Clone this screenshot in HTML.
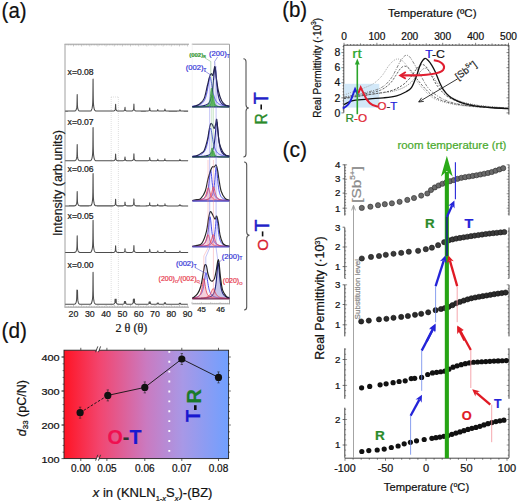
<!DOCTYPE html>
<html><head><meta charset="utf-8"><style>
html,body{margin:0;padding:0;background:#fff;}
body{width:520px;height:504px;overflow:hidden;}
svg{display:block;font-family:"Liberation Sans", sans-serif;}
</style></head><body>
<svg width="520" height="504" viewBox="0 0 520 504">
<rect width="520" height="504" fill="#fff"/>
<text x="1.6" y="17.5" font-size="22.4" fill="#111" text-anchor="start" font-weight="normal" font-style="normal" textLength="25" lengthAdjust="spacingAndGlyphs" stroke="#111" stroke-width="0.22">(a)</text>
<line x1="65" y1="44.2" x2="65" y2="307.4" stroke="#a0a0a0" stroke-width="1"/>
<line x1="64.5" y1="44.2" x2="189" y2="44.2" stroke="#a0a0a0" stroke-width="1"/>
<line x1="64.5" y1="307.2" x2="189" y2="307.2" stroke="#a0a0a0" stroke-width="1"/>
<line x1="66.98" y1="44.2" x2="66.98" y2="45.5" stroke="#a0a0a0" stroke-width="0.6"/>
<line x1="66.98" y1="307.2" x2="66.98" y2="305.9" stroke="#a0a0a0" stroke-width="0.6"/>
<line x1="68.61" y1="44.2" x2="68.61" y2="45.5" stroke="#a0a0a0" stroke-width="0.6"/>
<line x1="68.61" y1="307.2" x2="68.61" y2="305.9" stroke="#a0a0a0" stroke-width="0.6"/>
<line x1="70.24" y1="44.2" x2="70.24" y2="45.5" stroke="#a0a0a0" stroke-width="0.6"/>
<line x1="70.24" y1="307.2" x2="70.24" y2="305.9" stroke="#a0a0a0" stroke-width="0.6"/>
<line x1="71.87" y1="44.2" x2="71.87" y2="45.5" stroke="#a0a0a0" stroke-width="0.6"/>
<line x1="71.87" y1="307.2" x2="71.87" y2="305.9" stroke="#a0a0a0" stroke-width="0.6"/>
<line x1="73.5" y1="44.2" x2="73.5" y2="46.4" stroke="#a0a0a0" stroke-width="0.6"/>
<line x1="73.5" y1="307.2" x2="73.5" y2="305" stroke="#a0a0a0" stroke-width="0.6"/>
<line x1="75.13" y1="44.2" x2="75.13" y2="45.5" stroke="#a0a0a0" stroke-width="0.6"/>
<line x1="75.13" y1="307.2" x2="75.13" y2="305.9" stroke="#a0a0a0" stroke-width="0.6"/>
<line x1="76.76" y1="44.2" x2="76.76" y2="45.5" stroke="#a0a0a0" stroke-width="0.6"/>
<line x1="76.76" y1="307.2" x2="76.76" y2="305.9" stroke="#a0a0a0" stroke-width="0.6"/>
<line x1="78.39" y1="44.2" x2="78.39" y2="45.5" stroke="#a0a0a0" stroke-width="0.6"/>
<line x1="78.39" y1="307.2" x2="78.39" y2="305.9" stroke="#a0a0a0" stroke-width="0.6"/>
<line x1="80.02" y1="44.2" x2="80.02" y2="45.5" stroke="#a0a0a0" stroke-width="0.6"/>
<line x1="80.02" y1="307.2" x2="80.02" y2="305.9" stroke="#a0a0a0" stroke-width="0.6"/>
<line x1="81.65" y1="44.2" x2="81.65" y2="46.4" stroke="#a0a0a0" stroke-width="0.6"/>
<line x1="81.65" y1="307.2" x2="81.65" y2="305" stroke="#a0a0a0" stroke-width="0.6"/>
<line x1="83.28" y1="44.2" x2="83.28" y2="45.5" stroke="#a0a0a0" stroke-width="0.6"/>
<line x1="83.28" y1="307.2" x2="83.28" y2="305.9" stroke="#a0a0a0" stroke-width="0.6"/>
<line x1="84.91" y1="44.2" x2="84.91" y2="45.5" stroke="#a0a0a0" stroke-width="0.6"/>
<line x1="84.91" y1="307.2" x2="84.91" y2="305.9" stroke="#a0a0a0" stroke-width="0.6"/>
<line x1="86.54" y1="44.2" x2="86.54" y2="45.5" stroke="#a0a0a0" stroke-width="0.6"/>
<line x1="86.54" y1="307.2" x2="86.54" y2="305.9" stroke="#a0a0a0" stroke-width="0.6"/>
<line x1="88.17" y1="44.2" x2="88.17" y2="45.5" stroke="#a0a0a0" stroke-width="0.6"/>
<line x1="88.17" y1="307.2" x2="88.17" y2="305.9" stroke="#a0a0a0" stroke-width="0.6"/>
<line x1="89.8" y1="44.2" x2="89.8" y2="46.4" stroke="#a0a0a0" stroke-width="0.6"/>
<line x1="89.8" y1="307.2" x2="89.8" y2="305" stroke="#a0a0a0" stroke-width="0.6"/>
<line x1="91.43" y1="44.2" x2="91.43" y2="45.5" stroke="#a0a0a0" stroke-width="0.6"/>
<line x1="91.43" y1="307.2" x2="91.43" y2="305.9" stroke="#a0a0a0" stroke-width="0.6"/>
<line x1="93.06" y1="44.2" x2="93.06" y2="45.5" stroke="#a0a0a0" stroke-width="0.6"/>
<line x1="93.06" y1="307.2" x2="93.06" y2="305.9" stroke="#a0a0a0" stroke-width="0.6"/>
<line x1="94.69" y1="44.2" x2="94.69" y2="45.5" stroke="#a0a0a0" stroke-width="0.6"/>
<line x1="94.69" y1="307.2" x2="94.69" y2="305.9" stroke="#a0a0a0" stroke-width="0.6"/>
<line x1="96.32" y1="44.2" x2="96.32" y2="45.5" stroke="#a0a0a0" stroke-width="0.6"/>
<line x1="96.32" y1="307.2" x2="96.32" y2="305.9" stroke="#a0a0a0" stroke-width="0.6"/>
<line x1="97.95" y1="44.2" x2="97.95" y2="46.4" stroke="#a0a0a0" stroke-width="0.6"/>
<line x1="97.95" y1="307.2" x2="97.95" y2="305" stroke="#a0a0a0" stroke-width="0.6"/>
<line x1="99.58" y1="44.2" x2="99.58" y2="45.5" stroke="#a0a0a0" stroke-width="0.6"/>
<line x1="99.58" y1="307.2" x2="99.58" y2="305.9" stroke="#a0a0a0" stroke-width="0.6"/>
<line x1="101.21" y1="44.2" x2="101.21" y2="45.5" stroke="#a0a0a0" stroke-width="0.6"/>
<line x1="101.21" y1="307.2" x2="101.21" y2="305.9" stroke="#a0a0a0" stroke-width="0.6"/>
<line x1="102.84" y1="44.2" x2="102.84" y2="45.5" stroke="#a0a0a0" stroke-width="0.6"/>
<line x1="102.84" y1="307.2" x2="102.84" y2="305.9" stroke="#a0a0a0" stroke-width="0.6"/>
<line x1="104.47" y1="44.2" x2="104.47" y2="45.5" stroke="#a0a0a0" stroke-width="0.6"/>
<line x1="104.47" y1="307.2" x2="104.47" y2="305.9" stroke="#a0a0a0" stroke-width="0.6"/>
<line x1="106.1" y1="44.2" x2="106.1" y2="46.4" stroke="#a0a0a0" stroke-width="0.6"/>
<line x1="106.1" y1="307.2" x2="106.1" y2="305" stroke="#a0a0a0" stroke-width="0.6"/>
<line x1="107.73" y1="44.2" x2="107.73" y2="45.5" stroke="#a0a0a0" stroke-width="0.6"/>
<line x1="107.73" y1="307.2" x2="107.73" y2="305.9" stroke="#a0a0a0" stroke-width="0.6"/>
<line x1="109.36" y1="44.2" x2="109.36" y2="45.5" stroke="#a0a0a0" stroke-width="0.6"/>
<line x1="109.36" y1="307.2" x2="109.36" y2="305.9" stroke="#a0a0a0" stroke-width="0.6"/>
<line x1="110.99" y1="44.2" x2="110.99" y2="45.5" stroke="#a0a0a0" stroke-width="0.6"/>
<line x1="110.99" y1="307.2" x2="110.99" y2="305.9" stroke="#a0a0a0" stroke-width="0.6"/>
<line x1="112.62" y1="44.2" x2="112.62" y2="45.5" stroke="#a0a0a0" stroke-width="0.6"/>
<line x1="112.62" y1="307.2" x2="112.62" y2="305.9" stroke="#a0a0a0" stroke-width="0.6"/>
<line x1="114.25" y1="44.2" x2="114.25" y2="46.4" stroke="#a0a0a0" stroke-width="0.6"/>
<line x1="114.25" y1="307.2" x2="114.25" y2="305" stroke="#a0a0a0" stroke-width="0.6"/>
<line x1="115.88" y1="44.2" x2="115.88" y2="45.5" stroke="#a0a0a0" stroke-width="0.6"/>
<line x1="115.88" y1="307.2" x2="115.88" y2="305.9" stroke="#a0a0a0" stroke-width="0.6"/>
<line x1="117.51" y1="44.2" x2="117.51" y2="45.5" stroke="#a0a0a0" stroke-width="0.6"/>
<line x1="117.51" y1="307.2" x2="117.51" y2="305.9" stroke="#a0a0a0" stroke-width="0.6"/>
<line x1="119.14" y1="44.2" x2="119.14" y2="45.5" stroke="#a0a0a0" stroke-width="0.6"/>
<line x1="119.14" y1="307.2" x2="119.14" y2="305.9" stroke="#a0a0a0" stroke-width="0.6"/>
<line x1="120.77" y1="44.2" x2="120.77" y2="45.5" stroke="#a0a0a0" stroke-width="0.6"/>
<line x1="120.77" y1="307.2" x2="120.77" y2="305.9" stroke="#a0a0a0" stroke-width="0.6"/>
<line x1="122.4" y1="44.2" x2="122.4" y2="46.4" stroke="#a0a0a0" stroke-width="0.6"/>
<line x1="122.4" y1="307.2" x2="122.4" y2="305" stroke="#a0a0a0" stroke-width="0.6"/>
<line x1="124.03" y1="44.2" x2="124.03" y2="45.5" stroke="#a0a0a0" stroke-width="0.6"/>
<line x1="124.03" y1="307.2" x2="124.03" y2="305.9" stroke="#a0a0a0" stroke-width="0.6"/>
<line x1="125.66" y1="44.2" x2="125.66" y2="45.5" stroke="#a0a0a0" stroke-width="0.6"/>
<line x1="125.66" y1="307.2" x2="125.66" y2="305.9" stroke="#a0a0a0" stroke-width="0.6"/>
<line x1="127.29" y1="44.2" x2="127.29" y2="45.5" stroke="#a0a0a0" stroke-width="0.6"/>
<line x1="127.29" y1="307.2" x2="127.29" y2="305.9" stroke="#a0a0a0" stroke-width="0.6"/>
<line x1="128.92" y1="44.2" x2="128.92" y2="45.5" stroke="#a0a0a0" stroke-width="0.6"/>
<line x1="128.92" y1="307.2" x2="128.92" y2="305.9" stroke="#a0a0a0" stroke-width="0.6"/>
<line x1="130.55" y1="44.2" x2="130.55" y2="46.4" stroke="#a0a0a0" stroke-width="0.6"/>
<line x1="130.55" y1="307.2" x2="130.55" y2="305" stroke="#a0a0a0" stroke-width="0.6"/>
<line x1="132.18" y1="44.2" x2="132.18" y2="45.5" stroke="#a0a0a0" stroke-width="0.6"/>
<line x1="132.18" y1="307.2" x2="132.18" y2="305.9" stroke="#a0a0a0" stroke-width="0.6"/>
<line x1="133.81" y1="44.2" x2="133.81" y2="45.5" stroke="#a0a0a0" stroke-width="0.6"/>
<line x1="133.81" y1="307.2" x2="133.81" y2="305.9" stroke="#a0a0a0" stroke-width="0.6"/>
<line x1="135.44" y1="44.2" x2="135.44" y2="45.5" stroke="#a0a0a0" stroke-width="0.6"/>
<line x1="135.44" y1="307.2" x2="135.44" y2="305.9" stroke="#a0a0a0" stroke-width="0.6"/>
<line x1="137.07" y1="44.2" x2="137.07" y2="45.5" stroke="#a0a0a0" stroke-width="0.6"/>
<line x1="137.07" y1="307.2" x2="137.07" y2="305.9" stroke="#a0a0a0" stroke-width="0.6"/>
<line x1="138.7" y1="44.2" x2="138.7" y2="46.4" stroke="#a0a0a0" stroke-width="0.6"/>
<line x1="138.7" y1="307.2" x2="138.7" y2="305" stroke="#a0a0a0" stroke-width="0.6"/>
<line x1="140.33" y1="44.2" x2="140.33" y2="45.5" stroke="#a0a0a0" stroke-width="0.6"/>
<line x1="140.33" y1="307.2" x2="140.33" y2="305.9" stroke="#a0a0a0" stroke-width="0.6"/>
<line x1="141.96" y1="44.2" x2="141.96" y2="45.5" stroke="#a0a0a0" stroke-width="0.6"/>
<line x1="141.96" y1="307.2" x2="141.96" y2="305.9" stroke="#a0a0a0" stroke-width="0.6"/>
<line x1="143.59" y1="44.2" x2="143.59" y2="45.5" stroke="#a0a0a0" stroke-width="0.6"/>
<line x1="143.59" y1="307.2" x2="143.59" y2="305.9" stroke="#a0a0a0" stroke-width="0.6"/>
<line x1="145.22" y1="44.2" x2="145.22" y2="45.5" stroke="#a0a0a0" stroke-width="0.6"/>
<line x1="145.22" y1="307.2" x2="145.22" y2="305.9" stroke="#a0a0a0" stroke-width="0.6"/>
<line x1="146.85" y1="44.2" x2="146.85" y2="46.4" stroke="#a0a0a0" stroke-width="0.6"/>
<line x1="146.85" y1="307.2" x2="146.85" y2="305" stroke="#a0a0a0" stroke-width="0.6"/>
<line x1="148.48" y1="44.2" x2="148.48" y2="45.5" stroke="#a0a0a0" stroke-width="0.6"/>
<line x1="148.48" y1="307.2" x2="148.48" y2="305.9" stroke="#a0a0a0" stroke-width="0.6"/>
<line x1="150.11" y1="44.2" x2="150.11" y2="45.5" stroke="#a0a0a0" stroke-width="0.6"/>
<line x1="150.11" y1="307.2" x2="150.11" y2="305.9" stroke="#a0a0a0" stroke-width="0.6"/>
<line x1="151.74" y1="44.2" x2="151.74" y2="45.5" stroke="#a0a0a0" stroke-width="0.6"/>
<line x1="151.74" y1="307.2" x2="151.74" y2="305.9" stroke="#a0a0a0" stroke-width="0.6"/>
<line x1="153.37" y1="44.2" x2="153.37" y2="45.5" stroke="#a0a0a0" stroke-width="0.6"/>
<line x1="153.37" y1="307.2" x2="153.37" y2="305.9" stroke="#a0a0a0" stroke-width="0.6"/>
<line x1="155" y1="44.2" x2="155" y2="46.4" stroke="#a0a0a0" stroke-width="0.6"/>
<line x1="155" y1="307.2" x2="155" y2="305" stroke="#a0a0a0" stroke-width="0.6"/>
<line x1="156.63" y1="44.2" x2="156.63" y2="45.5" stroke="#a0a0a0" stroke-width="0.6"/>
<line x1="156.63" y1="307.2" x2="156.63" y2="305.9" stroke="#a0a0a0" stroke-width="0.6"/>
<line x1="158.26" y1="44.2" x2="158.26" y2="45.5" stroke="#a0a0a0" stroke-width="0.6"/>
<line x1="158.26" y1="307.2" x2="158.26" y2="305.9" stroke="#a0a0a0" stroke-width="0.6"/>
<line x1="159.89" y1="44.2" x2="159.89" y2="45.5" stroke="#a0a0a0" stroke-width="0.6"/>
<line x1="159.89" y1="307.2" x2="159.89" y2="305.9" stroke="#a0a0a0" stroke-width="0.6"/>
<line x1="161.52" y1="44.2" x2="161.52" y2="45.5" stroke="#a0a0a0" stroke-width="0.6"/>
<line x1="161.52" y1="307.2" x2="161.52" y2="305.9" stroke="#a0a0a0" stroke-width="0.6"/>
<line x1="163.15" y1="44.2" x2="163.15" y2="46.4" stroke="#a0a0a0" stroke-width="0.6"/>
<line x1="163.15" y1="307.2" x2="163.15" y2="305" stroke="#a0a0a0" stroke-width="0.6"/>
<line x1="164.78" y1="44.2" x2="164.78" y2="45.5" stroke="#a0a0a0" stroke-width="0.6"/>
<line x1="164.78" y1="307.2" x2="164.78" y2="305.9" stroke="#a0a0a0" stroke-width="0.6"/>
<line x1="166.41" y1="44.2" x2="166.41" y2="45.5" stroke="#a0a0a0" stroke-width="0.6"/>
<line x1="166.41" y1="307.2" x2="166.41" y2="305.9" stroke="#a0a0a0" stroke-width="0.6"/>
<line x1="168.04" y1="44.2" x2="168.04" y2="45.5" stroke="#a0a0a0" stroke-width="0.6"/>
<line x1="168.04" y1="307.2" x2="168.04" y2="305.9" stroke="#a0a0a0" stroke-width="0.6"/>
<line x1="169.67" y1="44.2" x2="169.67" y2="45.5" stroke="#a0a0a0" stroke-width="0.6"/>
<line x1="169.67" y1="307.2" x2="169.67" y2="305.9" stroke="#a0a0a0" stroke-width="0.6"/>
<line x1="171.3" y1="44.2" x2="171.3" y2="46.4" stroke="#a0a0a0" stroke-width="0.6"/>
<line x1="171.3" y1="307.2" x2="171.3" y2="305" stroke="#a0a0a0" stroke-width="0.6"/>
<line x1="172.93" y1="44.2" x2="172.93" y2="45.5" stroke="#a0a0a0" stroke-width="0.6"/>
<line x1="172.93" y1="307.2" x2="172.93" y2="305.9" stroke="#a0a0a0" stroke-width="0.6"/>
<line x1="174.56" y1="44.2" x2="174.56" y2="45.5" stroke="#a0a0a0" stroke-width="0.6"/>
<line x1="174.56" y1="307.2" x2="174.56" y2="305.9" stroke="#a0a0a0" stroke-width="0.6"/>
<line x1="176.19" y1="44.2" x2="176.19" y2="45.5" stroke="#a0a0a0" stroke-width="0.6"/>
<line x1="176.19" y1="307.2" x2="176.19" y2="305.9" stroke="#a0a0a0" stroke-width="0.6"/>
<line x1="177.82" y1="44.2" x2="177.82" y2="45.5" stroke="#a0a0a0" stroke-width="0.6"/>
<line x1="177.82" y1="307.2" x2="177.82" y2="305.9" stroke="#a0a0a0" stroke-width="0.6"/>
<line x1="179.45" y1="44.2" x2="179.45" y2="46.4" stroke="#a0a0a0" stroke-width="0.6"/>
<line x1="179.45" y1="307.2" x2="179.45" y2="305" stroke="#a0a0a0" stroke-width="0.6"/>
<line x1="181.08" y1="44.2" x2="181.08" y2="45.5" stroke="#a0a0a0" stroke-width="0.6"/>
<line x1="181.08" y1="307.2" x2="181.08" y2="305.9" stroke="#a0a0a0" stroke-width="0.6"/>
<line x1="182.71" y1="44.2" x2="182.71" y2="45.5" stroke="#a0a0a0" stroke-width="0.6"/>
<line x1="182.71" y1="307.2" x2="182.71" y2="305.9" stroke="#a0a0a0" stroke-width="0.6"/>
<line x1="184.34" y1="44.2" x2="184.34" y2="45.5" stroke="#a0a0a0" stroke-width="0.6"/>
<line x1="184.34" y1="307.2" x2="184.34" y2="305.9" stroke="#a0a0a0" stroke-width="0.6"/>
<line x1="185.97" y1="44.2" x2="185.97" y2="45.5" stroke="#a0a0a0" stroke-width="0.6"/>
<line x1="185.97" y1="307.2" x2="185.97" y2="305.9" stroke="#a0a0a0" stroke-width="0.6"/>
<line x1="187.6" y1="44.2" x2="187.6" y2="46.4" stroke="#a0a0a0" stroke-width="0.6"/>
<line x1="187.6" y1="307.2" x2="187.6" y2="305" stroke="#a0a0a0" stroke-width="0.6"/>
<line x1="191.8" y1="44.2" x2="229.5" y2="44.2" stroke="#a0a0a0" stroke-width="1"/>
<line x1="229.5" y1="44.2" x2="229.5" y2="304.3" stroke="#a0a0a0" stroke-width="1"/>
<line x1="191.8" y1="303.8" x2="229.5" y2="303.8" stroke="#a0a0a0" stroke-width="1"/>
<line x1="192.2" y1="44.2" x2="192.2" y2="303.8" stroke="#ececec" stroke-width="0.6"/>
<line x1="192" y1="303.8" x2="192" y2="302" stroke="#a0a0a0" stroke-width="0.5"/>
<line x1="193.87" y1="303.8" x2="193.87" y2="302.8" stroke="#a0a0a0" stroke-width="0.5"/>
<line x1="195.74" y1="303.8" x2="195.74" y2="302.8" stroke="#a0a0a0" stroke-width="0.5"/>
<line x1="197.61" y1="303.8" x2="197.61" y2="302.8" stroke="#a0a0a0" stroke-width="0.5"/>
<line x1="199.48" y1="303.8" x2="199.48" y2="302.8" stroke="#a0a0a0" stroke-width="0.5"/>
<line x1="201.35" y1="303.8" x2="201.35" y2="302" stroke="#a0a0a0" stroke-width="0.5"/>
<line x1="203.22" y1="303.8" x2="203.22" y2="302.8" stroke="#a0a0a0" stroke-width="0.5"/>
<line x1="205.09" y1="303.8" x2="205.09" y2="302.8" stroke="#a0a0a0" stroke-width="0.5"/>
<line x1="206.96" y1="303.8" x2="206.96" y2="302.8" stroke="#a0a0a0" stroke-width="0.5"/>
<line x1="208.83" y1="303.8" x2="208.83" y2="302.8" stroke="#a0a0a0" stroke-width="0.5"/>
<line x1="210.7" y1="303.8" x2="210.7" y2="302" stroke="#a0a0a0" stroke-width="0.5"/>
<line x1="212.57" y1="303.8" x2="212.57" y2="302.8" stroke="#a0a0a0" stroke-width="0.5"/>
<line x1="214.44" y1="303.8" x2="214.44" y2="302.8" stroke="#a0a0a0" stroke-width="0.5"/>
<line x1="216.31" y1="303.8" x2="216.31" y2="302.8" stroke="#a0a0a0" stroke-width="0.5"/>
<line x1="218.18" y1="303.8" x2="218.18" y2="302.8" stroke="#a0a0a0" stroke-width="0.5"/>
<line x1="220.05" y1="303.8" x2="220.05" y2="302" stroke="#a0a0a0" stroke-width="0.5"/>
<line x1="221.92" y1="303.8" x2="221.92" y2="302.8" stroke="#a0a0a0" stroke-width="0.5"/>
<line x1="223.79" y1="303.8" x2="223.79" y2="302.8" stroke="#a0a0a0" stroke-width="0.5"/>
<line x1="225.66" y1="303.8" x2="225.66" y2="302.8" stroke="#a0a0a0" stroke-width="0.5"/>
<line x1="227.53" y1="303.8" x2="227.53" y2="302.8" stroke="#a0a0a0" stroke-width="0.5"/>
<line x1="111.2" y1="97" x2="111.2" y2="307" stroke="#bdbdbd" stroke-width="0.6" stroke-dasharray="0.8,1.2"/>
<line x1="118.4" y1="97" x2="118.4" y2="307" stroke="#bdbdbd" stroke-width="0.6" stroke-dasharray="0.8,1.2"/>
<line x1="111.2" y1="97" x2="118.4" y2="97" stroke="#bdbdbd" stroke-width="0.6" stroke-dasharray="0.8,1.2"/>
<polyline points="65.19,111.1 66,111.1 66.82,111.1 67.63,111.1 68.45,111.09 69.26,111.09 70.08,111.09 70.89,111.09 71.71,111.09 72.52,111.08 73.34,111.08 74.15,111.06 74.97,110.98 75.78,110.4 75.83,110.33 75.88,110.26 75.93,110.17 75.98,110.09 76.03,110 76.08,109.9 76.12,109.8 76.17,109.69 76.22,109.58 76.27,109.45 76.32,109.33 76.37,109.19 76.42,109.05 76.47,108.89 76.52,108.73 76.56,108.55 76.61,108.35 76.66,108.12 76.71,107.85 76.76,107.53 76.81,107.14 76.86,106.63 76.91,105.94 76.96,104.98 77,103.6 77.05,101.59 77.1,98.86 77.15,95.91 77.2,94.5 77.25,95.91 77.3,98.86 77.35,101.59 77.4,103.6 77.44,104.98 77.49,105.94 77.54,106.63 77.59,107.14 77.64,107.53 77.69,107.85 77.74,108.12 77.79,108.35 77.84,108.55 77.88,108.73 77.93,108.89 77.98,109.05 78.03,109.19 78.08,109.33 78.13,109.45 78.18,109.57 78.23,109.69 78.28,109.8 78.32,109.9 78.37,110 78.42,110.09 78.47,110.17 78.52,110.25 78.57,110.33 78.62,110.4 78.67,110.46 78.72,110.52 78.76,110.58 78.81,110.63 78.86,110.68 79.68,111.02 80.49,111.07 81.31,111.08 82.12,111.08 82.94,111.08 83.75,111.09 84.57,111.09 85.38,111.09 86.2,111.08 87.01,111.08 87.83,111.08 88.64,111.07 89.46,111.05 90.27,111.01 91.09,110.69 91.9,108.88 91.95,108.69 92,108.48 92.05,108.27 92.1,108.04 92.15,107.8 92.2,107.54 92.25,107.27 92.29,106.99 92.34,106.68 92.39,106.35 92.44,105.98 92.49,105.57 92.54,105.1 92.59,104.55 92.64,103.88 92.69,103.04 92.73,101.95 92.78,100.45 92.83,98.33 92.88,95.26 92.93,90.85 92.98,85.14 93.03,79.9 93.08,78.94 93.13,83.17 93.17,89.06 93.22,93.96 93.27,97.43 93.32,99.83 93.37,101.5 93.42,102.71 93.47,103.63 93.52,104.34 93.57,104.93 93.61,105.42 93.66,105.85 93.71,106.23 93.76,106.57 93.81,106.89 93.86,107.18 93.91,107.46 93.96,107.72 94.01,107.96 94.05,108.19 94.1,108.41 94.15,108.62 94.2,108.82 94.25,109.01 94.3,109.18 94.35,109.35 94.4,109.5 94.45,109.64 94.49,109.78 94.54,109.9 94.59,110.01 94.64,110.12 94.69,110.22 95.51,110.95 96.32,111.04 97.14,111.06 97.95,111.07 98.77,111.08 99.58,111.08 100.4,111.09 101.21,111.09 102.03,111.09 102.84,111.09 103.66,111.09 104.47,111.09 105.29,111.09 106.1,111.09 106.92,111.09 107.73,111.09 108.55,111.09 109.36,111.09 110.18,111.09 110.99,111.09 111.81,111.09 112.62,111.08 113.44,111.04 114.25,110.77 114.3,110.74 114.35,110.71 114.4,110.67 114.45,110.63 114.49,110.59 114.54,110.55 114.59,110.51 114.64,110.46 114.69,110.41 114.74,110.35 114.79,110.3 114.84,110.24 114.89,110.17 114.93,110.1 114.98,110.03 115.03,109.94 115.08,109.84 115.13,109.73 115.18,109.59 115.23,109.41 115.28,109.18 115.33,108.87 115.37,108.43 115.42,107.78 115.47,106.86 115.52,105.67 115.57,104.57 115.62,104.37 115.67,105.25 115.72,106.49 115.77,107.51 115.81,108.24 115.86,108.74 115.91,109.09 115.96,109.34 116.01,109.53 116.06,109.68 116.11,109.81 116.16,109.91 116.21,110 116.25,110.08 116.3,110.15 116.35,110.22 116.4,110.28 116.45,110.34 116.5,110.39 116.55,110.44 116.6,110.49 116.65,110.54 116.7,110.58 116.74,110.62 116.79,110.66 116.84,110.7 116.89,110.73 116.94,110.76 116.99,110.79 117.04,110.82 117.09,110.85 117.14,110.87 117.18,110.89 117.23,110.91 118.05,111.06 118.86,111.08 119.68,111.09 120.49,111.09 121.31,111.09 122.12,111.09 122.94,111.06 123.75,110.88 123.8,110.86 123.85,110.84 123.9,110.81 123.95,110.79 124,110.77 124.05,110.74 124.1,110.71 124.14,110.68 124.19,110.65 124.24,110.62 124.29,110.58 124.34,110.54 124.39,110.5 124.44,110.45 124.49,110.39 124.54,110.33 124.58,110.25 124.63,110.15 124.68,110.03 124.73,109.85 124.78,109.6 124.83,109.24 124.88,108.73 124.93,108.06 124.98,107.45 125.02,107.34 125.07,107.83 125.12,108.52 125.17,109.09 125.22,109.5 125.27,109.78 125.32,109.97 125.37,110.12 125.42,110.22 125.46,110.31 125.51,110.37 125.56,110.43 125.61,110.48 125.66,110.53 125.71,110.57 125.76,110.6 125.81,110.64 125.86,110.67 125.9,110.7 125.95,110.73 126,110.76 126.05,110.78 126.1,110.81 126.15,110.83 126.2,110.85 126.25,110.87 126.3,110.89 126.34,110.91 126.39,110.93 126.44,110.94 126.49,110.96 126.54,110.97 126.59,110.98 126.64,110.99 127.45,111.08 128.27,111.09 129.08,111.09 129.9,111.09 130.71,111.08 131.53,111.06 132.34,110.88 132.39,110.86 132.44,110.83 132.49,110.8 132.54,110.77 132.59,110.74 132.64,110.71 132.69,110.67 132.73,110.63 132.78,110.59 132.83,110.55 132.88,110.5 132.93,110.46 132.98,110.4 133.03,110.35 133.08,110.29 133.13,110.23 133.17,110.17 133.22,110.1 133.27,110.02 133.32,109.94 133.37,109.84 133.42,109.73 133.47,109.6 133.52,109.43 133.57,109.21 133.61,108.92 133.66,108.52 133.71,107.94 133.76,107.09 133.81,105.94 133.86,104.69 133.91,104.1 133.96,104.69 134.01,105.94 134.05,107.09 134.1,107.94 134.15,108.52 134.2,108.92 134.25,109.21 134.3,109.43 134.35,109.6 134.4,109.73 134.45,109.84 134.49,109.94 134.54,110.02 134.59,110.1 134.64,110.17 134.69,110.23 134.74,110.29 134.79,110.35 134.84,110.41 134.89,110.46 134.93,110.5 134.98,110.55 135.03,110.59 135.08,110.63 135.13,110.67 135.18,110.71 135.23,110.74 135.28,110.77 135.33,110.8 135.37,110.83 135.42,110.86 135.47,110.88 135.52,110.9 135.57,110.92 136.39,111.07 137.2,111.09 138.02,111.09 138.83,111.09 139.65,111.09 140.46,111.1 141.28,111.1 142.09,111.1 142.91,111.1 143.72,111.1 144.54,111.1 145.35,111.1 146.17,111.09 146.98,111.09 147.8,111.05 148.61,110.85 148.66,110.83 148.71,110.81 148.76,110.79 148.81,110.77 148.85,110.74 148.9,110.71 148.95,110.68 149,110.65 149.05,110.62 149.1,110.58 149.15,110.54 149.2,110.49 149.25,110.43 149.3,110.36 149.34,110.27 149.39,110.15 149.44,109.99 149.49,109.75 149.54,109.41 149.59,108.93 149.64,108.35 149.69,107.93 149.74,108.03 149.78,108.54 149.83,109.11 149.88,109.54 149.93,109.84 149.98,110.05 150.03,110.2 150.08,110.31 150.13,110.39 150.18,110.45 150.22,110.51 150.27,110.55 150.32,110.59 150.37,110.63 150.42,110.66 150.47,110.69 150.52,110.72 150.57,110.75 150.62,110.77 150.66,110.8 150.71,110.82 150.76,110.84 150.81,110.86 150.86,110.88 150.91,110.9 150.96,110.91 151.01,110.93 151.06,110.95 151.1,110.96 151.15,110.97 151.2,110.98 151.25,111 151.3,111.01 151.35,111.01 152.16,111.08 152.98,111.09 153.79,111.09 154.61,111.09 155.42,111.09 156.24,111.04 156.29,111.04 156.34,111.03 156.39,111.03 156.43,111.02 156.48,111.01 156.53,111 156.58,110.99 156.63,110.99 156.68,110.98 156.73,110.97 156.78,110.95 156.83,110.94 156.87,110.93 156.92,110.92 156.97,110.9 157.02,110.89 157.07,110.87 157.12,110.86 157.17,110.84 157.22,110.82 157.27,110.79 157.31,110.77 157.36,110.73 157.41,110.68 157.46,110.63 157.51,110.54 157.56,110.43 157.61,110.25 157.66,110.01 157.71,109.72 157.75,109.51 157.8,109.56 157.85,109.82 157.9,110.1 157.95,110.32 158,110.47 158.05,110.57 158.1,110.65 158.15,110.7 158.19,110.74 158.24,110.78 158.29,110.8 158.34,110.83 158.39,110.85 158.44,110.86 158.49,110.88 158.54,110.9 158.59,110.91 158.63,110.92 158.68,110.94 158.73,110.95 158.78,110.96 158.83,110.97 158.88,110.98 158.93,110.99 158.98,111 159.03,111.01 159.08,111.01 159.12,111.02 159.17,111.03 159.22,111.03 159.27,111.04 159.32,111.05 159.37,111.05 159.42,111.06 160.23,111.09 161.05,111.09 161.86,111.09 162.68,111.08 163.49,111.02 163.54,111.01 163.59,111 163.64,110.99 163.69,110.98 163.74,110.97 163.79,110.96 163.83,110.95 163.88,110.94 163.93,110.92 163.98,110.91 164.03,110.9 164.08,110.88 164.13,110.86 164.18,110.85 164.23,110.83 164.27,110.81 164.32,110.78 164.37,110.76 164.42,110.73 164.47,110.7 164.52,110.65 164.57,110.6 164.62,110.54 164.67,110.44 164.71,110.31 164.76,110.12 164.81,109.85 164.86,109.5 164.91,109.18 164.96,109.12 165.01,109.38 165.06,109.74 165.11,110.04 165.15,110.26 165.2,110.41 165.25,110.51 165.3,110.58 165.35,110.64 165.4,110.68 165.45,110.72 165.5,110.75 165.55,110.78 165.6,110.8 165.64,110.82 165.69,110.84 165.74,110.86 165.79,110.87 165.84,110.89 165.89,110.91 165.94,110.92 165.99,110.93 166.04,110.95 166.08,110.96 166.13,110.97 166.18,110.98 166.23,110.99 166.28,111 166.33,111.01 166.38,111.02 166.43,111.03 166.48,111.03 166.52,111.04 166.57,111.04 167.39,111.09 168.2,111.1 169.02,111.1 169.83,111.1 170.65,111.1 171.46,111.1 172.28,111.1 173.09,111.1 173.91,111.1 174.72,111.1 175.54,111.1 176.35,111.1 177.17,111.1 177.98,111.08 178.8,111 178.85,110.99 178.9,110.98 178.94,110.97 178.99,110.96 179.04,110.95 179.09,110.94 179.14,110.93 179.19,110.92 179.24,110.9 179.29,110.89 179.34,110.87 179.38,110.85 179.43,110.83 179.48,110.81 179.53,110.78 179.58,110.74 179.63,110.69 179.68,110.61 179.73,110.51 179.78,110.36 179.82,110.15 179.87,109.9 179.92,109.71 179.97,109.76 180.02,109.98 180.07,110.23 180.12,110.42 180.17,110.55 180.22,110.64 180.27,110.71 180.31,110.75 180.36,110.79 180.41,110.82 180.46,110.84 180.51,110.86 180.56,110.88 180.61,110.89 180.66,110.91 180.71,110.92 180.75,110.93 180.8,110.95 180.85,110.96 180.9,110.97 180.95,110.98 181,110.99 181.05,111 181.1,111 181.15,111.01 181.19,111.02 181.24,111.03 181.29,111.03 181.34,111.04 181.39,111.04 181.44,111.05 181.49,111.05 181.54,111.06 181.59,111.06 182.4,111.09 183.22,111.1 184.03,111.1 184.85,111.1 185.66,111.1 186.48,111.1 187.29,111.1 188.11,111.1" stroke="#4d4d4d" stroke-width="1.05" fill="none" stroke-linejoin="round"/>
<text x="67.6" y="74.7" font-size="8.2" fill="#1a1a1a" text-anchor="start" font-weight="normal" font-style="normal" textLength="26" lengthAdjust="spacingAndGlyphs" stroke="#1a1a1a" stroke-width="0.22">x=0.08</text>
<polyline points="65.19,160.8 66,160.8 66.82,160.8 67.63,160.8 68.45,160.79 69.26,160.79 70.08,160.79 70.89,160.79 71.71,160.79 72.52,160.78 73.34,160.78 74.15,160.76 74.97,160.68 75.78,160.11 75.83,160.04 75.88,159.97 75.93,159.89 75.98,159.81 76.03,159.72 76.08,159.62 76.12,159.52 76.17,159.42 76.22,159.3 76.27,159.18 76.32,159.06 76.37,158.93 76.42,158.78 76.47,158.63 76.52,158.47 76.56,158.29 76.61,158.1 76.66,157.87 76.71,157.61 76.76,157.3 76.81,156.91 76.86,156.41 76.91,155.73 76.96,154.79 77,153.43 77.05,151.46 77.1,148.78 77.15,145.89 77.2,144.5 77.25,145.89 77.3,148.78 77.35,151.46 77.4,153.43 77.44,154.79 77.49,155.73 77.54,156.41 77.59,156.91 77.64,157.3 77.69,157.61 77.74,157.87 77.79,158.1 77.84,158.29 77.88,158.47 77.93,158.63 77.98,158.78 78.03,158.93 78.08,159.06 78.13,159.18 78.18,159.3 78.23,159.41 78.28,159.52 78.32,159.62 78.37,159.72 78.42,159.81 78.47,159.89 78.52,159.97 78.57,160.04 78.62,160.11 78.67,160.18 78.72,160.23 78.76,160.29 78.81,160.34 78.86,160.38 79.68,160.72 80.49,160.77 81.31,160.78 82.12,160.78 82.94,160.78 83.75,160.79 84.57,160.79 85.38,160.78 86.2,160.78 87.01,160.78 87.83,160.77 88.64,160.77 89.46,160.75 90.27,160.7 91.09,160.37 91.9,158.5 91.95,158.3 92,158.09 92.05,157.86 92.1,157.63 92.15,157.38 92.2,157.11 92.25,156.83 92.29,156.54 92.34,156.22 92.39,155.87 92.44,155.49 92.49,155.07 92.54,154.58 92.59,154.01 92.64,153.32 92.69,152.45 92.73,151.31 92.78,149.76 92.83,147.56 92.88,144.38 92.93,139.81 92.98,133.88 93.03,128.45 93.08,127.45 93.13,131.84 93.17,137.94 93.22,143.02 93.27,146.63 93.32,149.11 93.37,150.85 93.42,152.1 93.47,153.05 93.52,153.79 93.57,154.4 93.61,154.91 93.66,155.35 93.71,155.75 93.76,156.1 93.81,156.43 93.86,156.74 93.91,157.02 93.96,157.29 94.01,157.55 94.05,157.79 94.1,158.01 94.15,158.23 94.2,158.44 94.25,158.63 94.3,158.81 94.35,158.98 94.4,159.14 94.45,159.29 94.49,159.43 94.54,159.56 94.59,159.67 94.64,159.78 94.69,159.88 95.51,160.64 96.32,160.74 97.14,160.76 97.95,160.77 98.77,160.78 99.58,160.78 100.4,160.79 101.21,160.79 102.03,160.79 102.84,160.79 103.66,160.79 104.47,160.79 105.29,160.79 106.1,160.79 106.92,160.79 107.73,160.79 108.55,160.79 109.36,160.79 110.18,160.79 110.99,160.79 111.81,160.79 112.62,160.78 113.44,160.74 114.25,160.47 114.3,160.44 114.35,160.41 114.4,160.37 114.45,160.33 114.49,160.29 114.54,160.25 114.59,160.21 114.64,160.16 114.69,160.11 114.74,160.05 114.79,160 114.84,159.94 114.89,159.87 114.93,159.8 114.98,159.73 115.03,159.64 115.08,159.54 115.13,159.43 115.18,159.29 115.23,159.11 115.28,158.88 115.33,158.57 115.37,158.13 115.42,157.48 115.47,156.56 115.52,155.37 115.57,154.27 115.62,154.07 115.67,154.95 115.72,156.19 115.77,157.21 115.81,157.94 115.86,158.44 115.91,158.79 115.96,159.04 116.01,159.23 116.06,159.38 116.11,159.51 116.16,159.61 116.21,159.7 116.25,159.78 116.3,159.85 116.35,159.92 116.4,159.98 116.45,160.04 116.5,160.09 116.55,160.14 116.6,160.19 116.65,160.24 116.7,160.28 116.74,160.32 116.79,160.36 116.84,160.4 116.89,160.43 116.94,160.46 116.99,160.49 117.04,160.52 117.09,160.55 117.14,160.57 117.18,160.59 117.23,160.61 118.05,160.76 118.86,160.78 119.68,160.79 120.49,160.79 121.31,160.79 122.12,160.79 122.94,160.76 123.75,160.58 123.8,160.56 123.85,160.54 123.9,160.51 123.95,160.49 124,160.47 124.05,160.44 124.1,160.41 124.14,160.38 124.19,160.35 124.24,160.32 124.29,160.28 124.34,160.24 124.39,160.2 124.44,160.15 124.49,160.09 124.54,160.03 124.58,159.95 124.63,159.85 124.68,159.73 124.73,159.55 124.78,159.3 124.83,158.94 124.88,158.43 124.93,157.76 124.98,157.15 125.02,157.04 125.07,157.53 125.12,158.22 125.17,158.79 125.22,159.2 125.27,159.48 125.32,159.67 125.37,159.82 125.42,159.92 125.46,160.01 125.51,160.07 125.56,160.13 125.61,160.18 125.66,160.23 125.71,160.27 125.76,160.3 125.81,160.34 125.86,160.37 125.9,160.4 125.95,160.43 126,160.46 126.05,160.48 126.1,160.51 126.15,160.53 126.2,160.55 126.25,160.57 126.3,160.59 126.34,160.61 126.39,160.63 126.44,160.64 126.49,160.66 126.54,160.67 126.59,160.68 126.64,160.69 127.45,160.78 128.27,160.79 129.08,160.79 129.9,160.79 130.71,160.78 131.53,160.76 132.34,160.58 132.39,160.56 132.44,160.53 132.49,160.5 132.54,160.47 132.59,160.44 132.64,160.41 132.69,160.37 132.73,160.33 132.78,160.29 132.83,160.25 132.88,160.2 132.93,160.16 132.98,160.1 133.03,160.05 133.08,159.99 133.13,159.93 133.17,159.87 133.22,159.8 133.27,159.72 133.32,159.64 133.37,159.54 133.42,159.43 133.47,159.3 133.52,159.13 133.57,158.91 133.61,158.62 133.66,158.22 133.71,157.64 133.76,156.79 133.81,155.64 133.86,154.39 133.91,153.8 133.96,154.39 134.01,155.64 134.05,156.79 134.1,157.64 134.15,158.22 134.2,158.62 134.25,158.91 134.3,159.13 134.35,159.3 134.4,159.43 134.45,159.54 134.49,159.64 134.54,159.72 134.59,159.8 134.64,159.87 134.69,159.93 134.74,159.99 134.79,160.05 134.84,160.11 134.89,160.16 134.93,160.2 134.98,160.25 135.03,160.29 135.08,160.33 135.13,160.37 135.18,160.41 135.23,160.44 135.28,160.47 135.33,160.5 135.37,160.53 135.42,160.56 135.47,160.58 135.52,160.6 135.57,160.62 136.39,160.77 137.2,160.79 138.02,160.79 138.83,160.79 139.65,160.79 140.46,160.8 141.28,160.8 142.09,160.8 142.91,160.8 143.72,160.8 144.54,160.8 145.35,160.8 146.17,160.79 146.98,160.79 147.8,160.75 148.61,160.55 148.66,160.53 148.71,160.51 148.76,160.49 148.81,160.47 148.85,160.44 148.9,160.41 148.95,160.38 149,160.35 149.05,160.32 149.1,160.28 149.15,160.24 149.2,160.19 149.25,160.13 149.3,160.06 149.34,159.97 149.39,159.85 149.44,159.69 149.49,159.45 149.54,159.11 149.59,158.63 149.64,158.05 149.69,157.63 149.74,157.73 149.78,158.24 149.83,158.81 149.88,159.24 149.93,159.54 149.98,159.75 150.03,159.9 150.08,160.01 150.13,160.09 150.18,160.15 150.22,160.21 150.27,160.25 150.32,160.29 150.37,160.33 150.42,160.36 150.47,160.39 150.52,160.42 150.57,160.45 150.62,160.47 150.66,160.5 150.71,160.52 150.76,160.54 150.81,160.56 150.86,160.58 150.91,160.6 150.96,160.61 151.01,160.63 151.06,160.65 151.1,160.66 151.15,160.67 151.2,160.68 151.25,160.7 151.3,160.71 151.35,160.71 152.16,160.78 152.98,160.79 153.79,160.79 154.61,160.79 155.42,160.79 156.24,160.74 156.29,160.74 156.34,160.73 156.39,160.73 156.43,160.72 156.48,160.71 156.53,160.7 156.58,160.69 156.63,160.69 156.68,160.68 156.73,160.67 156.78,160.65 156.83,160.64 156.87,160.63 156.92,160.62 156.97,160.6 157.02,160.59 157.07,160.57 157.12,160.56 157.17,160.54 157.22,160.52 157.27,160.49 157.31,160.47 157.36,160.43 157.41,160.38 157.46,160.33 157.51,160.24 157.56,160.13 157.61,159.95 157.66,159.71 157.71,159.42 157.75,159.21 157.8,159.26 157.85,159.52 157.9,159.8 157.95,160.02 158,160.17 158.05,160.27 158.1,160.35 158.15,160.4 158.19,160.44 158.24,160.48 158.29,160.5 158.34,160.53 158.39,160.55 158.44,160.56 158.49,160.58 158.54,160.6 158.59,160.61 158.63,160.62 158.68,160.64 158.73,160.65 158.78,160.66 158.83,160.67 158.88,160.68 158.93,160.69 158.98,160.7 159.03,160.71 159.08,160.71 159.12,160.72 159.17,160.73 159.22,160.73 159.27,160.74 159.32,160.75 159.37,160.75 159.42,160.76 160.23,160.79 161.05,160.79 161.86,160.79 162.68,160.78 163.49,160.72 163.54,160.71 163.59,160.7 163.64,160.69 163.69,160.68 163.74,160.67 163.79,160.66 163.83,160.65 163.88,160.64 163.93,160.62 163.98,160.61 164.03,160.6 164.08,160.58 164.13,160.56 164.18,160.55 164.23,160.53 164.27,160.51 164.32,160.48 164.37,160.46 164.42,160.43 164.47,160.4 164.52,160.35 164.57,160.3 164.62,160.24 164.67,160.14 164.71,160.01 164.76,159.82 164.81,159.55 164.86,159.2 164.91,158.88 164.96,158.82 165.01,159.08 165.06,159.44 165.11,159.74 165.15,159.96 165.2,160.11 165.25,160.21 165.3,160.28 165.35,160.34 165.4,160.38 165.45,160.42 165.5,160.45 165.55,160.48 165.6,160.5 165.64,160.52 165.69,160.54 165.74,160.56 165.79,160.57 165.84,160.59 165.89,160.61 165.94,160.62 165.99,160.63 166.04,160.65 166.08,160.66 166.13,160.67 166.18,160.68 166.23,160.69 166.28,160.7 166.33,160.71 166.38,160.72 166.43,160.73 166.48,160.73 166.52,160.74 166.57,160.74 167.39,160.79 168.2,160.8 169.02,160.8 169.83,160.8 170.65,160.8 171.46,160.8 172.28,160.8 173.09,160.8 173.91,160.8 174.72,160.8 175.54,160.8 176.35,160.8 177.17,160.8 177.98,160.78 178.8,160.7 178.85,160.69 178.9,160.68 178.94,160.67 178.99,160.66 179.04,160.65 179.09,160.64 179.14,160.63 179.19,160.62 179.24,160.6 179.29,160.59 179.34,160.57 179.38,160.55 179.43,160.53 179.48,160.51 179.53,160.48 179.58,160.44 179.63,160.39 179.68,160.31 179.73,160.21 179.78,160.06 179.82,159.85 179.87,159.6 179.92,159.41 179.97,159.46 180.02,159.68 180.07,159.93 180.12,160.12 180.17,160.25 180.22,160.34 180.27,160.41 180.31,160.45 180.36,160.49 180.41,160.52 180.46,160.54 180.51,160.56 180.56,160.58 180.61,160.59 180.66,160.61 180.71,160.62 180.75,160.63 180.8,160.65 180.85,160.66 180.9,160.67 180.95,160.68 181,160.69 181.05,160.7 181.1,160.7 181.15,160.71 181.19,160.72 181.24,160.73 181.29,160.73 181.34,160.74 181.39,160.74 181.44,160.75 181.49,160.75 181.54,160.76 181.59,160.76 182.4,160.79 183.22,160.8 184.03,160.8 184.85,160.8 185.66,160.8 186.48,160.8 187.29,160.8 188.11,160.8" stroke="#4d4d4d" stroke-width="1.05" fill="none" stroke-linejoin="round"/>
<text x="67.6" y="125" font-size="8.2" fill="#1a1a1a" text-anchor="start" font-weight="normal" font-style="normal" textLength="26" lengthAdjust="spacingAndGlyphs" stroke="#1a1a1a" stroke-width="0.22">x=0.07</text>
<polyline points="65.19,205.9 66,205.9 66.82,205.9 67.63,205.9 68.45,205.9 69.26,205.89 70.08,205.89 70.89,205.89 71.71,205.89 72.52,205.89 73.34,205.88 74.15,205.87 74.97,205.8 75.78,205.3 75.83,205.24 75.88,205.17 75.93,205.1 75.98,205.03 76.03,204.95 76.08,204.87 76.12,204.78 76.17,204.68 76.22,204.59 76.27,204.48 76.32,204.37 76.37,204.26 76.42,204.13 76.47,204 76.52,203.86 76.56,203.7 76.61,203.53 76.66,203.33 76.71,203.1 76.76,202.83 76.81,202.49 76.86,202.05 76.91,201.46 76.96,200.63 77,199.44 77.05,197.71 77.1,195.35 77.15,192.82 77.2,191.6 77.25,192.82 77.3,195.35 77.35,197.71 77.4,199.44 77.44,200.63 77.49,201.46 77.54,202.05 77.59,202.49 77.64,202.83 77.69,203.1 77.74,203.33 77.79,203.53 77.84,203.7 77.88,203.86 77.93,204 77.98,204.13 78.03,204.26 78.08,204.37 78.13,204.48 78.18,204.59 78.23,204.68 78.28,204.78 78.32,204.87 78.37,204.95 78.42,205.03 78.47,205.1 78.52,205.17 78.57,205.24 78.62,205.3 78.67,205.35 78.72,205.4 78.76,205.45 78.81,205.5 78.86,205.54 79.68,205.83 80.49,205.87 81.31,205.88 82.12,205.88 82.94,205.89 83.75,205.89 84.57,205.89 85.38,205.89 86.2,205.88 87.01,205.88 87.83,205.88 88.64,205.87 89.46,205.85 90.27,205.81 91.09,205.48 91.9,203.67 91.95,203.47 92,203.27 92.05,203.05 92.1,202.82 92.15,202.58 92.2,202.32 92.25,202.05 92.29,201.76 92.34,201.45 92.39,201.12 92.44,200.75 92.49,200.34 92.54,199.86 92.59,199.31 92.64,198.64 92.69,197.8 92.73,196.69 92.78,195.18 92.83,193.05 92.88,189.97 92.93,185.53 92.98,179.78 93.03,174.51 93.08,173.54 93.13,177.8 93.17,183.72 93.22,188.65 93.27,192.15 93.32,194.56 93.37,196.24 93.42,197.46 93.47,198.38 93.52,199.1 93.57,199.69 93.61,200.19 93.66,200.62 93.71,201 93.76,201.34 93.81,201.66 93.86,201.96 93.91,202.23 93.96,202.5 94.01,202.74 94.05,202.98 94.1,203.2 94.15,203.41 94.2,203.61 94.25,203.79 94.3,203.97 94.35,204.13 94.4,204.29 94.45,204.43 94.49,204.57 94.54,204.69 94.59,204.81 94.64,204.91 94.69,205.01 95.51,205.74 96.32,205.84 97.14,205.86 97.95,205.87 98.77,205.88 99.58,205.88 100.4,205.89 101.21,205.89 102.03,205.89 102.84,205.89 103.66,205.89 104.47,205.89 105.29,205.89 106.1,205.89 106.92,205.89 107.73,205.89 108.55,205.89 109.36,205.89 110.18,205.89 110.99,205.89 111.81,205.89 112.62,205.88 113.44,205.84 114.25,205.57 114.3,205.54 114.35,205.51 114.4,205.47 114.45,205.43 114.49,205.39 114.54,205.35 114.59,205.31 114.64,205.26 114.69,205.21 114.74,205.15 114.79,205.1 114.84,205.04 114.89,204.97 114.93,204.9 114.98,204.83 115.03,204.74 115.08,204.64 115.13,204.53 115.18,204.39 115.23,204.21 115.28,203.98 115.33,203.67 115.37,203.23 115.42,202.58 115.47,201.66 115.52,200.47 115.57,199.37 115.62,199.17 115.67,200.05 115.72,201.29 115.77,202.31 115.81,203.04 115.86,203.54 115.91,203.89 115.96,204.14 116.01,204.33 116.06,204.48 116.11,204.61 116.16,204.71 116.21,204.8 116.25,204.88 116.3,204.95 116.35,205.02 116.4,205.08 116.45,205.14 116.5,205.19 116.55,205.24 116.6,205.29 116.65,205.34 116.7,205.38 116.74,205.42 116.79,205.46 116.84,205.5 116.89,205.53 116.94,205.56 116.99,205.59 117.04,205.62 117.09,205.65 117.14,205.67 117.18,205.69 117.23,205.71 118.05,205.86 118.86,205.88 119.68,205.89 120.49,205.89 121.31,205.89 122.12,205.89 122.94,205.86 123.75,205.68 123.8,205.66 123.85,205.64 123.9,205.61 123.95,205.59 124,205.57 124.05,205.54 124.1,205.51 124.14,205.48 124.19,205.45 124.24,205.42 124.29,205.38 124.34,205.34 124.39,205.3 124.44,205.25 124.49,205.19 124.54,205.13 124.58,205.05 124.63,204.95 124.68,204.83 124.73,204.65 124.78,204.4 124.83,204.04 124.88,203.53 124.93,202.86 124.98,202.25 125.02,202.14 125.07,202.63 125.12,203.32 125.17,203.89 125.22,204.3 125.27,204.58 125.32,204.77 125.37,204.92 125.42,205.02 125.46,205.11 125.51,205.17 125.56,205.23 125.61,205.28 125.66,205.33 125.71,205.37 125.76,205.4 125.81,205.44 125.86,205.47 125.9,205.5 125.95,205.53 126,205.56 126.05,205.58 126.1,205.61 126.15,205.63 126.2,205.65 126.25,205.67 126.3,205.69 126.34,205.71 126.39,205.73 126.44,205.74 126.49,205.76 126.54,205.77 126.59,205.78 126.64,205.79 127.45,205.88 128.27,205.89 129.08,205.89 129.9,205.89 130.71,205.88 131.53,205.86 132.34,205.68 132.39,205.66 132.44,205.63 132.49,205.6 132.54,205.57 132.59,205.54 132.64,205.51 132.69,205.47 132.73,205.43 132.78,205.39 132.83,205.35 132.88,205.3 132.93,205.26 132.98,205.2 133.03,205.15 133.08,205.09 133.13,205.03 133.17,204.97 133.22,204.9 133.27,204.82 133.32,204.74 133.37,204.64 133.42,204.53 133.47,204.4 133.52,204.23 133.57,204.01 133.61,203.72 133.66,203.32 133.71,202.74 133.76,201.89 133.81,200.74 133.86,199.49 133.91,198.9 133.96,199.49 134.01,200.74 134.05,201.89 134.1,202.74 134.15,203.32 134.2,203.72 134.25,204.01 134.3,204.23 134.35,204.4 134.4,204.53 134.45,204.64 134.49,204.74 134.54,204.82 134.59,204.9 134.64,204.97 134.69,205.03 134.74,205.09 134.79,205.15 134.84,205.21 134.89,205.26 134.93,205.3 134.98,205.35 135.03,205.39 135.08,205.43 135.13,205.47 135.18,205.51 135.23,205.54 135.28,205.57 135.33,205.6 135.37,205.63 135.42,205.66 135.47,205.68 135.52,205.7 135.57,205.72 136.39,205.87 137.2,205.89 138.02,205.89 138.83,205.89 139.65,205.89 140.46,205.9 141.28,205.9 142.09,205.9 142.91,205.9 143.72,205.9 144.54,205.9 145.35,205.9 146.17,205.89 146.98,205.89 147.8,205.85 148.61,205.65 148.66,205.63 148.71,205.61 148.76,205.59 148.81,205.57 148.85,205.54 148.9,205.51 148.95,205.48 149,205.45 149.05,205.42 149.1,205.38 149.15,205.34 149.2,205.29 149.25,205.23 149.3,205.16 149.34,205.07 149.39,204.95 149.44,204.79 149.49,204.55 149.54,204.21 149.59,203.73 149.64,203.15 149.69,202.73 149.74,202.83 149.78,203.34 149.83,203.91 149.88,204.34 149.93,204.64 149.98,204.85 150.03,205 150.08,205.11 150.13,205.19 150.18,205.25 150.22,205.31 150.27,205.35 150.32,205.39 150.37,205.43 150.42,205.46 150.47,205.49 150.52,205.52 150.57,205.55 150.62,205.57 150.66,205.6 150.71,205.62 150.76,205.64 150.81,205.66 150.86,205.68 150.91,205.7 150.96,205.71 151.01,205.73 151.06,205.75 151.1,205.76 151.15,205.77 151.2,205.78 151.25,205.8 151.3,205.81 151.35,205.81 152.16,205.88 152.98,205.89 153.79,205.89 154.61,205.89 155.42,205.89 156.24,205.84 156.29,205.84 156.34,205.83 156.39,205.83 156.43,205.82 156.48,205.81 156.53,205.8 156.58,205.79 156.63,205.79 156.68,205.78 156.73,205.77 156.78,205.75 156.83,205.74 156.87,205.73 156.92,205.72 156.97,205.7 157.02,205.69 157.07,205.67 157.12,205.66 157.17,205.64 157.22,205.62 157.27,205.59 157.31,205.57 157.36,205.53 157.41,205.48 157.46,205.43 157.51,205.34 157.56,205.23 157.61,205.05 157.66,204.81 157.71,204.52 157.75,204.31 157.8,204.36 157.85,204.62 157.9,204.9 157.95,205.12 158,205.27 158.05,205.37 158.1,205.45 158.15,205.5 158.19,205.54 158.24,205.58 158.29,205.6 158.34,205.63 158.39,205.65 158.44,205.66 158.49,205.68 158.54,205.7 158.59,205.71 158.63,205.72 158.68,205.74 158.73,205.75 158.78,205.76 158.83,205.77 158.88,205.78 158.93,205.79 158.98,205.8 159.03,205.81 159.08,205.81 159.12,205.82 159.17,205.83 159.22,205.83 159.27,205.84 159.32,205.85 159.37,205.85 159.42,205.86 160.23,205.89 161.05,205.89 161.86,205.89 162.68,205.88 163.49,205.82 163.54,205.81 163.59,205.8 163.64,205.79 163.69,205.78 163.74,205.77 163.79,205.76 163.83,205.75 163.88,205.74 163.93,205.72 163.98,205.71 164.03,205.7 164.08,205.68 164.13,205.66 164.18,205.65 164.23,205.63 164.27,205.61 164.32,205.58 164.37,205.56 164.42,205.53 164.47,205.5 164.52,205.45 164.57,205.4 164.62,205.34 164.67,205.24 164.71,205.11 164.76,204.92 164.81,204.65 164.86,204.3 164.91,203.98 164.96,203.92 165.01,204.18 165.06,204.54 165.11,204.84 165.15,205.06 165.2,205.21 165.25,205.31 165.3,205.38 165.35,205.44 165.4,205.48 165.45,205.52 165.5,205.55 165.55,205.58 165.6,205.6 165.64,205.62 165.69,205.64 165.74,205.66 165.79,205.67 165.84,205.69 165.89,205.71 165.94,205.72 165.99,205.73 166.04,205.75 166.08,205.76 166.13,205.77 166.18,205.78 166.23,205.79 166.28,205.8 166.33,205.81 166.38,205.82 166.43,205.83 166.48,205.83 166.52,205.84 166.57,205.84 167.39,205.89 168.2,205.9 169.02,205.9 169.83,205.9 170.65,205.9 171.46,205.9 172.28,205.9 173.09,205.9 173.91,205.9 174.72,205.9 175.54,205.9 176.35,205.9 177.17,205.9 177.98,205.88 178.8,205.8 178.85,205.79 178.9,205.78 178.94,205.77 178.99,205.76 179.04,205.75 179.09,205.74 179.14,205.73 179.19,205.72 179.24,205.7 179.29,205.69 179.34,205.67 179.38,205.65 179.43,205.63 179.48,205.61 179.53,205.58 179.58,205.54 179.63,205.49 179.68,205.41 179.73,205.31 179.78,205.16 179.82,204.95 179.87,204.7 179.92,204.51 179.97,204.56 180.02,204.78 180.07,205.03 180.12,205.22 180.17,205.35 180.22,205.44 180.27,205.51 180.31,205.55 180.36,205.59 180.41,205.62 180.46,205.64 180.51,205.66 180.56,205.68 180.61,205.69 180.66,205.71 180.71,205.72 180.75,205.73 180.8,205.75 180.85,205.76 180.9,205.77 180.95,205.78 181,205.79 181.05,205.8 181.1,205.8 181.15,205.81 181.19,205.82 181.24,205.83 181.29,205.83 181.34,205.84 181.39,205.84 181.44,205.85 181.49,205.85 181.54,205.86 181.59,205.86 182.4,205.89 183.22,205.9 184.03,205.9 184.85,205.9 185.66,205.9 186.48,205.9 187.29,205.9 188.11,205.9" stroke="#4d4d4d" stroke-width="1.05" fill="none" stroke-linejoin="round"/>
<text x="67.6" y="171.8" font-size="8.2" fill="#1a1a1a" text-anchor="start" font-weight="normal" font-style="normal" textLength="26" lengthAdjust="spacingAndGlyphs" stroke="#1a1a1a" stroke-width="0.22">x=0.06</text>
<polyline points="65.19,252.5 66,252.5 66.82,252.5 67.63,252.5 68.45,252.49 69.26,252.49 70.08,252.49 70.89,252.49 71.71,252.49 72.52,252.48 73.34,252.48 74.15,252.46 74.97,252.38 75.78,251.8 75.83,251.73 75.88,251.65 75.93,251.57 75.98,251.48 76.03,251.39 76.08,251.29 76.12,251.19 76.17,251.08 76.22,250.97 76.27,250.84 76.32,250.72 76.37,250.58 76.42,250.44 76.47,250.28 76.52,250.11 76.56,249.93 76.61,249.73 76.66,249.5 76.71,249.23 76.76,248.91 76.81,248.52 76.86,248 76.91,247.31 76.96,246.35 77,244.95 77.05,242.94 77.1,240.18 77.15,237.22 77.2,235.8 77.25,237.22 77.3,240.18 77.35,242.94 77.4,244.95 77.44,246.35 77.49,247.31 77.54,248 77.59,248.51 77.64,248.91 77.69,249.23 77.74,249.5 77.79,249.73 77.84,249.93 77.88,250.11 77.93,250.28 77.98,250.44 78.03,250.58 78.08,250.72 78.13,250.84 78.18,250.97 78.23,251.08 78.28,251.19 78.32,251.29 78.37,251.39 78.42,251.48 78.47,251.57 78.52,251.65 78.57,251.73 78.62,251.8 78.67,251.86 78.72,251.92 78.76,251.98 78.81,252.03 78.86,252.07 79.68,252.42 80.49,252.47 81.31,252.48 82.12,252.48 82.94,252.48 83.75,252.49 84.57,252.49 85.38,252.49 86.2,252.48 87.01,252.48 87.83,252.48 88.64,252.47 89.46,252.45 90.27,252.41 91.09,252.09 91.9,250.28 91.95,250.09 92,249.88 92.05,249.67 92.1,249.44 92.15,249.2 92.2,248.94 92.25,248.67 92.29,248.39 92.34,248.08 92.39,247.75 92.44,247.38 92.49,246.97 92.54,246.5 92.59,245.95 92.64,245.28 92.69,244.44 92.73,243.35 92.78,241.85 92.83,239.73 92.88,236.66 92.93,232.25 92.98,226.54 93.03,221.3 93.08,220.34 93.13,224.57 93.17,230.46 93.22,235.36 93.27,238.83 93.32,241.23 93.37,242.9 93.42,244.11 93.47,245.03 93.52,245.74 93.57,246.33 93.61,246.82 93.66,247.25 93.71,247.63 93.76,247.97 93.81,248.29 93.86,248.58 93.91,248.86 93.96,249.12 94.01,249.36 94.05,249.59 94.1,249.81 94.15,250.02 94.2,250.22 94.25,250.41 94.3,250.58 94.35,250.75 94.4,250.9 94.45,251.04 94.49,251.18 94.54,251.3 94.59,251.41 94.64,251.52 94.69,251.62 95.51,252.35 96.32,252.44 97.14,252.46 97.95,252.47 98.77,252.48 99.58,252.48 100.4,252.49 101.21,252.49 102.03,252.49 102.84,252.49 103.66,252.49 104.47,252.49 105.29,252.49 106.1,252.49 106.92,252.49 107.73,252.49 108.55,252.49 109.36,252.49 110.18,252.49 110.99,252.49 111.81,252.49 112.62,252.48 113.44,252.44 114.25,252.17 114.3,252.14 114.35,252.11 114.4,252.07 114.45,252.03 114.49,251.99 114.54,251.95 114.59,251.91 114.64,251.86 114.69,251.81 114.74,251.75 114.79,251.7 114.84,251.64 114.89,251.57 114.93,251.5 114.98,251.43 115.03,251.34 115.08,251.24 115.13,251.13 115.18,250.99 115.23,250.81 115.28,250.58 115.33,250.27 115.37,249.83 115.42,249.18 115.47,248.26 115.52,247.07 115.57,245.97 115.62,245.77 115.67,246.65 115.72,247.89 115.77,248.91 115.81,249.64 115.86,250.14 115.91,250.49 115.96,250.74 116.01,250.93 116.06,251.08 116.11,251.21 116.16,251.31 116.21,251.4 116.25,251.48 116.3,251.55 116.35,251.62 116.4,251.68 116.45,251.74 116.5,251.79 116.55,251.84 116.6,251.89 116.65,251.94 116.7,251.98 116.74,252.02 116.79,252.06 116.84,252.1 116.89,252.13 116.94,252.16 116.99,252.19 117.04,252.22 117.09,252.25 117.14,252.27 117.18,252.29 117.23,252.31 118.05,252.46 118.86,252.48 119.68,252.49 120.49,252.49 121.31,252.49 122.12,252.49 122.94,252.46 123.75,252.28 123.8,252.26 123.85,252.24 123.9,252.21 123.95,252.19 124,252.17 124.05,252.14 124.1,252.11 124.14,252.08 124.19,252.05 124.24,252.02 124.29,251.98 124.34,251.94 124.39,251.9 124.44,251.85 124.49,251.79 124.54,251.73 124.58,251.65 124.63,251.55 124.68,251.43 124.73,251.25 124.78,251 124.83,250.64 124.88,250.13 124.93,249.46 124.98,248.85 125.02,248.74 125.07,249.23 125.12,249.92 125.17,250.49 125.22,250.9 125.27,251.18 125.32,251.37 125.37,251.52 125.42,251.62 125.46,251.71 125.51,251.77 125.56,251.83 125.61,251.88 125.66,251.93 125.71,251.97 125.76,252 125.81,252.04 125.86,252.07 125.9,252.1 125.95,252.13 126,252.16 126.05,252.18 126.1,252.21 126.15,252.23 126.2,252.25 126.25,252.27 126.3,252.29 126.34,252.31 126.39,252.33 126.44,252.34 126.49,252.36 126.54,252.37 126.59,252.38 126.64,252.39 127.45,252.48 128.27,252.49 129.08,252.49 129.9,252.49 130.71,252.48 131.53,252.46 132.34,252.28 132.39,252.26 132.44,252.23 132.49,252.2 132.54,252.17 132.59,252.14 132.64,252.11 132.69,252.07 132.73,252.03 132.78,251.99 132.83,251.95 132.88,251.9 132.93,251.86 132.98,251.8 133.03,251.75 133.08,251.69 133.13,251.63 133.17,251.57 133.22,251.5 133.27,251.42 133.32,251.34 133.37,251.24 133.42,251.13 133.47,251 133.52,250.83 133.57,250.61 133.61,250.32 133.66,249.92 133.71,249.34 133.76,248.49 133.81,247.34 133.86,246.09 133.91,245.5 133.96,246.09 134.01,247.34 134.05,248.49 134.1,249.34 134.15,249.92 134.2,250.32 134.25,250.61 134.3,250.83 134.35,251 134.4,251.13 134.45,251.24 134.49,251.34 134.54,251.42 134.59,251.5 134.64,251.57 134.69,251.63 134.74,251.69 134.79,251.75 134.84,251.81 134.89,251.86 134.93,251.9 134.98,251.95 135.03,251.99 135.08,252.03 135.13,252.07 135.18,252.11 135.23,252.14 135.28,252.17 135.33,252.2 135.37,252.23 135.42,252.26 135.47,252.28 135.52,252.3 135.57,252.32 136.39,252.47 137.2,252.49 138.02,252.49 138.83,252.49 139.65,252.49 140.46,252.5 141.28,252.5 142.09,252.5 142.91,252.5 143.72,252.5 144.54,252.5 145.35,252.5 146.17,252.49 146.98,252.49 147.8,252.45 148.61,252.25 148.66,252.23 148.71,252.21 148.76,252.19 148.81,252.17 148.85,252.14 148.9,252.11 148.95,252.08 149,252.05 149.05,252.02 149.1,251.98 149.15,251.94 149.2,251.89 149.25,251.83 149.3,251.76 149.34,251.67 149.39,251.55 149.44,251.39 149.49,251.15 149.54,250.81 149.59,250.33 149.64,249.75 149.69,249.33 149.74,249.43 149.78,249.94 149.83,250.51 149.88,250.94 149.93,251.24 149.98,251.45 150.03,251.6 150.08,251.71 150.13,251.79 150.18,251.85 150.22,251.91 150.27,251.95 150.32,251.99 150.37,252.03 150.42,252.06 150.47,252.09 150.52,252.12 150.57,252.15 150.62,252.17 150.66,252.2 150.71,252.22 150.76,252.24 150.81,252.26 150.86,252.28 150.91,252.3 150.96,252.31 151.01,252.33 151.06,252.35 151.1,252.36 151.15,252.37 151.2,252.38 151.25,252.4 151.3,252.41 151.35,252.41 152.16,252.48 152.98,252.49 153.79,252.49 154.61,252.49 155.42,252.49 156.24,252.44 156.29,252.44 156.34,252.43 156.39,252.43 156.43,252.42 156.48,252.41 156.53,252.4 156.58,252.39 156.63,252.39 156.68,252.38 156.73,252.37 156.78,252.35 156.83,252.34 156.87,252.33 156.92,252.32 156.97,252.3 157.02,252.29 157.07,252.27 157.12,252.26 157.17,252.24 157.22,252.22 157.27,252.19 157.31,252.17 157.36,252.13 157.41,252.08 157.46,252.03 157.51,251.94 157.56,251.83 157.61,251.65 157.66,251.41 157.71,251.12 157.75,250.91 157.8,250.96 157.85,251.22 157.9,251.5 157.95,251.72 158,251.87 158.05,251.97 158.1,252.05 158.15,252.1 158.19,252.14 158.24,252.18 158.29,252.2 158.34,252.23 158.39,252.25 158.44,252.26 158.49,252.28 158.54,252.3 158.59,252.31 158.63,252.32 158.68,252.34 158.73,252.35 158.78,252.36 158.83,252.37 158.88,252.38 158.93,252.39 158.98,252.4 159.03,252.41 159.08,252.41 159.12,252.42 159.17,252.43 159.22,252.43 159.27,252.44 159.32,252.45 159.37,252.45 159.42,252.46 160.23,252.49 161.05,252.49 161.86,252.49 162.68,252.48 163.49,252.42 163.54,252.41 163.59,252.4 163.64,252.39 163.69,252.38 163.74,252.37 163.79,252.36 163.83,252.35 163.88,252.34 163.93,252.32 163.98,252.31 164.03,252.3 164.08,252.28 164.13,252.26 164.18,252.25 164.23,252.23 164.27,252.21 164.32,252.18 164.37,252.16 164.42,252.13 164.47,252.1 164.52,252.05 164.57,252 164.62,251.94 164.67,251.84 164.71,251.71 164.76,251.52 164.81,251.25 164.86,250.9 164.91,250.58 164.96,250.52 165.01,250.78 165.06,251.14 165.11,251.44 165.15,251.66 165.2,251.81 165.25,251.91 165.3,251.98 165.35,252.04 165.4,252.08 165.45,252.12 165.5,252.15 165.55,252.18 165.6,252.2 165.64,252.22 165.69,252.24 165.74,252.26 165.79,252.27 165.84,252.29 165.89,252.31 165.94,252.32 165.99,252.33 166.04,252.35 166.08,252.36 166.13,252.37 166.18,252.38 166.23,252.39 166.28,252.4 166.33,252.41 166.38,252.42 166.43,252.43 166.48,252.43 166.52,252.44 166.57,252.44 167.39,252.49 168.2,252.5 169.02,252.5 169.83,252.5 170.65,252.5 171.46,252.5 172.28,252.5 173.09,252.5 173.91,252.5 174.72,252.5 175.54,252.5 176.35,252.5 177.17,252.5 177.98,252.48 178.8,252.4 178.85,252.39 178.9,252.38 178.94,252.37 178.99,252.36 179.04,252.35 179.09,252.34 179.14,252.33 179.19,252.32 179.24,252.3 179.29,252.29 179.34,252.27 179.38,252.25 179.43,252.23 179.48,252.21 179.53,252.18 179.58,252.14 179.63,252.09 179.68,252.01 179.73,251.91 179.78,251.76 179.82,251.55 179.87,251.3 179.92,251.11 179.97,251.16 180.02,251.38 180.07,251.63 180.12,251.82 180.17,251.95 180.22,252.04 180.27,252.11 180.31,252.15 180.36,252.19 180.41,252.22 180.46,252.24 180.51,252.26 180.56,252.28 180.61,252.29 180.66,252.31 180.71,252.32 180.75,252.33 180.8,252.35 180.85,252.36 180.9,252.37 180.95,252.38 181,252.39 181.05,252.4 181.1,252.4 181.15,252.41 181.19,252.42 181.24,252.43 181.29,252.43 181.34,252.44 181.39,252.44 181.44,252.45 181.49,252.45 181.54,252.46 181.59,252.46 182.4,252.49 183.22,252.5 184.03,252.5 184.85,252.5 185.66,252.5 186.48,252.5 187.29,252.5 188.11,252.5" stroke="#4d4d4d" stroke-width="1.05" fill="none" stroke-linejoin="round"/>
<text x="67.6" y="218.6" font-size="8.2" fill="#1a1a1a" text-anchor="start" font-weight="normal" font-style="normal" textLength="26" lengthAdjust="spacingAndGlyphs" stroke="#1a1a1a" stroke-width="0.22">x=0.05</text>
<polyline points="65.19,304.3 66,304.3 66.82,304.29 67.63,304.29 68.45,304.29 69.26,304.29 70.08,304.29 70.89,304.29 71.71,304.28 72.52,304.28 73.34,304.27 74.15,304.24 74.97,304.08 75.78,303.15 75.83,303.04 75.88,302.93 75.93,302.81 75.98,302.68 76.03,302.54 76.08,302.4 76.12,302.24 76.17,302.07 76.22,301.89 76.27,301.7 76.32,301.49 76.37,301.25 76.42,300.99 76.47,300.69 76.52,300.33 76.56,299.89 76.61,299.33 76.66,298.59 76.71,297.56 76.76,296.11 76.81,294.1 76.86,291.7 76.91,289.92 76.96,290.13 77,291.96 77.05,293.95 77.1,295.37 77.15,296.19 77.2,296.52 77.25,296.42 77.3,295.87 77.35,294.77 77.4,293.08 77.44,291.21 77.49,290.39 77.54,291.55 77.59,293.78 77.64,295.85 77.69,297.39 77.74,298.48 77.79,299.27 77.84,299.85 77.88,300.31 77.93,300.68 77.98,300.99 78.03,301.25 78.08,301.49 78.13,301.7 78.18,301.9 78.23,302.08 78.28,302.24 78.32,302.4 78.37,302.55 78.42,302.68 78.47,302.81 78.52,302.93 78.57,303.05 78.62,303.15 78.67,303.25 78.72,303.34 78.76,303.43 78.81,303.51 78.86,303.58 78.91,303.65 78.96,303.71 79.01,303.77 79.06,303.82 79.11,303.87 79.16,303.91 79.97,304.22 80.79,304.26 81.6,304.27 82.42,304.28 83.23,304.28 84.05,304.28 84.86,304.28 85.68,304.28 86.49,304.28 87.31,304.28 88.12,304.27 88.94,304.26 89.75,304.24 90.57,304.16 91.38,303.51 92.2,300.77 92.25,300.5 92.29,300.21 92.34,299.91 92.39,299.57 92.44,299.21 92.49,298.8 92.54,298.34 92.59,297.79 92.64,297.13 92.69,296.29 92.73,295.2 92.78,293.71 92.83,291.61 92.88,288.56 92.93,284.18 92.98,278.5 93.03,273.29 93.08,272.33 93.13,276.54 93.17,282.39 93.22,287.26 93.27,290.72 93.32,293.1 93.37,294.76 93.42,295.96 93.47,296.87 93.52,297.58 93.57,298.17 93.61,298.66 93.66,299.08 93.71,299.46 93.76,299.8 93.81,300.11 93.86,300.4 93.91,300.68 93.96,300.94 94.01,301.18 94.05,301.41 94.1,301.63 94.15,301.84 94.2,302.03 94.25,302.22 94.3,302.39 94.35,302.56 94.4,302.71 94.45,302.85 94.49,302.98 94.54,303.11 94.59,303.22 94.64,303.33 94.69,303.42 95.51,304.15 96.32,304.24 97.14,304.26 97.95,304.27 98.77,304.28 99.58,304.28 100.4,304.29 101.21,304.29 102.03,304.29 102.84,304.29 103.66,304.29 104.47,304.29 105.29,304.29 106.1,304.29 106.92,304.29 107.73,304.29 108.55,304.29 109.36,304.29 110.18,304.29 110.99,304.29 111.81,304.28 112.62,304.27 113.44,304.16 114.25,303.7 114.3,303.65 114.35,303.59 114.4,303.54 114.45,303.48 114.49,303.41 114.54,303.33 114.59,303.25 114.64,303.15 114.69,303.03 114.74,302.89 114.79,302.71 114.84,302.46 114.89,302.13 114.93,301.65 114.98,300.98 115.03,300.11 115.08,299.31 115.13,299.14 115.18,299.72 115.23,300.55 115.28,301.23 115.33,301.69 115.37,302 115.42,302.19 115.47,302.32 115.52,302.39 115.57,302.43 115.62,302.43 115.67,302.41 115.72,302.35 115.77,302.24 115.81,302.07 115.86,301.81 115.91,301.4 115.96,300.8 116.01,300 116.06,299.27 116.11,299.16 116.16,299.81 116.21,300.71 116.25,301.45 116.3,301.99 116.35,302.36 116.4,302.63 116.45,302.83 116.5,302.99 116.55,303.11 116.6,303.22 116.65,303.31 116.7,303.38 116.74,303.45 116.79,303.52 116.84,303.58 116.89,303.63 116.94,303.68 116.99,303.73 117.04,303.77 117.09,303.81 117.14,303.85 117.18,303.89 117.23,303.92 117.28,303.95 117.33,303.98 117.38,304.01 117.43,304.03 117.48,304.06 117.53,304.08 117.58,304.1 117.62,304.12 117.67,304.13 117.72,304.15 118.54,304.27 119.35,304.28 120.17,304.28 120.98,304.29 121.8,304.28 122.61,304.25 123.43,304.06 123.48,304.04 123.52,304.02 123.57,304 123.62,303.98 123.67,303.95 123.72,303.92 123.77,303.89 123.82,303.86 123.87,303.82 123.92,303.78 123.96,303.74 124.01,303.69 124.06,303.63 124.11,303.56 124.16,303.48 124.21,303.37 124.26,303.22 124.31,303.01 124.36,302.71 124.4,302.29 124.45,301.79 124.5,301.42 124.55,301.48 124.6,301.89 124.65,302.34 124.7,302.68 124.75,302.91 124.8,303.05 124.85,303.15 124.89,303.21 124.94,303.24 124.99,303.25 125.04,303.25 125.09,303.23 125.14,303.19 125.19,303.12 125.24,303.01 125.29,302.84 125.33,302.58 125.38,302.2 125.43,301.74 125.48,301.41 125.53,301.51 125.58,301.96 125.63,302.44 125.68,302.82 125.73,303.08 125.77,303.27 125.82,303.41 125.87,303.51 125.92,303.59 125.97,303.65 126.02,303.71 126.07,303.76 126.12,303.8 126.17,303.84 126.21,303.87 126.26,303.9 126.31,303.93 126.36,303.96 126.41,303.98 126.46,304.01 126.51,304.03 126.56,304.05 126.61,304.07 126.65,304.09 126.7,304.11 126.75,304.12 126.8,304.14 126.85,304.15 126.9,304.16 126.95,304.18 127,304.19 127.05,304.2 127.09,304.21 127.14,304.21 127.96,304.28 128.77,304.28 129.59,304.28 130.4,304.28 131.22,304.25 132.03,304.05 132.08,304.03 132.13,304 132.18,303.97 132.23,303.94 132.28,303.91 132.33,303.87 132.38,303.84 132.42,303.8 132.47,303.75 132.52,303.71 132.57,303.66 132.62,303.61 132.67,303.55 132.72,303.49 132.77,303.43 132.82,303.36 132.86,303.28 132.91,303.19 132.96,303.08 133.01,302.95 133.06,302.79 133.11,302.59 133.16,302.31 133.21,301.92 133.26,301.37 133.3,300.6 133.35,299.68 133.4,299.01 133.45,299.12 133.5,299.87 133.55,300.7 133.6,301.32 133.65,301.74 133.7,302.01 133.74,302.18 133.79,302.29 133.84,302.35 133.89,302.38 133.94,302.37 133.99,302.34 134.04,302.26 134.09,302.13 134.14,301.93 134.18,301.62 134.23,301.14 134.28,300.44 134.33,299.59 134.38,298.99 134.43,299.17 134.48,299.99 134.53,300.88 134.58,301.58 134.63,302.07 134.67,302.41 134.72,302.66 134.77,302.85 134.82,303 134.87,303.12 134.92,303.22 134.97,303.31 135.02,303.38 135.07,303.45 135.11,303.52 135.16,303.57 135.21,303.63 135.26,303.68 135.31,303.73 135.36,303.77 135.41,303.81 135.46,303.85 135.51,303.89 135.55,303.92 135.6,303.95 135.65,303.98 135.7,304.01 135.75,304.04 135.8,304.06 135.85,304.08 135.9,304.1 135.95,304.12 135.99,304.14 136.04,304.15 136.86,304.27 137.67,304.28 138.49,304.29 139.3,304.29 140.12,304.29 140.93,304.29 141.75,304.29 142.56,304.29 143.38,304.29 144.19,304.29 145.01,304.29 145.82,304.29 146.64,304.29 147.45,304.25 148.27,304.05 148.32,304.03 148.37,304.01 148.41,303.98 148.46,303.96 148.51,303.93 148.56,303.9 148.61,303.87 148.66,303.83 148.71,303.79 148.76,303.74 148.81,303.68 148.85,303.61 148.9,303.52 148.95,303.39 149,303.21 149.05,302.96 149.1,302.61 149.15,302.19 149.2,301.88 149.25,301.93 149.3,302.28 149.34,302.65 149.39,302.94 149.44,303.13 149.49,303.25 149.54,303.33 149.59,303.38 149.64,303.41 149.69,303.42 149.74,303.42 149.78,303.4 149.83,303.37 149.88,303.31 149.93,303.22 149.98,303.07 150.03,302.85 150.08,302.53 150.13,302.15 150.18,301.87 150.22,301.95 150.27,302.33 150.32,302.74 150.37,303.05 150.42,303.28 150.47,303.44 150.52,303.55 150.57,303.64 150.62,303.7 150.66,303.76 150.71,303.8 150.76,303.84 150.81,303.88 150.86,303.91 150.91,303.94 150.96,303.97 151.01,303.99 151.06,304.01 151.1,304.04 151.15,304.06 151.2,304.08 151.25,304.09 151.3,304.11 151.35,304.13 151.4,304.14 151.45,304.15 151.5,304.17 151.54,304.18 151.59,304.19 151.64,304.2 151.69,304.21 151.74,304.22 151.79,304.22 151.84,304.23 152.65,304.28 153.47,304.29 154.28,304.29 155.1,304.28 155.91,304.24 155.96,304.23 156.01,304.23 156.06,304.22 156.11,304.21 156.16,304.21 156.21,304.2 156.26,304.19 156.3,304.18 156.35,304.17 156.4,304.16 156.45,304.15 156.5,304.14 156.55,304.12 156.6,304.11 156.65,304.09 156.7,304.08 156.74,304.06 156.79,304.04 156.84,304.01 156.89,303.98 156.94,303.94 156.99,303.89 157.04,303.82 157.09,303.72 157.14,303.57 157.18,303.38 157.23,303.18 157.28,303.07 157.33,303.16 157.38,303.35 157.43,303.53 157.48,303.65 157.53,303.74 157.58,303.79 157.62,303.82 157.67,303.84 157.72,303.86 157.77,303.86 157.82,303.86 157.87,303.84 157.92,303.82 157.97,303.79 158.02,303.74 158.06,303.65 158.11,303.53 158.16,303.35 158.21,303.16 158.26,303.07 158.31,303.18 158.36,303.38 158.41,303.57 158.46,303.72 158.5,303.82 158.55,303.89 158.6,303.94 158.65,303.98 158.7,304.01 158.75,304.04 158.8,304.06 158.85,304.08 158.9,304.09 158.94,304.11 158.99,304.12 159.04,304.14 159.09,304.15 159.14,304.16 159.19,304.17 159.24,304.18 159.29,304.19 159.34,304.2 159.38,304.21 159.43,304.21 159.48,304.22 159.53,304.23 159.58,304.23 159.63,304.24 159.68,304.24 159.73,304.25 159.78,304.25 159.82,304.26 159.87,304.26 159.92,304.26 160.74,304.29 161.55,304.29 162.37,304.28 163.18,304.21 163.23,304.2 163.28,304.19 163.33,304.18 163.38,304.17 163.43,304.16 163.48,304.15 163.52,304.14 163.57,304.13 163.62,304.11 163.67,304.1 163.72,304.08 163.77,304.06 163.82,304.04 163.87,304.02 163.92,304 163.97,303.97 164.01,303.94 164.06,303.9 164.11,303.85 164.16,303.79 164.21,303.7 164.26,303.57 164.31,303.4 164.36,303.16 164.41,302.9 164.45,302.77 164.5,302.88 164.55,303.12 164.6,303.34 164.65,303.49 164.7,303.6 164.75,303.66 164.8,303.71 164.85,303.73 164.89,303.75 164.94,303.75 164.99,303.75 165.04,303.73 165.09,303.71 165.14,303.66 165.19,303.6 165.24,303.49 165.29,303.34 165.33,303.12 165.38,302.88 165.43,302.77 165.48,302.9 165.53,303.16 165.58,303.4 165.63,303.57 165.68,303.7 165.73,303.79 165.77,303.85 165.82,303.9 165.87,303.94 165.92,303.97 165.97,304 166.02,304.02 166.07,304.04 166.12,304.06 166.17,304.08 166.21,304.1 166.26,304.11 166.31,304.13 166.36,304.14 166.41,304.15 166.46,304.16 166.51,304.17 166.56,304.18 166.61,304.19 166.65,304.2 166.7,304.21 166.75,304.22 166.8,304.23 166.85,304.23 166.9,304.24 166.95,304.24 167,304.25 167.05,304.25 167.09,304.26 167.91,304.29 168.72,304.29 169.54,304.3 170.35,304.3 171.17,304.3 171.98,304.3 172.8,304.3 173.61,304.3 174.43,304.3 175.24,304.3 176.06,304.3 176.87,304.29 177.69,304.28 178.5,304.19 178.55,304.18 178.6,304.17 178.65,304.16 178.7,304.15 178.75,304.14 178.8,304.13 178.85,304.11 178.9,304.1 178.94,304.08 178.99,304.06 179.04,304.03 179.09,304 179.14,303.96 179.19,303.9 179.24,303.82 179.29,303.71 179.34,303.56 179.38,303.38 179.43,303.24 179.48,303.26 179.53,303.41 179.58,303.58 179.63,303.7 179.68,303.79 179.73,303.84 179.78,303.88 179.82,303.9 179.87,303.91 179.92,303.92 179.97,303.91 180.02,303.91 180.07,303.89 180.12,303.87 180.17,303.83 180.22,303.76 180.27,303.67 180.31,303.53 180.36,303.36 180.41,303.24 180.46,303.27 180.51,303.44 180.56,303.62 180.61,303.76 180.66,303.85 180.71,303.92 180.75,303.97 180.8,304.01 180.85,304.04 180.9,304.06 180.95,304.08 181,304.1 181.05,304.12 181.1,304.13 181.15,304.14 181.19,304.15 181.24,304.17 181.29,304.18 181.34,304.18 181.39,304.19 181.44,304.2 181.49,304.21 181.54,304.22 181.59,304.22 181.63,304.23 181.68,304.24 181.73,304.24 181.78,304.25 181.83,304.25 181.88,304.26 181.93,304.26 181.98,304.26 182.03,304.27 182.07,304.27 182.89,304.29 183.7,304.3 184.52,304.3 185.33,304.3 186.15,304.3 186.96,304.3 187.78,304.3" stroke="#4d4d4d" stroke-width="1.05" fill="none" stroke-linejoin="round"/>
<text x="67.6" y="267.8" font-size="8.2" fill="#1a1a1a" text-anchor="start" font-weight="normal" font-style="normal" textLength="26" lengthAdjust="spacingAndGlyphs" stroke="#1a1a1a" stroke-width="0.22">x=0.00</text>
<text x="73.5" y="317" font-size="8.8" fill="#222" text-anchor="middle" font-weight="normal" font-style="normal" stroke="#222" stroke-width="0.22">20</text>
<text x="89.8" y="317" font-size="8.8" fill="#222" text-anchor="middle" font-weight="normal" font-style="normal" stroke="#222" stroke-width="0.22">30</text>
<text x="106.1" y="317" font-size="8.8" fill="#222" text-anchor="middle" font-weight="normal" font-style="normal" stroke="#222" stroke-width="0.22">40</text>
<text x="122.4" y="317" font-size="8.8" fill="#222" text-anchor="middle" font-weight="normal" font-style="normal" stroke="#222" stroke-width="0.22">50</text>
<text x="138.7" y="317" font-size="8.8" fill="#222" text-anchor="middle" font-weight="normal" font-style="normal" stroke="#222" stroke-width="0.22">60</text>
<text x="155" y="317" font-size="8.8" fill="#222" text-anchor="middle" font-weight="normal" font-style="normal" stroke="#222" stroke-width="0.22">70</text>
<text x="171.3" y="317" font-size="8.8" fill="#222" text-anchor="middle" font-weight="normal" font-style="normal" stroke="#222" stroke-width="0.22">80</text>
<text x="187.6" y="317" font-size="8.8" fill="#222" text-anchor="middle" font-weight="normal" font-style="normal" stroke="#222" stroke-width="0.22">90</text>
<text x="131.4" y="332.4" font-size="12" fill="#1a1a1a" text-anchor="middle" font-family="Liberation Serif, serif" textLength="32" lengthAdjust="spacingAndGlyphs" stroke="#1a1a1a" stroke-width="0.22">2 θ (θ)</text>
<text transform="translate(62.3,183.1) rotate(-90)" font-size="12.5" fill="#1a1a1a" text-anchor="middle" textLength="106" lengthAdjust="spacingAndGlyphs" stroke="#1a1a1a" stroke-width="0.22">Intensity (arb.units)</text>
<text x="201.6" y="312.3" font-size="7.8" fill="#222" text-anchor="middle" font-weight="normal" font-style="normal" stroke="#222" stroke-width="0.22">45</text>
<text x="220.6" y="312.3" font-size="7.8" fill="#222" text-anchor="middle" font-weight="normal" font-style="normal" stroke="#222" stroke-width="0.22">46</text>
<polygon points="192.4,106.15 192.7,106.12 193,106.09 193.3,106.06 193.6,106.03 193.9,105.99 194.2,105.96 194.5,105.92 194.8,105.88 195.1,105.83 195.4,105.78 195.7,105.74 196,105.68 196.3,105.63 196.6,105.57 196.9,105.51 197.2,105.44 197.5,105.37 197.8,105.29 198.1,105.21 198.4,105.12 198.7,105.02 199,104.92 199.3,104.81 199.6,104.7 199.9,104.57 200.2,104.43 200.5,104.28 200.8,104.12 201.1,103.94 201.4,103.75 201.7,103.53 202,103.3 202.3,103.05 202.6,102.77 202.9,102.46 203.2,102.11 203.5,101.73 203.8,101.31 204.1,100.84 204.4,100.31 204.7,99.72 205,99.06 205.3,98.32 205.6,97.48 205.9,96.54 206.2,95.48 206.5,94.29 206.8,92.97 207.1,91.49 207.4,89.87 207.7,88.11 208,86.23 208.3,84.29 208.6,82.36 208.9,80.56 209.2,78.99 209.5,77.81 209.8,77.13 210.1,77.03 210.4,77.52 210.7,78.55 211,80 211.3,81.74 211.6,83.64 211.9,85.59 212.2,87.49 212.5,89.3 212.8,90.97 213.1,92.49 213.4,93.87 213.7,95.1 214,96.2 214.3,97.18 214.6,98.05 214.9,98.82 215.2,99.51 215.5,100.12 215.8,100.67 216.1,101.16 216.4,101.6 216.7,101.99 217,102.34 217.3,102.67 217.6,102.96 217.9,103.22 218.2,103.46 218.5,103.68 218.8,103.88 219.1,104.06 219.4,104.23 219.7,104.38 220,104.52 220.3,104.65 220.6,104.78 220.9,104.89 221.2,104.99 221.5,105.09 221.8,105.18 222.1,105.26 222.4,105.34 222.7,105.41 223,105.48 223.3,105.55 223.6,105.61 223.9,105.66 224.2,105.72 224.5,105.77 224.8,105.82 225.1,105.86 225.4,105.9 225.7,105.94 226,105.98 226.3,106.02 226.6,106.05 226.9,106.08 227.2,106.11 227.5,106.14 227.8,106.17 228.1,106.2 228.4,106.22 228.7,106.25 229,106.27 229.3,106.29 229.3,107 192.4,107" fill="rgba(170,170,250,0.12)"/>
<polyline points="192.4,106.15 192.7,106.12 193,106.09 193.3,106.06 193.6,106.03 193.9,105.99 194.2,105.96 194.5,105.92 194.8,105.88 195.1,105.83 195.4,105.78 195.7,105.74 196,105.68 196.3,105.63 196.6,105.57 196.9,105.51 197.2,105.44 197.5,105.37 197.8,105.29 198.1,105.21 198.4,105.12 198.7,105.02 199,104.92 199.3,104.81 199.6,104.7 199.9,104.57 200.2,104.43 200.5,104.28 200.8,104.12 201.1,103.94 201.4,103.75 201.7,103.53 202,103.3 202.3,103.05 202.6,102.77 202.9,102.46 203.2,102.11 203.5,101.73 203.8,101.31 204.1,100.84 204.4,100.31 204.7,99.72 205,99.06 205.3,98.32 205.6,97.48 205.9,96.54 206.2,95.48 206.5,94.29 206.8,92.97 207.1,91.49 207.4,89.87 207.7,88.11 208,86.23 208.3,84.29 208.6,82.36 208.9,80.56 209.2,78.99 209.5,77.81 209.8,77.13 210.1,77.03 210.4,77.52 210.7,78.55 211,80 211.3,81.74 211.6,83.64 211.9,85.59 212.2,87.49 212.5,89.3 212.8,90.97 213.1,92.49 213.4,93.87 213.7,95.1 214,96.2 214.3,97.18 214.6,98.05 214.9,98.82 215.2,99.51 215.5,100.12 215.8,100.67 216.1,101.16 216.4,101.6 216.7,101.99 217,102.34 217.3,102.67 217.6,102.96 217.9,103.22 218.2,103.46 218.5,103.68 218.8,103.88 219.1,104.06 219.4,104.23 219.7,104.38 220,104.52 220.3,104.65 220.6,104.78 220.9,104.89 221.2,104.99 221.5,105.09 221.8,105.18 222.1,105.26 222.4,105.34 222.7,105.41 223,105.48 223.3,105.55 223.6,105.61 223.9,105.66 224.2,105.72 224.5,105.77 224.8,105.82 225.1,105.86 225.4,105.9 225.7,105.94 226,105.98 226.3,106.02 226.6,106.05 226.9,106.08 227.2,106.11 227.5,106.14 227.8,106.17 228.1,106.2 228.4,106.22 228.7,106.25 229,106.27 229.3,106.29" stroke="#3c3ce6" stroke-width="0.9" fill="none"/>
<polygon points="192.4,106.66 192.7,106.65 193,106.64 193.3,106.63 193.6,106.62 193.9,106.61 194.2,106.6 194.5,106.58 194.8,106.57 195.1,106.56 195.4,106.55 195.7,106.53 196,106.52 196.3,106.5 196.6,106.49 196.9,106.47 197.2,106.45 197.5,106.43 197.8,106.41 198.1,106.39 198.4,106.37 198.7,106.35 199,106.32 199.3,106.3 199.6,106.27 199.9,106.24 200.2,106.21 200.5,106.18 200.8,106.14 201.1,106.11 201.4,106.07 201.7,106.03 202,105.98 202.3,105.94 202.6,105.88 202.9,105.83 203.2,105.77 203.5,105.71 203.8,105.64 204.1,105.57 204.4,105.49 204.7,105.4 205,105.31 205.3,105.21 205.6,105.1 205.9,104.98 206.2,104.84 206.5,104.7 206.8,104.54 207.1,104.36 207.4,104.16 207.7,103.94 208,103.7 208.3,103.42 208.6,103.11 208.9,102.76 209.2,102.36 209.5,101.91 209.8,101.39 210.1,100.79 210.4,100.1 210.7,99.3 211,98.36 211.3,97.25 211.6,95.95 211.9,94.42 212.2,92.6 212.5,90.45 212.8,87.93 213.1,85 213.4,81.69 213.7,78.08 214,74.39 214.3,71 214.6,68.4 214.9,67.09 215.2,67.36 215.5,69.15 215.8,72.07 216.1,75.61 216.4,79.31 216.7,82.84 217,86.02 217.3,88.81 217.6,91.21 217.9,93.24 218.2,94.96 218.5,96.41 218.8,97.64 219.1,98.69 219.4,99.58 219.7,100.34 220,101 220.3,101.57 220.6,102.07 220.9,102.5 221.2,102.88 221.5,103.22 221.8,103.52 222.1,103.78 222.4,104.02 222.7,104.23 223,104.42 223.3,104.59 223.6,104.75 223.9,104.89 224.2,105.02 224.5,105.14 224.8,105.24 225.1,105.34 225.4,105.43 225.7,105.52 226,105.59 226.3,105.66 226.6,105.73 226.9,105.79 227.2,105.85 227.5,105.9 227.8,105.95 228.1,106 228.4,106.04 228.7,106.08 229,106.12 229.3,106.16 229.3,107 192.4,107" fill="rgba(110,110,230,0.14)"/>
<polyline points="192.4,106.66 192.7,106.65 193,106.64 193.3,106.63 193.6,106.62 193.9,106.61 194.2,106.6 194.5,106.58 194.8,106.57 195.1,106.56 195.4,106.55 195.7,106.53 196,106.52 196.3,106.5 196.6,106.49 196.9,106.47 197.2,106.45 197.5,106.43 197.8,106.41 198.1,106.39 198.4,106.37 198.7,106.35 199,106.32 199.3,106.3 199.6,106.27 199.9,106.24 200.2,106.21 200.5,106.18 200.8,106.14 201.1,106.11 201.4,106.07 201.7,106.03 202,105.98 202.3,105.94 202.6,105.88 202.9,105.83 203.2,105.77 203.5,105.71 203.8,105.64 204.1,105.57 204.4,105.49 204.7,105.4 205,105.31 205.3,105.21 205.6,105.1 205.9,104.98 206.2,104.84 206.5,104.7 206.8,104.54 207.1,104.36 207.4,104.16 207.7,103.94 208,103.7 208.3,103.42 208.6,103.11 208.9,102.76 209.2,102.36 209.5,101.91 209.8,101.39 210.1,100.79 210.4,100.1 210.7,99.3 211,98.36 211.3,97.25 211.6,95.95 211.9,94.42 212.2,92.6 212.5,90.45 212.8,87.93 213.1,85 213.4,81.69 213.7,78.08 214,74.39 214.3,71 214.6,68.4 214.9,67.09 215.2,67.36 215.5,69.15 215.8,72.07 216.1,75.61 216.4,79.31 216.7,82.84 217,86.02 217.3,88.81 217.6,91.21 217.9,93.24 218.2,94.96 218.5,96.41 218.8,97.64 219.1,98.69 219.4,99.58 219.7,100.34 220,101 220.3,101.57 220.6,102.07 220.9,102.5 221.2,102.88 221.5,103.22 221.8,103.52 222.1,103.78 222.4,104.02 222.7,104.23 223,104.42 223.3,104.59 223.6,104.75 223.9,104.89 224.2,105.02 224.5,105.14 224.8,105.24 225.1,105.34 225.4,105.43 225.7,105.52 226,105.59 226.3,105.66 226.6,105.73 226.9,105.79 227.2,105.85 227.5,105.9 227.8,105.95 228.1,106 228.4,106.04 228.7,106.08 229,106.12 229.3,106.16" stroke="#1c1c78" stroke-width="1.1" fill="none"/>
<polygon points="192.4,106.93 192.7,106.92 193,106.92 193.3,106.92 193.6,106.91 193.9,106.91 194.2,106.91 194.5,106.91 194.8,106.9 195.1,106.9 195.4,106.9 195.7,106.89 196,106.89 196.3,106.88 196.6,106.88 196.9,106.87 197.2,106.87 197.5,106.86 197.8,106.86 198.1,106.85 198.4,106.84 198.7,106.83 199,106.83 199.3,106.82 199.6,106.81 199.9,106.8 200.2,106.79 200.5,106.78 200.8,106.76 201.1,106.75 201.4,106.74 201.7,106.72 202,106.7 202.3,106.68 202.6,106.66 202.9,106.64 203.2,106.61 203.5,106.58 203.8,106.55 204.1,106.51 204.4,106.47 204.7,106.43 205,106.37 205.3,106.31 205.6,106.25 205.9,106.17 206.2,106.07 206.5,105.97 206.8,105.84 207.1,105.68 207.4,105.5 207.7,105.28 208,105 208.3,104.66 208.6,104.22 208.9,103.66 209.2,102.93 209.5,101.97 209.8,100.68 210.1,98.95 210.4,96.68 210.7,93.85 211,90.81 211.3,88.51 211.6,88.13 211.9,89.9 212.2,92.82 212.5,95.79 212.8,98.26 213.1,100.16 213.4,101.58 213.7,102.64 214,103.44 214.3,104.05 214.6,104.52 214.9,104.9 215.2,105.19 215.5,105.43 215.8,105.63 216.1,105.79 216.4,105.92 216.7,106.04 217,106.14 217.3,106.22 217.6,106.29 217.9,106.35 218.2,106.41 218.5,106.46 218.8,106.5 219.1,106.54 219.4,106.57 219.7,106.6 220,106.63 220.3,106.65 220.6,106.68 220.9,106.7 221.2,106.71 221.5,106.73 221.8,106.75 222.1,106.76 222.4,106.77 222.7,106.78 223,106.8 223.3,106.81 223.6,106.81 223.9,106.82 224.2,106.83 224.5,106.84 224.8,106.85 225.1,106.85 225.4,106.86 225.7,106.87 226,106.87 226.3,106.88 226.6,106.88 226.9,106.89 227.2,106.89 227.5,106.89 227.8,106.9 228.1,106.9 228.4,106.9 228.7,106.91 229,106.91 229.3,106.91 229.3,107 192.4,107" fill="rgba(60,170,60,0.65)"/>
<polyline points="192.4,106.93 192.7,106.92 193,106.92 193.3,106.92 193.6,106.91 193.9,106.91 194.2,106.91 194.5,106.91 194.8,106.9 195.1,106.9 195.4,106.9 195.7,106.89 196,106.89 196.3,106.88 196.6,106.88 196.9,106.87 197.2,106.87 197.5,106.86 197.8,106.86 198.1,106.85 198.4,106.84 198.7,106.83 199,106.83 199.3,106.82 199.6,106.81 199.9,106.8 200.2,106.79 200.5,106.78 200.8,106.76 201.1,106.75 201.4,106.74 201.7,106.72 202,106.7 202.3,106.68 202.6,106.66 202.9,106.64 203.2,106.61 203.5,106.58 203.8,106.55 204.1,106.51 204.4,106.47 204.7,106.43 205,106.37 205.3,106.31 205.6,106.25 205.9,106.17 206.2,106.07 206.5,105.97 206.8,105.84 207.1,105.68 207.4,105.5 207.7,105.28 208,105 208.3,104.66 208.6,104.22 208.9,103.66 209.2,102.93 209.5,101.97 209.8,100.68 210.1,98.95 210.4,96.68 210.7,93.85 211,90.81 211.3,88.51 211.6,88.13 211.9,89.9 212.2,92.82 212.5,95.79 212.8,98.26 213.1,100.16 213.4,101.58 213.7,102.64 214,103.44 214.3,104.05 214.6,104.52 214.9,104.9 215.2,105.19 215.5,105.43 215.8,105.63 216.1,105.79 216.4,105.92 216.7,106.04 217,106.14 217.3,106.22 217.6,106.29 217.9,106.35 218.2,106.41 218.5,106.46 218.8,106.5 219.1,106.54 219.4,106.57 219.7,106.6 220,106.63 220.3,106.65 220.6,106.68 220.9,106.7 221.2,106.71 221.5,106.73 221.8,106.75 222.1,106.76 222.4,106.77 222.7,106.78 223,106.8 223.3,106.81 223.6,106.81 223.9,106.82 224.2,106.83 224.5,106.84 224.8,106.85 225.1,106.85 225.4,106.86 225.7,106.87 226,106.87 226.3,106.88 226.6,106.88 226.9,106.89 227.2,106.89 227.5,106.89 227.8,106.9 228.1,106.9 228.4,106.9 228.7,106.91 229,106.91 229.3,106.91" stroke="#34a034" stroke-width="0.8" fill="none"/>
<polygon points="192.4,106.96 192.7,106.96 193,106.96 193.3,106.96 193.6,106.95 193.9,106.95 194.2,106.95 194.5,106.95 194.8,106.95 195.1,106.95 195.4,106.94 195.7,106.94 196,106.94 196.3,106.94 196.6,106.94 196.9,106.93 197.2,106.93 197.5,106.93 197.8,106.93 198.1,106.92 198.4,106.92 198.7,106.92 199,106.91 199.3,106.91 199.6,106.9 199.9,106.9 200.2,106.9 200.5,106.89 200.8,106.89 201.1,106.88 201.4,106.87 201.7,106.87 202,106.86 202.3,106.85 202.6,106.84 202.9,106.83 203.2,106.82 203.5,106.81 203.8,106.8 204.1,106.79 204.4,106.77 204.7,106.75 205,106.74 205.3,106.72 205.6,106.69 205.9,106.67 206.2,106.64 206.5,106.6 206.8,106.57 207.1,106.52 207.4,106.47 207.7,106.41 208,106.35 208.3,106.27 208.6,106.17 208.9,106.05 209.2,105.91 209.5,105.74 209.8,105.52 210.1,105.25 210.4,104.89 210.7,104.43 211,103.82 211.3,103.01 211.6,101.92 211.9,100.48 212.2,98.69 212.5,96.78 212.8,95.32 213.1,95.08 213.4,96.2 213.7,98.05 214,99.92 214.3,101.48 214.6,102.68 214.9,103.58 215.2,104.25 215.5,104.75 215.8,105.14 216.1,105.44 216.4,105.67 216.7,105.86 217,106.01 217.3,106.13 217.6,106.24 217.9,106.32 218.2,106.39 218.5,106.45 218.8,106.51 219.1,106.55 219.4,106.59 219.7,106.63 220,106.66 220.3,106.68 220.6,106.71 220.9,106.73 221.2,106.75 221.5,106.77 221.8,106.78 222.1,106.79 222.4,106.81 222.7,106.82 223,106.83 223.3,106.84 223.6,106.85 223.9,106.86 224.2,106.86 224.5,106.87 224.8,106.88 225.1,106.88 225.4,106.89 225.7,106.89 226,106.9 226.3,106.9 226.6,106.91 226.9,106.91 227.2,106.91 227.5,106.92 227.8,106.92 228.1,106.92 228.4,106.93 228.7,106.93 229,106.93 229.3,106.94 229.3,107 192.4,107" fill="rgba(60,170,60,0.55)"/>
<polyline points="192.4,106.96 192.7,106.96 193,106.96 193.3,106.96 193.6,106.95 193.9,106.95 194.2,106.95 194.5,106.95 194.8,106.95 195.1,106.95 195.4,106.94 195.7,106.94 196,106.94 196.3,106.94 196.6,106.94 196.9,106.93 197.2,106.93 197.5,106.93 197.8,106.93 198.1,106.92 198.4,106.92 198.7,106.92 199,106.91 199.3,106.91 199.6,106.9 199.9,106.9 200.2,106.9 200.5,106.89 200.8,106.89 201.1,106.88 201.4,106.87 201.7,106.87 202,106.86 202.3,106.85 202.6,106.84 202.9,106.83 203.2,106.82 203.5,106.81 203.8,106.8 204.1,106.79 204.4,106.77 204.7,106.75 205,106.74 205.3,106.72 205.6,106.69 205.9,106.67 206.2,106.64 206.5,106.6 206.8,106.57 207.1,106.52 207.4,106.47 207.7,106.41 208,106.35 208.3,106.27 208.6,106.17 208.9,106.05 209.2,105.91 209.5,105.74 209.8,105.52 210.1,105.25 210.4,104.89 210.7,104.43 211,103.82 211.3,103.01 211.6,101.92 211.9,100.48 212.2,98.69 212.5,96.78 212.8,95.32 213.1,95.08 213.4,96.2 213.7,98.05 214,99.92 214.3,101.48 214.6,102.68 214.9,103.58 215.2,104.25 215.5,104.75 215.8,105.14 216.1,105.44 216.4,105.67 216.7,105.86 217,106.01 217.3,106.13 217.6,106.24 217.9,106.32 218.2,106.39 218.5,106.45 218.8,106.51 219.1,106.55 219.4,106.59 219.7,106.63 220,106.66 220.3,106.68 220.6,106.71 220.9,106.73 221.2,106.75 221.5,106.77 221.8,106.78 222.1,106.79 222.4,106.81 222.7,106.82 223,106.83 223.3,106.84 223.6,106.85 223.9,106.86 224.2,106.86 224.5,106.87 224.8,106.88 225.1,106.88 225.4,106.89 225.7,106.89 226,106.9 226.3,106.9 226.6,106.91 226.9,106.91 227.2,106.91 227.5,106.92 227.8,106.92 228.1,106.92 228.4,106.93 228.7,106.93 229,106.93 229.3,106.94" stroke="#34a034" stroke-width="0.8" fill="none"/>
<path d="M192.5,106.6 C193.08,106.47 194.75,106.3 196,105.8 C197.25,105.3 198.63,104.83 200,103.6 C201.37,102.37 202.97,101.42 204.2,98.4 C205.43,95.38 206.5,89.1 207.4,85.5 C208.3,81.9 208.95,78.8 209.6,76.8 C210.25,74.8 210.75,73.77 211.3,73.5 C211.85,73.23 212.3,76.37 212.9,75.2 C213.5,74.03 214.35,66.23 214.9,66.5 C215.45,66.77 215.62,72.72 216.2,76.8 C216.78,80.88 217.5,87 218.4,91 C219.3,95 220.5,98.53 221.6,100.8 C222.7,103.07 223.72,103.67 225,104.6 C226.28,105.53 228.58,106.1 229.3,106.4" stroke="#24244a" stroke-width="1.15" fill="none"/>
<line x1="192.4" y1="107" x2="229.3" y2="107" stroke="#1c1c78" stroke-width="1.2"/>
<polygon points="192.4,156.27 192.7,156.24 193,156.22 193.3,156.19 193.6,156.16 193.9,156.13 194.2,156.1 194.5,156.07 194.8,156.03 195.1,155.99 195.4,155.96 195.7,155.91 196,155.87 196.3,155.82 196.6,155.77 196.9,155.72 197.2,155.66 197.5,155.6 197.8,155.54 198.1,155.47 198.4,155.4 198.7,155.32 199,155.24 199.3,155.15 199.6,155.05 199.9,154.94 200.2,154.83 200.5,154.71 200.8,154.57 201.1,154.43 201.4,154.27 201.7,154.1 202,153.91 202.3,153.71 202.6,153.48 202.9,153.23 203.2,152.95 203.5,152.65 203.8,152.31 204.1,151.93 204.4,151.51 204.7,151.04 205,150.51 205.3,149.91 205.6,149.25 205.9,148.49 206.2,147.64 206.5,146.67 206.8,145.59 207.1,144.36 207.4,142.99 207.7,141.47 208,139.79 208.3,137.98 208.6,136.07 208.9,134.12 209.2,132.24 209.5,130.55 209.8,129.19 210.1,128.31 210.4,128 210.7,128.31 211,129.19 211.3,130.55 211.6,132.24 211.9,134.12 212.2,136.07 212.5,137.98 212.8,139.79 213.1,141.47 213.4,142.99 213.7,144.36 214,145.59 214.3,146.67 214.6,147.64 214.9,148.49 215.2,149.25 215.5,149.91 215.8,150.51 216.1,151.04 216.4,151.51 216.7,151.93 217,152.31 217.3,152.65 217.6,152.95 217.9,153.23 218.2,153.48 218.5,153.71 218.8,153.91 219.1,154.1 219.4,154.27 219.7,154.43 220,154.57 220.3,154.71 220.6,154.83 220.9,154.94 221.2,155.05 221.5,155.15 221.8,155.24 222.1,155.32 222.4,155.4 222.7,155.47 223,155.54 223.3,155.6 223.6,155.66 223.9,155.72 224.2,155.77 224.5,155.82 224.8,155.87 225.1,155.91 225.4,155.96 225.7,155.99 226,156.03 226.3,156.07 226.6,156.1 226.9,156.13 227.2,156.16 227.5,156.19 227.8,156.22 228.1,156.24 228.4,156.27 228.7,156.29 229,156.31 229.3,156.33 229.3,157 192.4,157" fill="rgba(170,170,250,0.12)"/>
<polyline points="192.4,156.27 192.7,156.24 193,156.22 193.3,156.19 193.6,156.16 193.9,156.13 194.2,156.1 194.5,156.07 194.8,156.03 195.1,155.99 195.4,155.96 195.7,155.91 196,155.87 196.3,155.82 196.6,155.77 196.9,155.72 197.2,155.66 197.5,155.6 197.8,155.54 198.1,155.47 198.4,155.4 198.7,155.32 199,155.24 199.3,155.15 199.6,155.05 199.9,154.94 200.2,154.83 200.5,154.71 200.8,154.57 201.1,154.43 201.4,154.27 201.7,154.1 202,153.91 202.3,153.71 202.6,153.48 202.9,153.23 203.2,152.95 203.5,152.65 203.8,152.31 204.1,151.93 204.4,151.51 204.7,151.04 205,150.51 205.3,149.91 205.6,149.25 205.9,148.49 206.2,147.64 206.5,146.67 206.8,145.59 207.1,144.36 207.4,142.99 207.7,141.47 208,139.79 208.3,137.98 208.6,136.07 208.9,134.12 209.2,132.24 209.5,130.55 209.8,129.19 210.1,128.31 210.4,128 210.7,128.31 211,129.19 211.3,130.55 211.6,132.24 211.9,134.12 212.2,136.07 212.5,137.98 212.8,139.79 213.1,141.47 213.4,142.99 213.7,144.36 214,145.59 214.3,146.67 214.6,147.64 214.9,148.49 215.2,149.25 215.5,149.91 215.8,150.51 216.1,151.04 216.4,151.51 216.7,151.93 217,152.31 217.3,152.65 217.6,152.95 217.9,153.23 218.2,153.48 218.5,153.71 218.8,153.91 219.1,154.1 219.4,154.27 219.7,154.43 220,154.57 220.3,154.71 220.6,154.83 220.9,154.94 221.2,155.05 221.5,155.15 221.8,155.24 222.1,155.32 222.4,155.4 222.7,155.47 223,155.54 223.3,155.6 223.6,155.66 223.9,155.72 224.2,155.77 224.5,155.82 224.8,155.87 225.1,155.91 225.4,155.96 225.7,155.99 226,156.03 226.3,156.07 226.6,156.1 226.9,156.13 227.2,156.16 227.5,156.19 227.8,156.22 228.1,156.24 228.4,156.27 228.7,156.29 229,156.31 229.3,156.33" stroke="#3c3ce6" stroke-width="0.9" fill="none"/>
<polygon points="192.4,156.77 192.7,156.76 193,156.75 193.3,156.75 193.6,156.74 193.9,156.74 194.2,156.73 194.5,156.72 194.8,156.71 195.1,156.71 195.4,156.7 195.7,156.69 196,156.68 196.3,156.67 196.6,156.66 196.9,156.65 197.2,156.64 197.5,156.63 197.8,156.62 198.1,156.6 198.4,156.59 198.7,156.58 199,156.56 199.3,156.55 199.6,156.53 199.9,156.52 200.2,156.5 200.5,156.48 200.8,156.46 201.1,156.44 201.4,156.42 201.7,156.4 202,156.37 202.3,156.35 202.6,156.32 202.9,156.29 203.2,156.26 203.5,156.23 203.8,156.19 204.1,156.15 204.4,156.11 204.7,156.07 205,156.02 205.3,155.97 205.6,155.92 205.9,155.86 206.2,155.8 206.5,155.73 206.8,155.65 207.1,155.57 207.4,155.48 207.7,155.39 208,155.28 208.3,155.16 208.6,155.03 208.9,154.89 209.2,154.73 209.5,154.56 209.8,154.36 210.1,154.14 210.4,153.89 210.7,153.6 211,153.28 211.3,152.91 211.6,152.49 211.9,152 212.2,151.44 212.5,150.78 212.8,150 213.1,149.09 213.4,148 213.7,146.71 214,145.18 214.3,143.34 214.6,141.16 214.9,138.6 215.2,135.66 215.5,132.4 215.8,129 216.1,125.82 216.4,123.35 216.7,122.09 217,122.35 217.3,124.06 217.6,126.83 217.9,130.13 218.2,133.51 218.5,136.68 218.8,139.5 219.1,141.93 219.4,143.99 219.7,145.72 220,147.17 220.3,148.38 220.6,149.41 220.9,150.27 221.2,151.01 221.5,151.63 221.8,152.17 222.1,152.64 222.4,153.04 222.7,153.39 223,153.7 223.3,153.97 223.6,154.21 223.9,154.43 224.2,154.62 224.5,154.79 224.8,154.94 225.1,155.08 225.4,155.2 225.7,155.32 226,155.42 226.3,155.51 226.6,155.6 226.9,155.68 227.2,155.75 227.5,155.82 227.8,155.88 228.1,155.94 228.4,155.99 228.7,156.04 229,156.08 229.3,156.13 229.3,157 192.4,157" fill="rgba(110,110,230,0.14)"/>
<polyline points="192.4,156.77 192.7,156.76 193,156.75 193.3,156.75 193.6,156.74 193.9,156.74 194.2,156.73 194.5,156.72 194.8,156.71 195.1,156.71 195.4,156.7 195.7,156.69 196,156.68 196.3,156.67 196.6,156.66 196.9,156.65 197.2,156.64 197.5,156.63 197.8,156.62 198.1,156.6 198.4,156.59 198.7,156.58 199,156.56 199.3,156.55 199.6,156.53 199.9,156.52 200.2,156.5 200.5,156.48 200.8,156.46 201.1,156.44 201.4,156.42 201.7,156.4 202,156.37 202.3,156.35 202.6,156.32 202.9,156.29 203.2,156.26 203.5,156.23 203.8,156.19 204.1,156.15 204.4,156.11 204.7,156.07 205,156.02 205.3,155.97 205.6,155.92 205.9,155.86 206.2,155.8 206.5,155.73 206.8,155.65 207.1,155.57 207.4,155.48 207.7,155.39 208,155.28 208.3,155.16 208.6,155.03 208.9,154.89 209.2,154.73 209.5,154.56 209.8,154.36 210.1,154.14 210.4,153.89 210.7,153.6 211,153.28 211.3,152.91 211.6,152.49 211.9,152 212.2,151.44 212.5,150.78 212.8,150 213.1,149.09 213.4,148 213.7,146.71 214,145.18 214.3,143.34 214.6,141.16 214.9,138.6 215.2,135.66 215.5,132.4 215.8,129 216.1,125.82 216.4,123.35 216.7,122.09 217,122.35 217.3,124.06 217.6,126.83 217.9,130.13 218.2,133.51 218.5,136.68 218.8,139.5 219.1,141.93 219.4,143.99 219.7,145.72 220,147.17 220.3,148.38 220.6,149.41 220.9,150.27 221.2,151.01 221.5,151.63 221.8,152.17 222.1,152.64 222.4,153.04 222.7,153.39 223,153.7 223.3,153.97 223.6,154.21 223.9,154.43 224.2,154.62 224.5,154.79 224.8,154.94 225.1,155.08 225.4,155.2 225.7,155.32 226,155.42 226.3,155.51 226.6,155.6 226.9,155.68 227.2,155.75 227.5,155.82 227.8,155.88 228.1,155.94 228.4,155.99 228.7,156.04 229,156.08 229.3,156.13" stroke="#1c1c78" stroke-width="1.1" fill="none"/>
<polygon points="192.4,156.97 192.7,156.97 193,156.96 193.3,156.96 193.6,156.96 193.9,156.96 194.2,156.96 194.5,156.96 194.8,156.96 195.1,156.95 195.4,156.95 195.7,156.95 196,156.95 196.3,156.95 196.6,156.95 196.9,156.94 197.2,156.94 197.5,156.94 197.8,156.94 198.1,156.93 198.4,156.93 198.7,156.93 199,156.92 199.3,156.92 199.6,156.92 199.9,156.91 200.2,156.91 200.5,156.9 200.8,156.9 201.1,156.89 201.4,156.89 201.7,156.88 202,156.87 202.3,156.86 202.6,156.86 202.9,156.85 203.2,156.84 203.5,156.82 203.8,156.81 204.1,156.8 204.4,156.78 204.7,156.76 205,156.74 205.3,156.72 205.6,156.69 205.9,156.66 206.2,156.63 206.5,156.59 206.8,156.54 207.1,156.49 207.4,156.43 207.7,156.35 208,156.26 208.3,156.14 208.6,156 208.9,155.83 209.2,155.6 209.5,155.31 209.8,154.94 210.1,154.43 210.4,153.76 210.7,152.86 211,151.69 211.3,150.28 211.6,148.9 211.9,148.06 212.2,148.24 212.5,149.33 212.8,150.77 213.1,152.11 213.4,153.19 213.7,154.01 214,154.62 214.3,155.07 214.6,155.42 214.9,155.68 215.2,155.89 215.5,156.05 215.8,156.18 216.1,156.29 216.4,156.38 216.7,156.45 217,156.51 217.3,156.56 217.6,156.6 217.9,156.64 218.2,156.68 218.5,156.7 218.8,156.73 219.1,156.75 219.4,156.77 219.7,156.79 220,156.8 220.3,156.82 220.6,156.83 220.9,156.84 221.2,156.85 221.5,156.86 221.8,156.87 222.1,156.87 222.4,156.88 222.7,156.89 223,156.89 223.3,156.9 223.6,156.9 223.9,156.91 224.2,156.91 224.5,156.92 224.8,156.92 225.1,156.93 225.4,156.93 225.7,156.93 226,156.93 226.3,156.94 226.6,156.94 226.9,156.94 227.2,156.94 227.5,156.95 227.8,156.95 228.1,156.95 228.4,156.95 228.7,156.95 229,156.96 229.3,156.96 229.3,157 192.4,157" fill="rgba(60,170,60,0.65)"/>
<polyline points="192.4,156.97 192.7,156.97 193,156.96 193.3,156.96 193.6,156.96 193.9,156.96 194.2,156.96 194.5,156.96 194.8,156.96 195.1,156.95 195.4,156.95 195.7,156.95 196,156.95 196.3,156.95 196.6,156.95 196.9,156.94 197.2,156.94 197.5,156.94 197.8,156.94 198.1,156.93 198.4,156.93 198.7,156.93 199,156.92 199.3,156.92 199.6,156.92 199.9,156.91 200.2,156.91 200.5,156.9 200.8,156.9 201.1,156.89 201.4,156.89 201.7,156.88 202,156.87 202.3,156.86 202.6,156.86 202.9,156.85 203.2,156.84 203.5,156.82 203.8,156.81 204.1,156.8 204.4,156.78 204.7,156.76 205,156.74 205.3,156.72 205.6,156.69 205.9,156.66 206.2,156.63 206.5,156.59 206.8,156.54 207.1,156.49 207.4,156.43 207.7,156.35 208,156.26 208.3,156.14 208.6,156 208.9,155.83 209.2,155.6 209.5,155.31 209.8,154.94 210.1,154.43 210.4,153.76 210.7,152.86 211,151.69 211.3,150.28 211.6,148.9 211.9,148.06 212.2,148.24 212.5,149.33 212.8,150.77 213.1,152.11 213.4,153.19 213.7,154.01 214,154.62 214.3,155.07 214.6,155.42 214.9,155.68 215.2,155.89 215.5,156.05 215.8,156.18 216.1,156.29 216.4,156.38 216.7,156.45 217,156.51 217.3,156.56 217.6,156.6 217.9,156.64 218.2,156.68 218.5,156.7 218.8,156.73 219.1,156.75 219.4,156.77 219.7,156.79 220,156.8 220.3,156.82 220.6,156.83 220.9,156.84 221.2,156.85 221.5,156.86 221.8,156.87 222.1,156.87 222.4,156.88 222.7,156.89 223,156.89 223.3,156.9 223.6,156.9 223.9,156.91 224.2,156.91 224.5,156.92 224.8,156.92 225.1,156.93 225.4,156.93 225.7,156.93 226,156.93 226.3,156.94 226.6,156.94 226.9,156.94 227.2,156.94 227.5,156.95 227.8,156.95 228.1,156.95 228.4,156.95 228.7,156.95 229,156.96 229.3,156.96" stroke="#34a034" stroke-width="0.8" fill="none"/>
<polygon points="192.4,156.98 192.7,156.98 193,156.98 193.3,156.98 193.6,156.98 193.9,156.98 194.2,156.98 194.5,156.98 194.8,156.98 195.1,156.97 195.4,156.97 195.7,156.97 196,156.97 196.3,156.97 196.6,156.97 196.9,156.97 197.2,156.97 197.5,156.97 197.8,156.96 198.1,156.96 198.4,156.96 198.7,156.96 199,156.96 199.3,156.96 199.6,156.95 199.9,156.95 200.2,156.95 200.5,156.95 200.8,156.95 201.1,156.94 201.4,156.94 201.7,156.94 202,156.93 202.3,156.93 202.6,156.93 202.9,156.92 203.2,156.92 203.5,156.91 203.8,156.91 204.1,156.9 204.4,156.9 204.7,156.89 205,156.88 205.3,156.87 205.6,156.86 205.9,156.85 206.2,156.84 206.5,156.82 206.8,156.81 207.1,156.79 207.4,156.77 207.7,156.75 208,156.72 208.3,156.69 208.6,156.65 208.9,156.6 209.2,156.55 209.5,156.48 209.8,156.4 210.1,156.3 210.4,156.17 210.7,156.01 211,155.8 211.3,155.52 211.6,155.15 211.9,154.66 212.2,154 212.5,153.16 212.8,152.2 213.1,151.35 213.4,151 213.7,151.35 214,152.2 214.3,153.16 214.6,154 214.9,154.66 215.2,155.15 215.5,155.52 215.8,155.8 216.1,156.01 216.4,156.17 216.7,156.3 217,156.4 217.3,156.48 217.6,156.55 217.9,156.6 218.2,156.65 218.5,156.69 218.8,156.72 219.1,156.75 219.4,156.77 219.7,156.79 220,156.81 220.3,156.82 220.6,156.84 220.9,156.85 221.2,156.86 221.5,156.87 221.8,156.88 222.1,156.89 222.4,156.9 222.7,156.9 223,156.91 223.3,156.91 223.6,156.92 223.9,156.92 224.2,156.93 224.5,156.93 224.8,156.93 225.1,156.94 225.4,156.94 225.7,156.94 226,156.95 226.3,156.95 226.6,156.95 226.9,156.95 227.2,156.95 227.5,156.96 227.8,156.96 228.1,156.96 228.4,156.96 228.7,156.96 229,156.96 229.3,156.97 229.3,157 192.4,157" fill="rgba(60,170,60,0.55)"/>
<polyline points="192.4,156.98 192.7,156.98 193,156.98 193.3,156.98 193.6,156.98 193.9,156.98 194.2,156.98 194.5,156.98 194.8,156.98 195.1,156.97 195.4,156.97 195.7,156.97 196,156.97 196.3,156.97 196.6,156.97 196.9,156.97 197.2,156.97 197.5,156.97 197.8,156.96 198.1,156.96 198.4,156.96 198.7,156.96 199,156.96 199.3,156.96 199.6,156.95 199.9,156.95 200.2,156.95 200.5,156.95 200.8,156.95 201.1,156.94 201.4,156.94 201.7,156.94 202,156.93 202.3,156.93 202.6,156.93 202.9,156.92 203.2,156.92 203.5,156.91 203.8,156.91 204.1,156.9 204.4,156.9 204.7,156.89 205,156.88 205.3,156.87 205.6,156.86 205.9,156.85 206.2,156.84 206.5,156.82 206.8,156.81 207.1,156.79 207.4,156.77 207.7,156.75 208,156.72 208.3,156.69 208.6,156.65 208.9,156.6 209.2,156.55 209.5,156.48 209.8,156.4 210.1,156.3 210.4,156.17 210.7,156.01 211,155.8 211.3,155.52 211.6,155.15 211.9,154.66 212.2,154 212.5,153.16 212.8,152.2 213.1,151.35 213.4,151 213.7,151.35 214,152.2 214.3,153.16 214.6,154 214.9,154.66 215.2,155.15 215.5,155.52 215.8,155.8 216.1,156.01 216.4,156.17 216.7,156.3 217,156.4 217.3,156.48 217.6,156.55 217.9,156.6 218.2,156.65 218.5,156.69 218.8,156.72 219.1,156.75 219.4,156.77 219.7,156.79 220,156.81 220.3,156.82 220.6,156.84 220.9,156.85 221.2,156.86 221.5,156.87 221.8,156.88 222.1,156.89 222.4,156.9 222.7,156.9 223,156.91 223.3,156.91 223.6,156.92 223.9,156.92 224.2,156.93 224.5,156.93 224.8,156.93 225.1,156.94 225.4,156.94 225.7,156.94 226,156.95 226.3,156.95 226.6,156.95 226.9,156.95 227.2,156.95 227.5,156.96 227.8,156.96 228.1,156.96 228.4,156.96 228.7,156.96 229,156.96 229.3,156.97" stroke="#34a034" stroke-width="0.8" fill="none"/>
<path d="M192.5,156.6 C193.25,156.43 195.58,156.13 197,155.6 C198.42,155.07 199.8,154.27 201,153.4 C202.2,152.53 203.13,152.65 204.2,150.4 C205.27,148.15 206.58,143.28 207.4,139.9 C208.22,136.52 208.62,132.65 209.1,130.1 C209.58,127.55 209.92,125.7 210.3,124.6 C210.68,123.5 210.98,123.35 211.4,123.5 C211.82,123.65 212.33,124.68 212.8,125.5 C213.27,126.32 213.73,128.57 214.2,128.4 C214.67,128.23 215.18,126.02 215.6,124.5 C216.02,122.98 216.33,118.37 216.7,119.3 C217.07,120.23 217.35,126.12 217.8,130.1 C218.25,134.08 218.58,139.57 219.4,143.2 C220.22,146.83 221.6,149.9 222.7,151.9 C223.8,153.9 224.9,154.47 226,155.2 C227.1,155.93 228.75,156.12 229.3,156.3" stroke="#24244a" stroke-width="1.15" fill="none"/>
<line x1="192.4" y1="157" x2="229.3" y2="157" stroke="#1c1c78" stroke-width="1.2"/>
<polygon points="192.4,200.47 192.7,200.45 193,200.44 193.3,200.43 193.6,200.42 193.9,200.4 194.2,200.39 194.5,200.37 194.8,200.36 195.1,200.34 195.4,200.32 195.7,200.3 196,200.28 196.3,200.26 196.6,200.24 196.9,200.22 197.2,200.19 197.5,200.16 197.8,200.13 198.1,200.1 198.4,200.07 198.7,200.03 199,199.99 199.3,199.95 199.6,199.9 199.9,199.85 200.2,199.8 200.5,199.74 200.8,199.68 201.1,199.61 201.4,199.53 201.7,199.45 202,199.36 202.3,199.26 202.6,199.14 202.9,199.02 203.2,198.88 203.5,198.73 203.8,198.56 204.1,198.36 204.4,198.14 204.7,197.89 205,197.6 205.3,197.27 205.6,196.89 205.9,196.45 206.2,195.93 206.5,195.32 206.8,194.6 207.1,193.74 207.4,192.72 207.7,191.49 208,190.01 208.3,188.23 208.6,186.09 208.9,183.58 209.2,180.71 209.5,177.58 209.8,174.47 210.1,171.81 210.4,170.14 210.7,169.89 211,171.12 211.3,173.5 211.6,176.52 211.9,179.68 212.2,182.66 212.5,185.3 212.8,187.56 213.1,189.45 213.4,191.03 213.7,192.33 214,193.42 214.3,194.33 214.6,195.09 214.9,195.74 215.2,196.28 215.5,196.75 215.8,197.15 216.1,197.49 216.4,197.8 216.7,198.06 217,198.29 217.3,198.49 217.6,198.67 217.9,198.83 218.2,198.98 218.5,199.1 218.8,199.22 219.1,199.32 219.4,199.42 219.7,199.51 220,199.58 220.3,199.65 220.6,199.72 220.9,199.78 221.2,199.84 221.5,199.89 221.8,199.93 222.1,199.98 222.4,200.02 222.7,200.05 223,200.09 223.3,200.12 223.6,200.15 223.9,200.18 224.2,200.21 224.5,200.23 224.8,200.25 225.1,200.28 225.4,200.3 225.7,200.32 226,200.34 226.3,200.35 226.6,200.37 226.9,200.38 227.2,200.4 227.5,200.41 227.8,200.43 228.1,200.44 228.4,200.45 228.7,200.46 229,200.47 229.3,200.48 229.3,200.8 192.4,200.8" fill="rgba(170,170,250,0.1)"/>
<polyline points="192.4,200.47 192.7,200.45 193,200.44 193.3,200.43 193.6,200.42 193.9,200.4 194.2,200.39 194.5,200.37 194.8,200.36 195.1,200.34 195.4,200.32 195.7,200.3 196,200.28 196.3,200.26 196.6,200.24 196.9,200.22 197.2,200.19 197.5,200.16 197.8,200.13 198.1,200.1 198.4,200.07 198.7,200.03 199,199.99 199.3,199.95 199.6,199.9 199.9,199.85 200.2,199.8 200.5,199.74 200.8,199.68 201.1,199.61 201.4,199.53 201.7,199.45 202,199.36 202.3,199.26 202.6,199.14 202.9,199.02 203.2,198.88 203.5,198.73 203.8,198.56 204.1,198.36 204.4,198.14 204.7,197.89 205,197.6 205.3,197.27 205.6,196.89 205.9,196.45 206.2,195.93 206.5,195.32 206.8,194.6 207.1,193.74 207.4,192.72 207.7,191.49 208,190.01 208.3,188.23 208.6,186.09 208.9,183.58 209.2,180.71 209.5,177.58 209.8,174.47 210.1,171.81 210.4,170.14 210.7,169.89 211,171.12 211.3,173.5 211.6,176.52 211.9,179.68 212.2,182.66 212.5,185.3 212.8,187.56 213.1,189.45 213.4,191.03 213.7,192.33 214,193.42 214.3,194.33 214.6,195.09 214.9,195.74 215.2,196.28 215.5,196.75 215.8,197.15 216.1,197.49 216.4,197.8 216.7,198.06 217,198.29 217.3,198.49 217.6,198.67 217.9,198.83 218.2,198.98 218.5,199.1 218.8,199.22 219.1,199.32 219.4,199.42 219.7,199.51 220,199.58 220.3,199.65 220.6,199.72 220.9,199.78 221.2,199.84 221.5,199.89 221.8,199.93 222.1,199.98 222.4,200.02 222.7,200.05 223,200.09 223.3,200.12 223.6,200.15 223.9,200.18 224.2,200.21 224.5,200.23 224.8,200.25 225.1,200.28 225.4,200.3 225.7,200.32 226,200.34 226.3,200.35 226.6,200.37 226.9,200.38 227.2,200.4 227.5,200.41 227.8,200.43 228.1,200.44 228.4,200.45 228.7,200.46 229,200.47 229.3,200.48" stroke="#3c3ce6" stroke-width="0.9" fill="none"/>
<polygon points="192.4,200.61 192.7,200.6 193,200.6 193.3,200.59 193.6,200.59 193.9,200.58 194.2,200.58 194.5,200.57 194.8,200.56 195.1,200.56 195.4,200.55 195.7,200.54 196,200.53 196.3,200.53 196.6,200.52 196.9,200.51 197.2,200.5 197.5,200.49 197.8,200.48 198.1,200.47 198.4,200.46 198.7,200.45 199,200.44 199.3,200.42 199.6,200.41 199.9,200.4 200.2,200.38 200.5,200.36 200.8,200.35 201.1,200.33 201.4,200.31 201.7,200.29 202,200.27 202.3,200.25 202.6,200.22 202.9,200.2 203.2,200.17 203.5,200.14 203.8,200.11 204.1,200.08 204.4,200.04 204.7,200 205,199.96 205.3,199.91 205.6,199.86 205.9,199.81 206.2,199.75 206.5,199.69 206.8,199.62 207.1,199.55 207.4,199.46 207.7,199.37 208,199.27 208.3,199.16 208.6,199.04 208.9,198.9 209.2,198.75 209.5,198.57 209.8,198.38 210.1,198.16 210.4,197.9 210.7,197.62 211,197.28 211.3,196.9 211.6,196.45 211.9,195.93 212.2,195.31 212.5,194.57 212.8,193.69 213.1,192.63 213.4,191.34 213.7,189.78 214,187.89 214.3,185.58 214.6,182.83 214.9,179.62 215.2,176.04 215.5,172.41 215.8,169.24 216.1,167.21 216.4,166.9 216.7,168.4 217,171.27 217.3,174.82 217.6,178.46 217.9,181.81 218.2,184.72 218.5,187.17 218.8,189.19 219.1,190.86 219.4,192.23 219.7,193.36 220,194.29 220.3,195.07 220.6,195.73 220.9,196.29 221.2,196.76 221.5,197.16 221.8,197.51 222.1,197.81 222.4,198.08 222.7,198.31 223,198.51 223.3,198.69 223.6,198.85 223.9,198.99 224.2,199.12 224.5,199.24 224.8,199.34 225.1,199.43 225.4,199.52 225.7,199.6 226,199.67 226.3,199.73 226.6,199.79 226.9,199.85 227.2,199.9 227.5,199.94 227.8,199.99 228.1,200.03 228.4,200.06 228.7,200.1 229,200.13 229.3,200.16 229.3,200.8 192.4,200.8" fill="rgba(170,170,250,0.1)"/>
<polyline points="192.4,200.61 192.7,200.6 193,200.6 193.3,200.59 193.6,200.59 193.9,200.58 194.2,200.58 194.5,200.57 194.8,200.56 195.1,200.56 195.4,200.55 195.7,200.54 196,200.53 196.3,200.53 196.6,200.52 196.9,200.51 197.2,200.5 197.5,200.49 197.8,200.48 198.1,200.47 198.4,200.46 198.7,200.45 199,200.44 199.3,200.42 199.6,200.41 199.9,200.4 200.2,200.38 200.5,200.36 200.8,200.35 201.1,200.33 201.4,200.31 201.7,200.29 202,200.27 202.3,200.25 202.6,200.22 202.9,200.2 203.2,200.17 203.5,200.14 203.8,200.11 204.1,200.08 204.4,200.04 204.7,200 205,199.96 205.3,199.91 205.6,199.86 205.9,199.81 206.2,199.75 206.5,199.69 206.8,199.62 207.1,199.55 207.4,199.46 207.7,199.37 208,199.27 208.3,199.16 208.6,199.04 208.9,198.9 209.2,198.75 209.5,198.57 209.8,198.38 210.1,198.16 210.4,197.9 210.7,197.62 211,197.28 211.3,196.9 211.6,196.45 211.9,195.93 212.2,195.31 212.5,194.57 212.8,193.69 213.1,192.63 213.4,191.34 213.7,189.78 214,187.89 214.3,185.58 214.6,182.83 214.9,179.62 215.2,176.04 215.5,172.41 215.8,169.24 216.1,167.21 216.4,166.9 216.7,168.4 217,171.27 217.3,174.82 217.6,178.46 217.9,181.81 218.2,184.72 218.5,187.17 218.8,189.19 219.1,190.86 219.4,192.23 219.7,193.36 220,194.29 220.3,195.07 220.6,195.73 220.9,196.29 221.2,196.76 221.5,197.16 221.8,197.51 222.1,197.81 222.4,198.08 222.7,198.31 223,198.51 223.3,198.69 223.6,198.85 223.9,198.99 224.2,199.12 224.5,199.24 224.8,199.34 225.1,199.43 225.4,199.52 225.7,199.6 226,199.67 226.3,199.73 226.6,199.79 226.9,199.85 227.2,199.9 227.5,199.94 227.8,199.99 228.1,200.03 228.4,200.06 228.7,200.1 229,200.13 229.3,200.16" stroke="#3c3ce6" stroke-width="0.9" fill="none"/>
<polygon points="192.4,200.56 192.7,200.55 193,200.54 193.3,200.53 193.6,200.52 193.9,200.5 194.2,200.49 194.5,200.48 194.8,200.46 195.1,200.45 195.4,200.43 195.7,200.42 196,200.4 196.3,200.38 196.6,200.36 196.9,200.33 197.2,200.31 197.5,200.28 197.8,200.25 198.1,200.22 198.4,200.19 198.7,200.15 199,200.11 199.3,200.07 199.6,200.02 199.9,199.97 200.2,199.91 200.5,199.84 200.8,199.77 201.1,199.69 201.4,199.6 201.7,199.5 202,199.39 202.3,199.26 202.6,199.11 202.9,198.95 203.2,198.76 203.5,198.54 203.8,198.29 204.1,198 204.4,197.66 204.7,197.27 205,196.8 205.3,196.25 205.6,195.61 205.9,194.86 206.2,194 206.5,193.01 206.8,191.93 207.1,190.78 207.4,189.66 207.7,188.7 208,188.04 208.3,187.8 208.6,188.04 208.9,188.7 209.2,189.66 209.5,190.78 209.8,191.93 210.1,193.01 210.4,194 210.7,194.86 211,195.61 211.3,196.25 211.6,196.8 211.9,197.27 212.2,197.66 212.5,198 212.8,198.29 213.1,198.54 213.4,198.76 213.7,198.95 214,199.11 214.3,199.26 214.6,199.39 214.9,199.5 215.2,199.6 215.5,199.69 215.8,199.77 216.1,199.84 216.4,199.91 216.7,199.97 217,200.02 217.3,200.07 217.6,200.11 217.9,200.15 218.2,200.19 218.5,200.22 218.8,200.25 219.1,200.28 219.4,200.31 219.7,200.33 220,200.36 220.3,200.38 220.6,200.4 220.9,200.42 221.2,200.43 221.5,200.45 221.8,200.46 222.1,200.48 222.4,200.49 222.7,200.5 223,200.52 223.3,200.53 223.6,200.54 223.9,200.55 224.2,200.56 224.5,200.56 224.8,200.57 225.1,200.58 225.4,200.59 225.7,200.6 226,200.6 226.3,200.61 226.6,200.61 226.9,200.62 227.2,200.63 227.5,200.63 227.8,200.64 228.1,200.64 228.4,200.65 228.7,200.65 229,200.65 229.3,200.66 229.3,200.8 192.4,200.8" fill="rgba(245,120,140,0.25)"/>
<polyline points="192.4,200.56 192.7,200.55 193,200.54 193.3,200.53 193.6,200.52 193.9,200.5 194.2,200.49 194.5,200.48 194.8,200.46 195.1,200.45 195.4,200.43 195.7,200.42 196,200.4 196.3,200.38 196.6,200.36 196.9,200.33 197.2,200.31 197.5,200.28 197.8,200.25 198.1,200.22 198.4,200.19 198.7,200.15 199,200.11 199.3,200.07 199.6,200.02 199.9,199.97 200.2,199.91 200.5,199.84 200.8,199.77 201.1,199.69 201.4,199.6 201.7,199.5 202,199.39 202.3,199.26 202.6,199.11 202.9,198.95 203.2,198.76 203.5,198.54 203.8,198.29 204.1,198 204.4,197.66 204.7,197.27 205,196.8 205.3,196.25 205.6,195.61 205.9,194.86 206.2,194 206.5,193.01 206.8,191.93 207.1,190.78 207.4,189.66 207.7,188.7 208,188.04 208.3,187.8 208.6,188.04 208.9,188.7 209.2,189.66 209.5,190.78 209.8,191.93 210.1,193.01 210.4,194 210.7,194.86 211,195.61 211.3,196.25 211.6,196.8 211.9,197.27 212.2,197.66 212.5,198 212.8,198.29 213.1,198.54 213.4,198.76 213.7,198.95 214,199.11 214.3,199.26 214.6,199.39 214.9,199.5 215.2,199.6 215.5,199.69 215.8,199.77 216.1,199.84 216.4,199.91 216.7,199.97 217,200.02 217.3,200.07 217.6,200.11 217.9,200.15 218.2,200.19 218.5,200.22 218.8,200.25 219.1,200.28 219.4,200.31 219.7,200.33 220,200.36 220.3,200.38 220.6,200.4 220.9,200.42 221.2,200.43 221.5,200.45 221.8,200.46 222.1,200.48 222.4,200.49 222.7,200.5 223,200.52 223.3,200.53 223.6,200.54 223.9,200.55 224.2,200.56 224.5,200.56 224.8,200.57 225.1,200.58 225.4,200.59 225.7,200.6 226,200.6 226.3,200.61 226.6,200.61 226.9,200.62 227.2,200.63 227.5,200.63 227.8,200.64 228.1,200.64 228.4,200.65 228.7,200.65 229,200.65 229.3,200.66" stroke="#e83848" stroke-width="0.8" fill="none"/>
<polygon points="192.4,200.68 192.7,200.67 193,200.67 193.3,200.66 193.6,200.66 193.9,200.66 194.2,200.65 194.5,200.65 194.8,200.64 195.1,200.64 195.4,200.63 195.7,200.63 196,200.62 196.3,200.61 196.6,200.61 196.9,200.6 197.2,200.59 197.5,200.58 197.8,200.58 198.1,200.57 198.4,200.56 198.7,200.55 199,200.54 199.3,200.53 199.6,200.52 199.9,200.5 200.2,200.49 200.5,200.48 200.8,200.46 201.1,200.45 201.4,200.43 201.7,200.41 202,200.39 202.3,200.37 202.6,200.34 202.9,200.32 203.2,200.29 203.5,200.26 203.8,200.23 204.1,200.19 204.4,200.15 204.7,200.11 205,200.07 205.3,200.01 205.6,199.96 205.9,199.89 206.2,199.82 206.5,199.74 206.8,199.65 207.1,199.55 207.4,199.44 207.7,199.31 208,199.16 208.3,199 208.6,198.8 208.9,198.57 209.2,198.31 209.5,198 209.8,197.63 210.1,197.2 210.4,196.69 210.7,196.07 211,195.34 211.3,194.47 211.6,193.44 211.9,192.26 212.2,190.96 212.5,189.6 212.8,188.33 213.1,187.34 213.4,186.83 213.7,186.94 214,187.62 214.3,188.73 214.6,190.05 214.9,191.4 215.2,192.67 215.5,193.8 215.8,194.77 216.1,195.6 216.4,196.29 216.7,196.87 217,197.35 217.3,197.76 217.6,198.11 217.9,198.4 218.2,198.65 218.5,198.87 218.8,199.05 219.1,199.22 219.4,199.36 219.7,199.48 220,199.59 220.3,199.69 220.6,199.77 220.9,199.85 221.2,199.92 221.5,199.98 221.8,200.03 222.1,200.08 222.4,200.13 222.7,200.17 223,200.21 223.3,200.24 223.6,200.27 223.9,200.3 224.2,200.33 224.5,200.35 224.8,200.37 225.1,200.4 225.4,200.42 225.7,200.43 226,200.45 226.3,200.47 226.6,200.48 226.9,200.49 227.2,200.51 227.5,200.52 227.8,200.53 228.1,200.54 228.4,200.55 228.7,200.56 229,200.57 229.3,200.58 229.3,200.8 192.4,200.8" fill="rgba(245,120,140,0.25)"/>
<polyline points="192.4,200.68 192.7,200.67 193,200.67 193.3,200.66 193.6,200.66 193.9,200.66 194.2,200.65 194.5,200.65 194.8,200.64 195.1,200.64 195.4,200.63 195.7,200.63 196,200.62 196.3,200.61 196.6,200.61 196.9,200.6 197.2,200.59 197.5,200.58 197.8,200.58 198.1,200.57 198.4,200.56 198.7,200.55 199,200.54 199.3,200.53 199.6,200.52 199.9,200.5 200.2,200.49 200.5,200.48 200.8,200.46 201.1,200.45 201.4,200.43 201.7,200.41 202,200.39 202.3,200.37 202.6,200.34 202.9,200.32 203.2,200.29 203.5,200.26 203.8,200.23 204.1,200.19 204.4,200.15 204.7,200.11 205,200.07 205.3,200.01 205.6,199.96 205.9,199.89 206.2,199.82 206.5,199.74 206.8,199.65 207.1,199.55 207.4,199.44 207.7,199.31 208,199.16 208.3,199 208.6,198.8 208.9,198.57 209.2,198.31 209.5,198 209.8,197.63 210.1,197.2 210.4,196.69 210.7,196.07 211,195.34 211.3,194.47 211.6,193.44 211.9,192.26 212.2,190.96 212.5,189.6 212.8,188.33 213.1,187.34 213.4,186.83 213.7,186.94 214,187.62 214.3,188.73 214.6,190.05 214.9,191.4 215.2,192.67 215.5,193.8 215.8,194.77 216.1,195.6 216.4,196.29 216.7,196.87 217,197.35 217.3,197.76 217.6,198.11 217.9,198.4 218.2,198.65 218.5,198.87 218.8,199.05 219.1,199.22 219.4,199.36 219.7,199.48 220,199.59 220.3,199.69 220.6,199.77 220.9,199.85 221.2,199.92 221.5,199.98 221.8,200.03 222.1,200.08 222.4,200.13 222.7,200.17 223,200.21 223.3,200.24 223.6,200.27 223.9,200.3 224.2,200.33 224.5,200.35 224.8,200.37 225.1,200.4 225.4,200.42 225.7,200.43 226,200.45 226.3,200.47 226.6,200.48 226.9,200.49 227.2,200.51 227.5,200.52 227.8,200.53 228.1,200.54 228.4,200.55 228.7,200.56 229,200.57 229.3,200.58" stroke="#e83848" stroke-width="0.8" fill="none"/>
<path d="M192.5,200.5 C193.25,200.35 195.6,199.95 197,199.6 C198.4,199.25 199.52,199.83 200.9,198.4 C202.28,196.97 204.12,194.23 205.3,191 C206.48,187.77 207.1,182.45 208,179 C208.9,175.55 209.97,172.33 210.7,170.3 C211.43,168.27 211.82,167.35 212.4,166.8 C212.98,166.25 213.57,167.3 214.2,167 C214.83,166.7 215.6,164.27 216.2,165 C216.8,165.73 217.35,169.07 217.8,171.4 C218.25,173.73 218.35,175.73 218.9,179 C219.45,182.27 220.1,187.82 221.1,191 C222.1,194.18 223.53,196.55 224.9,198.1 C226.27,199.65 228.57,199.93 229.3,200.3" stroke="#2a2a2a" stroke-width="1.15" fill="none"/>
<line x1="192.4" y1="201" x2="229.3" y2="201" stroke="#5050c8" stroke-width="1.3"/>
<polygon points="192.4,246.25 192.7,246.24 193,246.23 193.3,246.22 193.6,246.2 193.9,246.19 194.2,246.17 194.5,246.16 194.8,246.14 195.1,246.12 195.4,246.1 195.7,246.08 196,246.06 196.3,246.03 196.6,246.01 196.9,245.98 197.2,245.95 197.5,245.92 197.8,245.89 198.1,245.85 198.4,245.82 198.7,245.78 199,245.73 199.3,245.68 199.6,245.63 199.9,245.57 200.2,245.51 200.5,245.45 200.8,245.37 201.1,245.29 201.4,245.2 201.7,245.11 202,245 202.3,244.88 202.6,244.74 202.9,244.6 203.2,244.43 203.5,244.24 203.8,244.02 204.1,243.78 204.4,243.5 204.7,243.18 205,242.81 205.3,242.39 205.6,241.89 205.9,241.3 206.2,240.6 206.5,239.77 206.8,238.78 207.1,237.59 207.4,236.16 207.7,234.43 208,232.37 208.3,229.94 208.6,227.16 208.9,224.13 209.2,221.12 209.5,218.54 209.8,216.93 210.1,216.68 210.4,217.87 210.7,220.19 211,223.11 211.3,226.17 211.6,229.05 211.9,231.6 212.2,233.78 212.5,235.62 212.8,237.14 213.1,238.41 213.4,239.46 213.7,240.34 214,241.08 214.3,241.7 214.6,242.23 214.9,242.68 215.2,243.07 215.5,243.4 215.8,243.69 216.1,243.95 216.4,244.17 216.7,244.37 217,244.54 217.3,244.7 217.6,244.84 217.9,244.96 218.2,245.07 218.5,245.17 218.8,245.26 219.1,245.35 219.4,245.42 219.7,245.49 220,245.55 220.3,245.61 220.6,245.67 220.9,245.72 221.2,245.76 221.5,245.8 221.8,245.84 222.1,245.88 222.4,245.91 222.7,245.94 223,245.97 223.3,246 223.6,246.03 223.9,246.05 224.2,246.07 224.5,246.09 224.8,246.11 225.1,246.13 225.4,246.15 225.7,246.17 226,246.18 226.3,246.2 226.6,246.21 226.9,246.23 227.2,246.24 227.5,246.25 227.8,246.26 228.1,246.27 228.4,246.28 228.7,246.29 229,246.3 229.3,246.31 229.3,246.6 192.4,246.6" fill="rgba(170,170,250,0.1)"/>
<polyline points="192.4,246.25 192.7,246.24 193,246.23 193.3,246.22 193.6,246.2 193.9,246.19 194.2,246.17 194.5,246.16 194.8,246.14 195.1,246.12 195.4,246.1 195.7,246.08 196,246.06 196.3,246.03 196.6,246.01 196.9,245.98 197.2,245.95 197.5,245.92 197.8,245.89 198.1,245.85 198.4,245.82 198.7,245.78 199,245.73 199.3,245.68 199.6,245.63 199.9,245.57 200.2,245.51 200.5,245.45 200.8,245.37 201.1,245.29 201.4,245.2 201.7,245.11 202,245 202.3,244.88 202.6,244.74 202.9,244.6 203.2,244.43 203.5,244.24 203.8,244.02 204.1,243.78 204.4,243.5 204.7,243.18 205,242.81 205.3,242.39 205.6,241.89 205.9,241.3 206.2,240.6 206.5,239.77 206.8,238.78 207.1,237.59 207.4,236.16 207.7,234.43 208,232.37 208.3,229.94 208.6,227.16 208.9,224.13 209.2,221.12 209.5,218.54 209.8,216.93 210.1,216.68 210.4,217.87 210.7,220.19 211,223.11 211.3,226.17 211.6,229.05 211.9,231.6 212.2,233.78 212.5,235.62 212.8,237.14 213.1,238.41 213.4,239.46 213.7,240.34 214,241.08 214.3,241.7 214.6,242.23 214.9,242.68 215.2,243.07 215.5,243.4 215.8,243.69 216.1,243.95 216.4,244.17 216.7,244.37 217,244.54 217.3,244.7 217.6,244.84 217.9,244.96 218.2,245.07 218.5,245.17 218.8,245.26 219.1,245.35 219.4,245.42 219.7,245.49 220,245.55 220.3,245.61 220.6,245.67 220.9,245.72 221.2,245.76 221.5,245.8 221.8,245.84 222.1,245.88 222.4,245.91 222.7,245.94 223,245.97 223.3,246 223.6,246.03 223.9,246.05 224.2,246.07 224.5,246.09 224.8,246.11 225.1,246.13 225.4,246.15 225.7,246.17 226,246.18 226.3,246.2 226.6,246.21 226.9,246.23 227.2,246.24 227.5,246.25 227.8,246.26 228.1,246.27 228.4,246.28 228.7,246.29 229,246.3 229.3,246.31" stroke="#3c3ce6" stroke-width="0.9" fill="none"/>
<polygon points="192.4,246.44 192.7,246.44 193,246.43 193.3,246.43 193.6,246.42 193.9,246.42 194.2,246.42 194.5,246.41 194.8,246.41 195.1,246.4 195.4,246.39 195.7,246.39 196,246.38 196.3,246.38 196.6,246.37 196.9,246.36 197.2,246.35 197.5,246.35 197.8,246.34 198.1,246.33 198.4,246.32 198.7,246.31 199,246.3 199.3,246.29 199.6,246.28 199.9,246.27 200.2,246.26 200.5,246.25 200.8,246.23 201.1,246.22 201.4,246.2 201.7,246.19 202,246.17 202.3,246.15 202.6,246.13 202.9,246.11 203.2,246.09 203.5,246.07 203.8,246.05 204.1,246.02 204.4,245.99 204.7,245.96 205,245.93 205.3,245.89 205.6,245.86 205.9,245.82 206.2,245.77 206.5,245.72 206.8,245.67 207.1,245.62 207.4,245.55 207.7,245.48 208,245.41 208.3,245.33 208.6,245.24 208.9,245.13 209.2,245.02 209.5,244.89 209.8,244.75 210.1,244.59 210.4,244.41 210.7,244.21 211,243.97 211.3,243.7 211.6,243.39 211.9,243.02 212.2,242.6 212.5,242.1 212.8,241.51 213.1,240.8 213.4,239.95 213.7,238.92 214,237.68 214.3,236.16 214.6,234.32 214.9,232.1 215.2,229.49 215.5,226.52 215.8,223.4 216.1,220.5 216.4,218.38 216.7,217.6 217,218.38 217.3,220.5 217.6,223.4 217.9,226.52 218.2,229.49 218.5,232.1 218.8,234.32 219.1,236.16 219.4,237.68 219.7,238.92 220,239.95 220.3,240.8 220.6,241.51 220.9,242.1 221.2,242.6 221.5,243.02 221.8,243.39 222.1,243.7 222.4,243.97 222.7,244.21 223,244.41 223.3,244.59 223.6,244.75 223.9,244.89 224.2,245.02 224.5,245.13 224.8,245.24 225.1,245.33 225.4,245.41 225.7,245.48 226,245.55 226.3,245.62 226.6,245.67 226.9,245.72 227.2,245.77 227.5,245.82 227.8,245.86 228.1,245.89 228.4,245.93 228.7,245.96 229,245.99 229.3,246.02 229.3,246.6 192.4,246.6" fill="rgba(170,170,250,0.1)"/>
<polyline points="192.4,246.44 192.7,246.44 193,246.43 193.3,246.43 193.6,246.42 193.9,246.42 194.2,246.42 194.5,246.41 194.8,246.41 195.1,246.4 195.4,246.39 195.7,246.39 196,246.38 196.3,246.38 196.6,246.37 196.9,246.36 197.2,246.35 197.5,246.35 197.8,246.34 198.1,246.33 198.4,246.32 198.7,246.31 199,246.3 199.3,246.29 199.6,246.28 199.9,246.27 200.2,246.26 200.5,246.25 200.8,246.23 201.1,246.22 201.4,246.2 201.7,246.19 202,246.17 202.3,246.15 202.6,246.13 202.9,246.11 203.2,246.09 203.5,246.07 203.8,246.05 204.1,246.02 204.4,245.99 204.7,245.96 205,245.93 205.3,245.89 205.6,245.86 205.9,245.82 206.2,245.77 206.5,245.72 206.8,245.67 207.1,245.62 207.4,245.55 207.7,245.48 208,245.41 208.3,245.33 208.6,245.24 208.9,245.13 209.2,245.02 209.5,244.89 209.8,244.75 210.1,244.59 210.4,244.41 210.7,244.21 211,243.97 211.3,243.7 211.6,243.39 211.9,243.02 212.2,242.6 212.5,242.1 212.8,241.51 213.1,240.8 213.4,239.95 213.7,238.92 214,237.68 214.3,236.16 214.6,234.32 214.9,232.1 215.2,229.49 215.5,226.52 215.8,223.4 216.1,220.5 216.4,218.38 216.7,217.6 217,218.38 217.3,220.5 217.6,223.4 217.9,226.52 218.2,229.49 218.5,232.1 218.8,234.32 219.1,236.16 219.4,237.68 219.7,238.92 220,239.95 220.3,240.8 220.6,241.51 220.9,242.1 221.2,242.6 221.5,243.02 221.8,243.39 222.1,243.7 222.4,243.97 222.7,244.21 223,244.41 223.3,244.59 223.6,244.75 223.9,244.89 224.2,245.02 224.5,245.13 224.8,245.24 225.1,245.33 225.4,245.41 225.7,245.48 226,245.55 226.3,245.62 226.6,245.67 226.9,245.72 227.2,245.77 227.5,245.82 227.8,245.86 228.1,245.89 228.4,245.93 228.7,245.96 229,245.99 229.3,246.02" stroke="#3c3ce6" stroke-width="0.9" fill="none"/>
<polygon points="192.4,246.37 192.7,246.36 193,246.35 193.3,246.34 193.6,246.33 193.9,246.31 194.2,246.3 194.5,246.29 194.8,246.28 195.1,246.26 195.4,246.24 195.7,246.23 196,246.21 196.3,246.19 196.6,246.17 196.9,246.15 197.2,246.12 197.5,246.1 197.8,246.07 198.1,246.04 198.4,246 198.7,245.96 199,245.92 199.3,245.88 199.6,245.83 199.9,245.78 200.2,245.72 200.5,245.65 200.8,245.58 201.1,245.49 201.4,245.4 201.7,245.3 202,245.18 202.3,245.04 202.6,244.89 202.9,244.72 203.2,244.52 203.5,244.29 203.8,244.02 204.1,243.7 204.4,243.34 204.7,242.91 205,242.4 205.3,241.81 205.6,241.12 205.9,240.32 206.2,239.41 206.5,238.41 206.8,237.35 207.1,236.32 207.4,235.43 207.7,234.82 208,234.6 208.3,234.82 208.6,235.43 208.9,236.32 209.2,237.35 209.5,238.41 209.8,239.41 210.1,240.32 210.4,241.12 210.7,241.81 211,242.4 211.3,242.91 211.6,243.34 211.9,243.7 212.2,244.02 212.5,244.29 212.8,244.52 213.1,244.72 213.4,244.89 213.7,245.04 214,245.18 214.3,245.3 214.6,245.4 214.9,245.49 215.2,245.58 215.5,245.65 215.8,245.72 216.1,245.78 216.4,245.83 216.7,245.88 217,245.92 217.3,245.96 217.6,246 217.9,246.04 218.2,246.07 218.5,246.1 218.8,246.12 219.1,246.15 219.4,246.17 219.7,246.19 220,246.21 220.3,246.23 220.6,246.24 220.9,246.26 221.2,246.28 221.5,246.29 221.8,246.3 222.1,246.31 222.4,246.33 222.7,246.34 223,246.35 223.3,246.36 223.6,246.37 223.9,246.37 224.2,246.38 224.5,246.39 224.8,246.4 225.1,246.4 225.4,246.41 225.7,246.42 226,246.42 226.3,246.43 226.6,246.43 226.9,246.44 227.2,246.44 227.5,246.45 227.8,246.45 228.1,246.46 228.4,246.46 228.7,246.47 229,246.47 229.3,246.47 229.3,246.6 192.4,246.6" fill="rgba(245,120,140,0.25)"/>
<polyline points="192.4,246.37 192.7,246.36 193,246.35 193.3,246.34 193.6,246.33 193.9,246.31 194.2,246.3 194.5,246.29 194.8,246.28 195.1,246.26 195.4,246.24 195.7,246.23 196,246.21 196.3,246.19 196.6,246.17 196.9,246.15 197.2,246.12 197.5,246.1 197.8,246.07 198.1,246.04 198.4,246 198.7,245.96 199,245.92 199.3,245.88 199.6,245.83 199.9,245.78 200.2,245.72 200.5,245.65 200.8,245.58 201.1,245.49 201.4,245.4 201.7,245.3 202,245.18 202.3,245.04 202.6,244.89 202.9,244.72 203.2,244.52 203.5,244.29 203.8,244.02 204.1,243.7 204.4,243.34 204.7,242.91 205,242.4 205.3,241.81 205.6,241.12 205.9,240.32 206.2,239.41 206.5,238.41 206.8,237.35 207.1,236.32 207.4,235.43 207.7,234.82 208,234.6 208.3,234.82 208.6,235.43 208.9,236.32 209.2,237.35 209.5,238.41 209.8,239.41 210.1,240.32 210.4,241.12 210.7,241.81 211,242.4 211.3,242.91 211.6,243.34 211.9,243.7 212.2,244.02 212.5,244.29 212.8,244.52 213.1,244.72 213.4,244.89 213.7,245.04 214,245.18 214.3,245.3 214.6,245.4 214.9,245.49 215.2,245.58 215.5,245.65 215.8,245.72 216.1,245.78 216.4,245.83 216.7,245.88 217,245.92 217.3,245.96 217.6,246 217.9,246.04 218.2,246.07 218.5,246.1 218.8,246.12 219.1,246.15 219.4,246.17 219.7,246.19 220,246.21 220.3,246.23 220.6,246.24 220.9,246.26 221.2,246.28 221.5,246.29 221.8,246.3 222.1,246.31 222.4,246.33 222.7,246.34 223,246.35 223.3,246.36 223.6,246.37 223.9,246.37 224.2,246.38 224.5,246.39 224.8,246.4 225.1,246.4 225.4,246.41 225.7,246.42 226,246.42 226.3,246.43 226.6,246.43 226.9,246.44 227.2,246.44 227.5,246.45 227.8,246.45 228.1,246.46 228.4,246.46 228.7,246.47 229,246.47 229.3,246.47" stroke="#e83848" stroke-width="0.8" fill="none"/>
<polygon points="192.4,246.49 192.7,246.49 193,246.48 193.3,246.48 193.6,246.48 193.9,246.47 194.2,246.47 194.5,246.46 194.8,246.46 195.1,246.46 195.4,246.45 195.7,246.45 196,246.44 196.3,246.43 196.6,246.43 196.9,246.42 197.2,246.42 197.5,246.41 197.8,246.4 198.1,246.39 198.4,246.38 198.7,246.38 199,246.37 199.3,246.36 199.6,246.35 199.9,246.33 200.2,246.32 200.5,246.31 200.8,246.3 201.1,246.28 201.4,246.26 201.7,246.25 202,246.23 202.3,246.21 202.6,246.19 202.9,246.16 203.2,246.14 203.5,246.11 203.8,246.08 204.1,246.05 204.4,246.01 204.7,245.97 205,245.93 205.3,245.88 205.6,245.82 205.9,245.76 206.2,245.69 206.5,245.62 206.8,245.53 207.1,245.44 207.4,245.32 207.7,245.2 208,245.05 208.3,244.89 208.6,244.69 208.9,244.47 209.2,244.2 209.5,243.89 209.8,243.52 210.1,243.07 210.4,242.55 210.7,241.92 211,241.17 211.3,240.29 211.6,239.28 211.9,238.16 212.2,237 212.5,235.91 212.8,235.06 213.1,234.63 213.4,234.72 213.7,235.31 214,236.26 214.3,237.39 214.6,238.55 214.9,239.63 215.2,240.6 215.5,241.43 215.8,242.14 216.1,242.73 216.4,243.23 216.7,243.65 217,244 217.3,244.29 217.6,244.55 217.9,244.76 218.2,244.94 218.5,245.1 218.8,245.24 219.1,245.36 219.4,245.47 219.7,245.56 220,245.64 220.3,245.72 220.6,245.78 220.9,245.84 221.2,245.89 221.5,245.94 221.8,245.98 222.1,246.02 222.4,246.06 222.7,246.09 223,246.12 223.3,246.15 223.6,246.17 223.9,246.19 224.2,246.22 224.5,246.24 224.8,246.25 225.1,246.27 225.4,246.29 225.7,246.3 226,246.31 226.3,246.33 226.6,246.34 226.9,246.35 227.2,246.36 227.5,246.37 227.8,246.38 228.1,246.39 228.4,246.4 228.7,246.4 229,246.41 229.3,246.42 229.3,246.6 192.4,246.6" fill="rgba(245,120,140,0.25)"/>
<polyline points="192.4,246.49 192.7,246.49 193,246.48 193.3,246.48 193.6,246.48 193.9,246.47 194.2,246.47 194.5,246.46 194.8,246.46 195.1,246.46 195.4,246.45 195.7,246.45 196,246.44 196.3,246.43 196.6,246.43 196.9,246.42 197.2,246.42 197.5,246.41 197.8,246.4 198.1,246.39 198.4,246.38 198.7,246.38 199,246.37 199.3,246.36 199.6,246.35 199.9,246.33 200.2,246.32 200.5,246.31 200.8,246.3 201.1,246.28 201.4,246.26 201.7,246.25 202,246.23 202.3,246.21 202.6,246.19 202.9,246.16 203.2,246.14 203.5,246.11 203.8,246.08 204.1,246.05 204.4,246.01 204.7,245.97 205,245.93 205.3,245.88 205.6,245.82 205.9,245.76 206.2,245.69 206.5,245.62 206.8,245.53 207.1,245.44 207.4,245.32 207.7,245.2 208,245.05 208.3,244.89 208.6,244.69 208.9,244.47 209.2,244.2 209.5,243.89 209.8,243.52 210.1,243.07 210.4,242.55 210.7,241.92 211,241.17 211.3,240.29 211.6,239.28 211.9,238.16 212.2,237 212.5,235.91 212.8,235.06 213.1,234.63 213.4,234.72 213.7,235.31 214,236.26 214.3,237.39 214.6,238.55 214.9,239.63 215.2,240.6 215.5,241.43 215.8,242.14 216.1,242.73 216.4,243.23 216.7,243.65 217,244 217.3,244.29 217.6,244.55 217.9,244.76 218.2,244.94 218.5,245.1 218.8,245.24 219.1,245.36 219.4,245.47 219.7,245.56 220,245.64 220.3,245.72 220.6,245.78 220.9,245.84 221.2,245.89 221.5,245.94 221.8,245.98 222.1,246.02 222.4,246.06 222.7,246.09 223,246.12 223.3,246.15 223.6,246.17 223.9,246.19 224.2,246.22 224.5,246.24 224.8,246.25 225.1,246.27 225.4,246.29 225.7,246.3 226,246.31 226.3,246.33 226.6,246.34 226.9,246.35 227.2,246.36 227.5,246.37 227.8,246.38 228.1,246.39 228.4,246.4 228.7,246.4 229,246.41 229.3,246.42" stroke="#e83848" stroke-width="0.8" fill="none"/>
<path d="M192.5,246.4 C193.25,246.23 195.42,245.95 197,245.4 C198.58,244.85 200.43,245.4 202,243.1 C203.57,240.8 205.32,235.7 206.4,231.6 C207.48,227.5 207.87,221.8 208.5,218.5 C209.13,215.2 209.65,212.7 210.2,211.8 C210.75,210.9 211.25,212.32 211.8,213.1 C212.35,213.88 212.95,215.5 213.5,216.5 C214.05,217.5 214.57,219.17 215.1,219.1 C215.63,219.03 216.15,215.47 216.7,216.1 C217.25,216.73 217.85,219.77 218.4,222.9 C218.95,226.03 219.28,231.53 220,234.9 C220.72,238.27 221.7,241.32 222.7,243.1 C223.7,244.88 224.9,245.05 226,245.6 C227.1,246.15 228.75,246.27 229.3,246.4" stroke="#2a2a2a" stroke-width="1.15" fill="none"/>
<line x1="192.4" y1="246.9" x2="229.3" y2="246.9" stroke="#5050c8" stroke-width="1.3"/>
<polygon points="192.4,297.88 192.7,297.85 193,297.81 193.3,297.77 193.6,297.74 193.9,297.69 194.2,297.65 194.5,297.6 194.8,297.55 195.1,297.49 195.4,297.43 195.7,297.37 196,297.29 196.3,297.22 196.6,297.13 196.9,297.04 197.2,296.94 197.5,296.83 197.8,296.7 198.1,296.57 198.4,296.42 198.7,296.25 199,296.07 199.3,295.86 199.6,295.63 199.9,295.36 200.2,295.07 200.5,294.73 200.8,294.35 201.1,293.91 201.4,293.4 201.7,292.82 202,292.14 202.3,291.35 202.6,290.44 202.9,289.37 203.2,288.12 203.5,286.68 203.8,285.02 204.1,283.15 204.4,281.08 204.7,278.9 205,276.73 205.3,274.8 205.6,273.36 205.9,272.65 206.2,272.8 206.5,273.77 206.8,275.41 207.1,277.44 207.4,279.63 207.7,281.79 208,283.79 208.3,285.6 208.6,287.19 208.9,288.56 209.2,289.74 209.5,290.76 209.8,291.63 210.1,292.38 210.4,293.02 210.7,293.58 211,294.06 211.3,294.48 211.6,294.85 211.9,295.17 212.2,295.45 212.5,295.71 212.8,295.93 213.1,296.13 213.4,296.31 213.7,296.47 214,296.62 214.3,296.75 214.6,296.86 214.9,296.97 215.2,297.07 215.5,297.16 215.8,297.24 216.1,297.32 216.4,297.39 216.7,297.45 217,297.51 217.3,297.57 217.6,297.62 217.9,297.66 218.2,297.71 218.5,297.75 218.8,297.79 219.1,297.82 219.4,297.86 219.7,297.89 220,297.92 220.3,297.94 220.6,297.97 220.9,297.99 221.2,298.02 221.5,298.04 221.8,298.06 222.1,298.08 222.4,298.1 222.7,298.12 223,298.13 223.3,298.15 223.6,298.16 223.9,298.18 224.2,298.19 224.5,298.2 224.8,298.22 225.1,298.23 225.4,298.24 225.7,298.25 226,298.26 226.3,298.27 226.6,298.28 226.9,298.29 227.2,298.3 227.5,298.31 227.8,298.31 228.1,298.32 228.4,298.33 228.7,298.34 229,298.34 229.3,298.35 229.3,298.6 192.4,298.6" fill="rgba(170,170,250,0.12)"/>
<polyline points="192.4,297.88 192.7,297.85 193,297.81 193.3,297.77 193.6,297.74 193.9,297.69 194.2,297.65 194.5,297.6 194.8,297.55 195.1,297.49 195.4,297.43 195.7,297.37 196,297.29 196.3,297.22 196.6,297.13 196.9,297.04 197.2,296.94 197.5,296.83 197.8,296.7 198.1,296.57 198.4,296.42 198.7,296.25 199,296.07 199.3,295.86 199.6,295.63 199.9,295.36 200.2,295.07 200.5,294.73 200.8,294.35 201.1,293.91 201.4,293.4 201.7,292.82 202,292.14 202.3,291.35 202.6,290.44 202.9,289.37 203.2,288.12 203.5,286.68 203.8,285.02 204.1,283.15 204.4,281.08 204.7,278.9 205,276.73 205.3,274.8 205.6,273.36 205.9,272.65 206.2,272.8 206.5,273.77 206.8,275.41 207.1,277.44 207.4,279.63 207.7,281.79 208,283.79 208.3,285.6 208.6,287.19 208.9,288.56 209.2,289.74 209.5,290.76 209.8,291.63 210.1,292.38 210.4,293.02 210.7,293.58 211,294.06 211.3,294.48 211.6,294.85 211.9,295.17 212.2,295.45 212.5,295.71 212.8,295.93 213.1,296.13 213.4,296.31 213.7,296.47 214,296.62 214.3,296.75 214.6,296.86 214.9,296.97 215.2,297.07 215.5,297.16 215.8,297.24 216.1,297.32 216.4,297.39 216.7,297.45 217,297.51 217.3,297.57 217.6,297.62 217.9,297.66 218.2,297.71 218.5,297.75 218.8,297.79 219.1,297.82 219.4,297.86 219.7,297.89 220,297.92 220.3,297.94 220.6,297.97 220.9,297.99 221.2,298.02 221.5,298.04 221.8,298.06 222.1,298.08 222.4,298.1 222.7,298.12 223,298.13 223.3,298.15 223.6,298.16 223.9,298.18 224.2,298.19 224.5,298.2 224.8,298.22 225.1,298.23 225.4,298.24 225.7,298.25 226,298.26 226.3,298.27 226.6,298.28 226.9,298.29 227.2,298.3 227.5,298.31 227.8,298.31 228.1,298.32 228.4,298.33 228.7,298.34 229,298.34 229.3,298.35" stroke="#3c3ce6" stroke-width="0.9" fill="none"/>
<polygon points="192.4,298.41 192.7,298.4 193,298.4 193.3,298.39 193.6,298.39 193.9,298.38 194.2,298.38 194.5,298.37 194.8,298.36 195.1,298.36 195.4,298.35 195.7,298.35 196,298.34 196.3,298.33 196.6,298.32 196.9,298.32 197.2,298.31 197.5,298.3 197.8,298.29 198.1,298.28 198.4,298.27 198.7,298.26 199,298.25 199.3,298.24 199.6,298.23 199.9,298.22 200.2,298.2 200.5,298.19 200.8,298.18 201.1,298.16 201.4,298.15 201.7,298.13 202,298.11 202.3,298.09 202.6,298.07 202.9,298.05 203.2,298.03 203.5,298.01 203.8,297.98 204.1,297.96 204.4,297.93 204.7,297.9 205,297.87 205.3,297.84 205.6,297.8 205.9,297.76 206.2,297.72 206.5,297.68 206.8,297.63 207.1,297.58 207.4,297.52 207.7,297.46 208,297.39 208.3,297.32 208.6,297.24 208.9,297.16 209.2,297.06 209.5,296.96 209.8,296.85 210.1,296.72 210.4,296.58 210.7,296.43 211,296.26 211.3,296.06 211.6,295.84 211.9,295.6 212.2,295.32 212.5,295 212.8,294.63 213.1,294.21 213.4,293.72 213.7,293.15 214,292.48 214.3,291.69 214.6,290.76 214.9,289.64 215.2,288.29 215.5,286.68 215.8,284.73 216.1,282.4 216.4,279.63 216.7,276.42 217,272.87 217.3,269.2 217.6,265.86 217.9,263.48 218.2,262.6 218.5,263.48 218.8,265.86 219.1,269.2 219.4,272.87 219.7,276.42 220,279.63 220.3,282.4 220.6,284.73 220.9,286.68 221.2,288.29 221.5,289.64 221.8,290.76 222.1,291.69 222.4,292.48 222.7,293.15 223,293.72 223.3,294.21 223.6,294.63 223.9,295 224.2,295.32 224.5,295.6 224.8,295.84 225.1,296.06 225.4,296.26 225.7,296.43 226,296.58 226.3,296.72 226.6,296.85 226.9,296.96 227.2,297.06 227.5,297.16 227.8,297.24 228.1,297.32 228.4,297.39 228.7,297.46 229,297.52 229.3,297.58 229.3,298.6 192.4,298.6" fill="rgba(70,70,190,0.3)"/>
<polyline points="192.4,298.41 192.7,298.4 193,298.4 193.3,298.39 193.6,298.39 193.9,298.38 194.2,298.38 194.5,298.37 194.8,298.36 195.1,298.36 195.4,298.35 195.7,298.35 196,298.34 196.3,298.33 196.6,298.32 196.9,298.32 197.2,298.31 197.5,298.3 197.8,298.29 198.1,298.28 198.4,298.27 198.7,298.26 199,298.25 199.3,298.24 199.6,298.23 199.9,298.22 200.2,298.2 200.5,298.19 200.8,298.18 201.1,298.16 201.4,298.15 201.7,298.13 202,298.11 202.3,298.09 202.6,298.07 202.9,298.05 203.2,298.03 203.5,298.01 203.8,297.98 204.1,297.96 204.4,297.93 204.7,297.9 205,297.87 205.3,297.84 205.6,297.8 205.9,297.76 206.2,297.72 206.5,297.68 206.8,297.63 207.1,297.58 207.4,297.52 207.7,297.46 208,297.39 208.3,297.32 208.6,297.24 208.9,297.16 209.2,297.06 209.5,296.96 209.8,296.85 210.1,296.72 210.4,296.58 210.7,296.43 211,296.26 211.3,296.06 211.6,295.84 211.9,295.6 212.2,295.32 212.5,295 212.8,294.63 213.1,294.21 213.4,293.72 213.7,293.15 214,292.48 214.3,291.69 214.6,290.76 214.9,289.64 215.2,288.29 215.5,286.68 215.8,284.73 216.1,282.4 216.4,279.63 216.7,276.42 217,272.87 217.3,269.2 217.6,265.86 217.9,263.48 218.2,262.6 218.5,263.48 218.8,265.86 219.1,269.2 219.4,272.87 219.7,276.42 220,279.63 220.3,282.4 220.6,284.73 220.9,286.68 221.2,288.29 221.5,289.64 221.8,290.76 222.1,291.69 222.4,292.48 222.7,293.15 223,293.72 223.3,294.21 223.6,294.63 223.9,295 224.2,295.32 224.5,295.6 224.8,295.84 225.1,296.06 225.4,296.26 225.7,296.43 226,296.58 226.3,296.72 226.6,296.85 226.9,296.96 227.2,297.06 227.5,297.16 227.8,297.24 228.1,297.32 228.4,297.39 228.7,297.46 229,297.52 229.3,297.58" stroke="#1c1c78" stroke-width="1.1" fill="none"/>
<polygon points="192.4,298.06 192.7,298.03 193,298 193.3,297.97 193.6,297.93 193.9,297.89 194.2,297.85 194.5,297.8 194.8,297.75 195.1,297.69 195.4,297.63 195.7,297.56 196,297.48 196.3,297.39 196.6,297.3 196.9,297.19 197.2,297.07 197.5,296.93 197.8,296.78 198.1,296.6 198.4,296.4 198.7,296.16 199,295.89 199.3,295.57 199.6,295.2 199.9,294.76 200.2,294.24 200.5,293.62 200.8,292.87 201.1,291.98 201.4,290.89 201.7,289.6 202,288.06 202.3,286.28 202.6,284.3 202.9,282.27 203.2,280.41 203.5,279.09 203.8,278.6 204.1,279.09 204.4,280.41 204.7,282.27 205,284.3 205.3,286.28 205.6,288.06 205.9,289.6 206.2,290.89 206.5,291.98 206.8,292.87 207.1,293.62 207.4,294.24 207.7,294.76 208,295.2 208.3,295.57 208.6,295.89 208.9,296.16 209.2,296.4 209.5,296.6 209.8,296.78 210.1,296.93 210.4,297.07 210.7,297.19 211,297.3 211.3,297.39 211.6,297.48 211.9,297.56 212.2,297.63 212.5,297.69 212.8,297.75 213.1,297.8 213.4,297.85 213.7,297.89 214,297.93 214.3,297.97 214.6,298 214.9,298.03 215.2,298.06 215.5,298.09 215.8,298.11 216.1,298.13 216.4,298.16 216.7,298.18 217,298.19 217.3,298.21 217.6,298.23 217.9,298.24 218.2,298.26 218.5,298.27 218.8,298.28 219.1,298.3 219.4,298.31 219.7,298.32 220,298.33 220.3,298.34 220.6,298.35 220.9,298.36 221.2,298.36 221.5,298.37 221.8,298.38 222.1,298.39 222.4,298.39 222.7,298.4 223,298.41 223.3,298.41 223.6,298.42 223.9,298.42 224.2,298.43 224.5,298.43 224.8,298.44 225.1,298.44 225.4,298.45 225.7,298.45 226,298.45 226.3,298.46 226.6,298.46 226.9,298.47 227.2,298.47 227.5,298.47 227.8,298.48 228.1,298.48 228.4,298.48 228.7,298.48 229,298.49 229.3,298.49 229.3,298.6 192.4,298.6" fill="rgba(245,120,140,0.3)"/>
<polyline points="192.4,298.06 192.7,298.03 193,298 193.3,297.97 193.6,297.93 193.9,297.89 194.2,297.85 194.5,297.8 194.8,297.75 195.1,297.69 195.4,297.63 195.7,297.56 196,297.48 196.3,297.39 196.6,297.3 196.9,297.19 197.2,297.07 197.5,296.93 197.8,296.78 198.1,296.6 198.4,296.4 198.7,296.16 199,295.89 199.3,295.57 199.6,295.2 199.9,294.76 200.2,294.24 200.5,293.62 200.8,292.87 201.1,291.98 201.4,290.89 201.7,289.6 202,288.06 202.3,286.28 202.6,284.3 202.9,282.27 203.2,280.41 203.5,279.09 203.8,278.6 204.1,279.09 204.4,280.41 204.7,282.27 205,284.3 205.3,286.28 205.6,288.06 205.9,289.6 206.2,290.89 206.5,291.98 206.8,292.87 207.1,293.62 207.4,294.24 207.7,294.76 208,295.2 208.3,295.57 208.6,295.89 208.9,296.16 209.2,296.4 209.5,296.6 209.8,296.78 210.1,296.93 210.4,297.07 210.7,297.19 211,297.3 211.3,297.39 211.6,297.48 211.9,297.56 212.2,297.63 212.5,297.69 212.8,297.75 213.1,297.8 213.4,297.85 213.7,297.89 214,297.93 214.3,297.97 214.6,298 214.9,298.03 215.2,298.06 215.5,298.09 215.8,298.11 216.1,298.13 216.4,298.16 216.7,298.18 217,298.19 217.3,298.21 217.6,298.23 217.9,298.24 218.2,298.26 218.5,298.27 218.8,298.28 219.1,298.3 219.4,298.31 219.7,298.32 220,298.33 220.3,298.34 220.6,298.35 220.9,298.36 221.2,298.36 221.5,298.37 221.8,298.38 222.1,298.39 222.4,298.39 222.7,298.4 223,298.41 223.3,298.41 223.6,298.42 223.9,298.42 224.2,298.43 224.5,298.43 224.8,298.44 225.1,298.44 225.4,298.45 225.7,298.45 226,298.45 226.3,298.46 226.6,298.46 226.9,298.47 227.2,298.47 227.5,298.47 227.8,298.48 228.1,298.48 228.4,298.48 228.7,298.48 229,298.49 229.3,298.49" stroke="#e83848" stroke-width="0.8" fill="none"/>
<polygon points="192.4,298.45 192.7,298.44 193,298.44 193.3,298.43 193.6,298.43 193.9,298.42 194.2,298.42 194.5,298.41 194.8,298.4 195.1,298.4 195.4,298.39 195.7,298.38 196,298.38 196.3,298.37 196.6,298.36 196.9,298.35 197.2,298.34 197.5,298.33 197.8,298.32 198.1,298.31 198.4,298.3 198.7,298.29 199,298.28 199.3,298.26 199.6,298.25 199.9,298.23 200.2,298.22 200.5,298.2 200.8,298.18 201.1,298.16 201.4,298.14 201.7,298.11 202,298.09 202.3,298.06 202.6,298.03 202.9,298 203.2,297.97 203.5,297.93 203.8,297.89 204.1,297.85 204.4,297.8 204.7,297.74 205,297.69 205.3,297.62 205.6,297.55 205.9,297.47 206.2,297.39 206.5,297.29 206.8,297.18 207.1,297.06 207.4,296.93 207.7,296.77 208,296.6 208.3,296.4 208.6,296.18 208.9,295.92 209.2,295.63 209.5,295.29 209.8,294.91 210.1,294.47 210.4,293.97 210.7,293.4 211,292.77 211.3,292.08 211.6,291.35 211.9,290.6 212.2,289.89 212.5,289.28 212.8,288.83 213.1,288.61 213.4,288.66 213.7,288.96 214,289.46 214.3,290.12 214.6,290.85 214.9,291.59 215.2,292.32 215.5,292.99 215.8,293.6 216.1,294.14 216.4,294.62 216.7,295.04 217,295.41 217.3,295.73 217.6,296.01 217.9,296.26 218.2,296.47 218.5,296.66 218.8,296.83 219.1,296.97 219.4,297.1 219.7,297.22 220,297.32 220.3,297.42 220.6,297.5 220.9,297.58 221.2,297.64 221.5,297.71 221.8,297.76 222.1,297.81 222.4,297.86 222.7,297.9 223,297.94 223.3,297.98 223.6,298.01 223.9,298.04 224.2,298.07 224.5,298.1 224.8,298.12 225.1,298.14 225.4,298.17 225.7,298.19 226,298.2 226.3,298.22 226.6,298.24 226.9,298.25 227.2,298.27 227.5,298.28 227.8,298.29 228.1,298.3 228.4,298.32 228.7,298.33 229,298.34 229.3,298.35 229.3,298.6 192.4,298.6" fill="rgba(245,120,140,0.25)"/>
<polyline points="192.4,298.45 192.7,298.44 193,298.44 193.3,298.43 193.6,298.43 193.9,298.42 194.2,298.42 194.5,298.41 194.8,298.4 195.1,298.4 195.4,298.39 195.7,298.38 196,298.38 196.3,298.37 196.6,298.36 196.9,298.35 197.2,298.34 197.5,298.33 197.8,298.32 198.1,298.31 198.4,298.3 198.7,298.29 199,298.28 199.3,298.26 199.6,298.25 199.9,298.23 200.2,298.22 200.5,298.2 200.8,298.18 201.1,298.16 201.4,298.14 201.7,298.11 202,298.09 202.3,298.06 202.6,298.03 202.9,298 203.2,297.97 203.5,297.93 203.8,297.89 204.1,297.85 204.4,297.8 204.7,297.74 205,297.69 205.3,297.62 205.6,297.55 205.9,297.47 206.2,297.39 206.5,297.29 206.8,297.18 207.1,297.06 207.4,296.93 207.7,296.77 208,296.6 208.3,296.4 208.6,296.18 208.9,295.92 209.2,295.63 209.5,295.29 209.8,294.91 210.1,294.47 210.4,293.97 210.7,293.4 211,292.77 211.3,292.08 211.6,291.35 211.9,290.6 212.2,289.89 212.5,289.28 212.8,288.83 213.1,288.61 213.4,288.66 213.7,288.96 214,289.46 214.3,290.12 214.6,290.85 214.9,291.59 215.2,292.32 215.5,292.99 215.8,293.6 216.1,294.14 216.4,294.62 216.7,295.04 217,295.41 217.3,295.73 217.6,296.01 217.9,296.26 218.2,296.47 218.5,296.66 218.8,296.83 219.1,296.97 219.4,297.1 219.7,297.22 220,297.32 220.3,297.42 220.6,297.5 220.9,297.58 221.2,297.64 221.5,297.71 221.8,297.76 222.1,297.81 222.4,297.86 222.7,297.9 223,297.94 223.3,297.98 223.6,298.01 223.9,298.04 224.2,298.07 224.5,298.1 224.8,298.12 225.1,298.14 225.4,298.17 225.7,298.19 226,298.2 226.3,298.22 226.6,298.24 226.9,298.25 227.2,298.27 227.5,298.28 227.8,298.29 228.1,298.3 228.4,298.32 228.7,298.33 229,298.34 229.3,298.35" stroke="#e83848" stroke-width="0.8" fill="none"/>
<path d="M192.5,298.4 C193.35,297.6 196.2,295.67 197.6,293.6 C199,291.53 199.98,289.27 200.9,286 C201.82,282.73 202.47,277.45 203.1,274 C203.73,270.55 204.15,266.67 204.7,265.3 C205.25,263.93 205.85,264.35 206.4,265.8 C206.95,267.25 207.37,271.63 208,274 C208.63,276.37 209.47,278.82 210.2,280 C210.93,281.18 211.68,281.37 212.4,281.1 C213.12,280.83 213.87,280.13 214.5,278.4 C215.13,276.67 215.65,273.62 216.2,270.7 C216.75,267.78 217.35,262.43 217.8,260.9 C218.25,259.37 218.45,258.77 218.9,261.5 C219.35,264.23 219.87,272.48 220.5,277.3 C221.13,282.12 221.6,287.05 222.7,290.4 C223.8,293.75 226,296.07 227.1,297.4 C228.2,298.73 228.93,298.23 229.3,298.4" stroke="#222" stroke-width="1.15" fill="none"/>
<line x1="192.4" y1="298.9" x2="229.3" y2="298.9" stroke="#7a2a5a" stroke-width="1.2"/>
<polyline points="209.7,74 209.7,248 205.8,257 205.8,280" stroke="rgba(110,110,235,0.6)" stroke-width="0.7" fill="none"/>
<polyline points="216.1,66 216.1,248 217.8,260" stroke="rgba(110,110,235,0.6)" stroke-width="0.7" fill="none"/>
<line x1="211.8" y1="74" x2="211.8" y2="157" stroke="rgba(120,190,120,0.7)" stroke-width="0.6"/>
<line x1="213.4" y1="80" x2="213.4" y2="157" stroke="rgba(120,190,120,0.6)" stroke-width="0.6"/>
<polyline points="208,160 208,248 203.8,256 203.8,285" stroke="rgba(240,120,130,0.6)" stroke-width="0.6" fill="none"/>
<line x1="213.4" y1="160" x2="213.4" y2="298" stroke="rgba(240,120,130,0.6)" stroke-width="0.6"/>
<text x="189.2" y="56.6" font-size="6" fill="#3a9a3a" font-weight="bold" stroke="#3a9a3a" stroke-width="0.22">(002)<tspan font-size="3.6" dy="1.6">R</tspan></text>
<text x="209.1" y="56.1" font-size="7.6" fill="#3a3ad8" font-weight="normal" stroke="#3a3ad8" stroke-width="0.22">(200)<tspan font-size="4.56" dy="1.6">T</tspan></text>
<text x="185.8" y="70" font-size="7.6" fill="#3a3ad8" font-weight="normal" stroke="#3a3ad8" stroke-width="0.22">(002)<tspan font-size="4.56" dy="1.6">T</tspan></text>
<path d="M205,58 L210.8,61.5 L210.8,74" stroke="#8ab88a" stroke-width="0.6" fill="none"/>
<path d="M217.6,57 L214.7,61.4 L214.9,66" stroke="#5a5ad0" stroke-width="0.6" fill="none"/>
<line x1="204.1" y1="70.6" x2="209.9" y2="74.4" stroke="#5a5ad0" stroke-width="0.6"/>
<text x="175.9" y="266.2" font-size="7.6" fill="#3a3ad8" font-weight="normal" stroke="#3a3ad8" stroke-width="0.22">(002)<tspan font-size="4.56" dy="1.6">T</tspan></text>
<text x="221.8" y="258.7" font-size="7.6" fill="#3a3ad8" font-weight="normal" stroke="#3a3ad8" stroke-width="0.22">(200)<tspan font-size="4.56" dy="1.6">T</tspan></text>
<text x="158.6" y="281" font-size="7" fill="#e84050" stroke="#e84050" stroke-width="0.22">(200)<tspan font-size="4.2" dy="1.5">O</tspan><tspan dy="-1.5">/(002)</tspan><tspan font-size="4.2" dy="1.5">O</tspan></text>
<text x="222.8" y="283.4" font-size="7" fill="#e84050" font-weight="normal" stroke="#e84050" stroke-width="0.22">(020)<tspan font-size="4.2" dy="1.6">O</tspan></text>
<line x1="195" y1="267.5" x2="205" y2="273" stroke="#5a5ad0" stroke-width="0.6"/>
<line x1="222" y1="259.5" x2="218.5" y2="263" stroke="#5a5ad0" stroke-width="0.6"/>
<line x1="197" y1="282" x2="203.5" y2="286" stroke="#e87080" stroke-width="0.6"/>
<path d="M243.4,58.7 q2.6,0 2.6,3 L246,104.8 q0,3 2.8,3.2 q-2.8,0.2 -2.8,3.2 L246,154 q0,3 -2.6,3" stroke="#555" stroke-width="1.1" fill="none"/>
<path d="M244.1,162 q2.6,0 2.6,3 L246.7,232 q0,3 2.8,3.2 q-2.8,0.2 -2.8,3.2 L246.7,307 q0,3 -2.6,3" stroke="#555" stroke-width="1.1" fill="none"/>
<text transform="translate(266.9,124.4) rotate(-90)" font-size="15.6" fill="#2a8a2a" stroke="#2a8a2a" stroke-width="0.35">R</text>
<line x1="261.2" y1="104.4" x2="261.2" y2="109.6" stroke="#111" stroke-width="1.6"/>
<text transform="translate(267.8,104.3) rotate(-90)" font-size="19.4" fill="#2020c8" stroke="#2020c8" stroke-width="0.5">T</text>
<text transform="translate(267.6,250.8) rotate(-90)" font-size="15.2" fill="#d82030" stroke="#d82030" stroke-width="0.35">O</text>
<line x1="262.6" y1="231.4" x2="262.6" y2="236.4" stroke="#111" stroke-width="1.6"/>
<text transform="translate(269,231.4) rotate(-90)" font-size="19.4" fill="#2020c8" stroke="#2020c8" stroke-width="0.5">T</text>
<text x="282.2" y="17.2" font-size="22.4" fill="#111" text-anchor="start" font-weight="normal" font-style="normal" textLength="25" lengthAdjust="spacingAndGlyphs" stroke="#111" stroke-width="0.22">(b)</text>
<line x1="343.8" y1="45.2" x2="509" y2="45.2" stroke="#333" stroke-width="0.9"/>
<line x1="343.8" y1="45" x2="343.8" y2="112.7" stroke="#333" stroke-width="0.9"/>
<line x1="508.9" y1="45" x2="508.9" y2="114.6" stroke="#333" stroke-width="0.9"/>
<line x1="344" y1="45.2" x2="344" y2="42.8" stroke="#333" stroke-width="0.6"/>
<line x1="347.29" y1="45.2" x2="347.29" y2="44" stroke="#333" stroke-width="0.6"/>
<line x1="350.58" y1="45.2" x2="350.58" y2="44" stroke="#333" stroke-width="0.6"/>
<line x1="353.87" y1="45.2" x2="353.87" y2="44" stroke="#333" stroke-width="0.6"/>
<line x1="357.16" y1="45.2" x2="357.16" y2="44" stroke="#333" stroke-width="0.6"/>
<line x1="360.45" y1="45.2" x2="360.45" y2="43.4" stroke="#333" stroke-width="0.6"/>
<line x1="363.74" y1="45.2" x2="363.74" y2="44" stroke="#333" stroke-width="0.6"/>
<line x1="367.03" y1="45.2" x2="367.03" y2="44" stroke="#333" stroke-width="0.6"/>
<line x1="370.32" y1="45.2" x2="370.32" y2="44" stroke="#333" stroke-width="0.6"/>
<line x1="373.61" y1="45.2" x2="373.61" y2="44" stroke="#333" stroke-width="0.6"/>
<line x1="376.9" y1="45.2" x2="376.9" y2="42.8" stroke="#333" stroke-width="0.6"/>
<line x1="380.19" y1="45.2" x2="380.19" y2="44" stroke="#333" stroke-width="0.6"/>
<line x1="383.48" y1="45.2" x2="383.48" y2="44" stroke="#333" stroke-width="0.6"/>
<line x1="386.77" y1="45.2" x2="386.77" y2="44" stroke="#333" stroke-width="0.6"/>
<line x1="390.06" y1="45.2" x2="390.06" y2="44" stroke="#333" stroke-width="0.6"/>
<line x1="393.35" y1="45.2" x2="393.35" y2="43.4" stroke="#333" stroke-width="0.6"/>
<line x1="396.64" y1="45.2" x2="396.64" y2="44" stroke="#333" stroke-width="0.6"/>
<line x1="399.93" y1="45.2" x2="399.93" y2="44" stroke="#333" stroke-width="0.6"/>
<line x1="403.22" y1="45.2" x2="403.22" y2="44" stroke="#333" stroke-width="0.6"/>
<line x1="406.51" y1="45.2" x2="406.51" y2="44" stroke="#333" stroke-width="0.6"/>
<line x1="409.8" y1="45.2" x2="409.8" y2="42.8" stroke="#333" stroke-width="0.6"/>
<line x1="413.09" y1="45.2" x2="413.09" y2="44" stroke="#333" stroke-width="0.6"/>
<line x1="416.38" y1="45.2" x2="416.38" y2="44" stroke="#333" stroke-width="0.6"/>
<line x1="419.67" y1="45.2" x2="419.67" y2="44" stroke="#333" stroke-width="0.6"/>
<line x1="422.96" y1="45.2" x2="422.96" y2="44" stroke="#333" stroke-width="0.6"/>
<line x1="426.25" y1="45.2" x2="426.25" y2="43.4" stroke="#333" stroke-width="0.6"/>
<line x1="429.54" y1="45.2" x2="429.54" y2="44" stroke="#333" stroke-width="0.6"/>
<line x1="432.83" y1="45.2" x2="432.83" y2="44" stroke="#333" stroke-width="0.6"/>
<line x1="436.12" y1="45.2" x2="436.12" y2="44" stroke="#333" stroke-width="0.6"/>
<line x1="439.41" y1="45.2" x2="439.41" y2="44" stroke="#333" stroke-width="0.6"/>
<line x1="442.7" y1="45.2" x2="442.7" y2="42.8" stroke="#333" stroke-width="0.6"/>
<line x1="445.99" y1="45.2" x2="445.99" y2="44" stroke="#333" stroke-width="0.6"/>
<line x1="449.28" y1="45.2" x2="449.28" y2="44" stroke="#333" stroke-width="0.6"/>
<line x1="452.57" y1="45.2" x2="452.57" y2="44" stroke="#333" stroke-width="0.6"/>
<line x1="455.86" y1="45.2" x2="455.86" y2="44" stroke="#333" stroke-width="0.6"/>
<line x1="459.15" y1="45.2" x2="459.15" y2="43.4" stroke="#333" stroke-width="0.6"/>
<line x1="462.44" y1="45.2" x2="462.44" y2="44" stroke="#333" stroke-width="0.6"/>
<line x1="465.73" y1="45.2" x2="465.73" y2="44" stroke="#333" stroke-width="0.6"/>
<line x1="469.02" y1="45.2" x2="469.02" y2="44" stroke="#333" stroke-width="0.6"/>
<line x1="472.31" y1="45.2" x2="472.31" y2="44" stroke="#333" stroke-width="0.6"/>
<line x1="475.6" y1="45.2" x2="475.6" y2="42.8" stroke="#333" stroke-width="0.6"/>
<line x1="478.89" y1="45.2" x2="478.89" y2="44" stroke="#333" stroke-width="0.6"/>
<line x1="482.18" y1="45.2" x2="482.18" y2="44" stroke="#333" stroke-width="0.6"/>
<line x1="485.47" y1="45.2" x2="485.47" y2="44" stroke="#333" stroke-width="0.6"/>
<line x1="488.76" y1="45.2" x2="488.76" y2="44" stroke="#333" stroke-width="0.6"/>
<line x1="492.05" y1="45.2" x2="492.05" y2="43.4" stroke="#333" stroke-width="0.6"/>
<line x1="495.34" y1="45.2" x2="495.34" y2="44" stroke="#333" stroke-width="0.6"/>
<line x1="498.63" y1="45.2" x2="498.63" y2="44" stroke="#333" stroke-width="0.6"/>
<line x1="501.92" y1="45.2" x2="501.92" y2="44" stroke="#333" stroke-width="0.6"/>
<line x1="505.21" y1="45.2" x2="505.21" y2="44" stroke="#333" stroke-width="0.6"/>
<line x1="508.5" y1="45.2" x2="508.5" y2="42.8" stroke="#333" stroke-width="0.6"/>
<line x1="343.8" y1="112.9" x2="341.4" y2="112.9" stroke="#333" stroke-width="0.6"/>
<line x1="508.9" y1="112.9" x2="506.5" y2="112.9" stroke="#333" stroke-width="0.6"/>
<line x1="343.8" y1="109.88" x2="342.6" y2="109.88" stroke="#333" stroke-width="0.6"/>
<line x1="508.9" y1="109.88" x2="507.7" y2="109.88" stroke="#333" stroke-width="0.6"/>
<line x1="343.8" y1="106.87" x2="342.6" y2="106.87" stroke="#333" stroke-width="0.6"/>
<line x1="508.9" y1="106.87" x2="507.7" y2="106.87" stroke="#333" stroke-width="0.6"/>
<line x1="343.8" y1="103.85" x2="342.6" y2="103.85" stroke="#333" stroke-width="0.6"/>
<line x1="508.9" y1="103.85" x2="507.7" y2="103.85" stroke="#333" stroke-width="0.6"/>
<line x1="343.8" y1="100.84" x2="342.6" y2="100.84" stroke="#333" stroke-width="0.6"/>
<line x1="508.9" y1="100.84" x2="507.7" y2="100.84" stroke="#333" stroke-width="0.6"/>
<line x1="343.8" y1="97.82" x2="341.4" y2="97.82" stroke="#333" stroke-width="0.6"/>
<line x1="508.9" y1="97.82" x2="506.5" y2="97.82" stroke="#333" stroke-width="0.6"/>
<line x1="343.8" y1="94.8" x2="342.6" y2="94.8" stroke="#333" stroke-width="0.6"/>
<line x1="508.9" y1="94.8" x2="507.7" y2="94.8" stroke="#333" stroke-width="0.6"/>
<line x1="343.8" y1="91.79" x2="342.6" y2="91.79" stroke="#333" stroke-width="0.6"/>
<line x1="508.9" y1="91.79" x2="507.7" y2="91.79" stroke="#333" stroke-width="0.6"/>
<line x1="343.8" y1="88.77" x2="342.6" y2="88.77" stroke="#333" stroke-width="0.6"/>
<line x1="508.9" y1="88.77" x2="507.7" y2="88.77" stroke="#333" stroke-width="0.6"/>
<line x1="343.8" y1="85.76" x2="342.6" y2="85.76" stroke="#333" stroke-width="0.6"/>
<line x1="508.9" y1="85.76" x2="507.7" y2="85.76" stroke="#333" stroke-width="0.6"/>
<line x1="343.8" y1="82.74" x2="341.4" y2="82.74" stroke="#333" stroke-width="0.6"/>
<line x1="508.9" y1="82.74" x2="506.5" y2="82.74" stroke="#333" stroke-width="0.6"/>
<line x1="343.8" y1="79.72" x2="342.6" y2="79.72" stroke="#333" stroke-width="0.6"/>
<line x1="508.9" y1="79.72" x2="507.7" y2="79.72" stroke="#333" stroke-width="0.6"/>
<line x1="343.8" y1="76.71" x2="342.6" y2="76.71" stroke="#333" stroke-width="0.6"/>
<line x1="508.9" y1="76.71" x2="507.7" y2="76.71" stroke="#333" stroke-width="0.6"/>
<line x1="343.8" y1="73.69" x2="342.6" y2="73.69" stroke="#333" stroke-width="0.6"/>
<line x1="508.9" y1="73.69" x2="507.7" y2="73.69" stroke="#333" stroke-width="0.6"/>
<line x1="343.8" y1="70.68" x2="342.6" y2="70.68" stroke="#333" stroke-width="0.6"/>
<line x1="508.9" y1="70.68" x2="507.7" y2="70.68" stroke="#333" stroke-width="0.6"/>
<line x1="343.8" y1="67.66" x2="341.4" y2="67.66" stroke="#333" stroke-width="0.6"/>
<line x1="508.9" y1="67.66" x2="506.5" y2="67.66" stroke="#333" stroke-width="0.6"/>
<line x1="343.8" y1="64.64" x2="342.6" y2="64.64" stroke="#333" stroke-width="0.6"/>
<line x1="508.9" y1="64.64" x2="507.7" y2="64.64" stroke="#333" stroke-width="0.6"/>
<line x1="343.8" y1="61.63" x2="342.6" y2="61.63" stroke="#333" stroke-width="0.6"/>
<line x1="508.9" y1="61.63" x2="507.7" y2="61.63" stroke="#333" stroke-width="0.6"/>
<line x1="343.8" y1="58.61" x2="342.6" y2="58.61" stroke="#333" stroke-width="0.6"/>
<line x1="508.9" y1="58.61" x2="507.7" y2="58.61" stroke="#333" stroke-width="0.6"/>
<line x1="343.8" y1="55.6" x2="342.6" y2="55.6" stroke="#333" stroke-width="0.6"/>
<line x1="508.9" y1="55.6" x2="507.7" y2="55.6" stroke="#333" stroke-width="0.6"/>
<line x1="343.8" y1="52.58" x2="341.4" y2="52.58" stroke="#333" stroke-width="0.6"/>
<line x1="508.9" y1="52.58" x2="506.5" y2="52.58" stroke="#333" stroke-width="0.6"/>
<line x1="343.8" y1="49.56" x2="342.6" y2="49.56" stroke="#333" stroke-width="0.6"/>
<line x1="508.9" y1="49.56" x2="507.7" y2="49.56" stroke="#333" stroke-width="0.6"/>
<line x1="343.8" y1="46.55" x2="342.6" y2="46.55" stroke="#333" stroke-width="0.6"/>
<line x1="508.9" y1="46.55" x2="507.7" y2="46.55" stroke="#333" stroke-width="0.6"/>
<text x="344" y="39.6" font-size="10" fill="#111" text-anchor="middle" font-weight="normal" font-style="normal" textLength="5.65" lengthAdjust="spacingAndGlyphs" stroke="#111" stroke-width="0.22">0</text>
<text x="376.9" y="39.6" font-size="10" fill="#111" text-anchor="middle" font-weight="normal" font-style="normal" textLength="16.95" lengthAdjust="spacingAndGlyphs" stroke="#111" stroke-width="0.22">100</text>
<text x="409.8" y="39.6" font-size="10" fill="#111" text-anchor="middle" font-weight="normal" font-style="normal" textLength="16.95" lengthAdjust="spacingAndGlyphs" stroke="#111" stroke-width="0.22">200</text>
<text x="442.7" y="39.6" font-size="10" fill="#111" text-anchor="middle" font-weight="normal" font-style="normal" textLength="16.95" lengthAdjust="spacingAndGlyphs" stroke="#111" stroke-width="0.22">300</text>
<text x="475.6" y="39.6" font-size="10" fill="#111" text-anchor="middle" font-weight="normal" font-style="normal" textLength="16.95" lengthAdjust="spacingAndGlyphs" stroke="#111" stroke-width="0.22">400</text>
<text x="508.5" y="39.6" font-size="10" fill="#111" text-anchor="middle" font-weight="normal" font-style="normal" textLength="16.95" lengthAdjust="spacingAndGlyphs" stroke="#111" stroke-width="0.22">500</text>
<text x="340.3" y="116.6" font-size="10.6" fill="#111" text-anchor="end" font-weight="normal" font-style="normal" textLength="5.8" lengthAdjust="spacingAndGlyphs" stroke="#111" stroke-width="0.22">0</text>
<text x="340.3" y="101.52" font-size="10.6" fill="#111" text-anchor="end" font-weight="normal" font-style="normal" textLength="5.8" lengthAdjust="spacingAndGlyphs" stroke="#111" stroke-width="0.22">2</text>
<text x="340.3" y="86.44" font-size="10.6" fill="#111" text-anchor="end" font-weight="normal" font-style="normal" textLength="5.8" lengthAdjust="spacingAndGlyphs" stroke="#111" stroke-width="0.22">4</text>
<text x="340.3" y="71.36" font-size="10.6" fill="#111" text-anchor="end" font-weight="normal" font-style="normal" textLength="5.8" lengthAdjust="spacingAndGlyphs" stroke="#111" stroke-width="0.22">6</text>
<text x="340.3" y="56.28" font-size="10.6" fill="#111" text-anchor="end" font-weight="normal" font-style="normal" textLength="5.8" lengthAdjust="spacingAndGlyphs" stroke="#111" stroke-width="0.22">8</text>
<text x="388" y="17.3" font-size="11.4" fill="#111" text-anchor="start" font-weight="normal" font-style="normal" textLength="88.5" lengthAdjust="spacingAndGlyphs" stroke="#111" stroke-width="0.22">Temperature (ºC)</text>
<text transform="translate(320.6,67.8) rotate(-90)" font-size="10" fill="#111" text-anchor="middle" stroke="#111" stroke-width="0.22">Real Permittivity (·10<tspan font-size="6.8" dy="-5">3</tspan><tspan dy="5">)</tspan></text>
<rect x="344.3" y="83.8" width="35" height="23.8" fill="#d2e8f8"/>
<path d="M344,95.11 C345.64,94.49 350.58,92.59 353.87,91.41 C357.16,90.23 360.45,89.34 363.74,88.02 C367.03,86.7 370.59,85.5 373.61,83.49 C376.63,81.48 379.37,78.84 381.83,75.95 C384.3,73.06 386.5,68.67 388.42,66.15 C390.33,63.64 391.81,62.07 393.35,60.87 C394.89,59.68 396.09,58.99 397.63,58.99 C399.16,58.99 400.81,59.43 402.56,60.87 C404.32,62.32 406.13,64.77 408.15,67.66 C410.18,70.55 412.27,74.7 414.74,78.22 C417.2,81.73 419.94,85.5 422.96,88.77 C425.98,92.04 428.99,95.5 432.83,97.82 C436.67,100.14 441.06,101.4 445.99,102.72 C450.93,104.04 455.86,104.95 462.44,105.74 C469.02,106.53 477.79,107.01 485.47,107.47 C493.15,107.94 504.66,108.35 508.5,108.53" stroke="#a0a0a0" stroke-width="0.9" fill="none" stroke-dasharray="1,1.1"/>
<path d="M344,97.07 C346.74,96.5 354.97,94.93 360.45,93.67 C365.93,92.42 372.79,90.97 376.9,89.53 C381.01,88.08 382.66,87.01 385.12,85 C387.59,82.99 389.79,80.23 391.7,77.46 C393.62,74.7 395.16,71.18 396.64,68.41 C398.12,65.65 399.16,63.01 400.59,60.87 C402.01,58.74 403.77,56.35 405.19,55.6 C406.62,54.84 407.72,55.09 409.14,56.35 C410.57,57.61 411.72,59.74 413.75,63.14 C415.78,66.53 418.68,72.31 421.31,76.71 C423.95,81.11 425.98,85.82 429.54,89.53 C433.1,93.23 437.76,96.5 442.7,98.95 C447.63,101.4 452.57,102.91 459.15,104.23 C465.73,105.55 473.95,106.18 482.18,106.87 C490.41,107.56 504.11,108.12 508.5,108.38" stroke="#777" stroke-width="0.9" fill="none" stroke-dasharray="3,1.2,1,1.2"/>
<path d="M344,98.2 C347.29,97.51 357.71,95.37 363.74,94.05 C369.77,92.73 375.8,92.04 380.19,90.28 C384.58,88.52 387.43,86.01 390.06,83.49 C392.69,80.98 394.23,77.71 395.98,75.2 C397.74,72.69 399.11,69.92 400.59,68.41 C402.07,66.91 403.33,66.03 404.87,66.15 C406.4,66.28 407.88,67.16 409.8,69.17 C411.72,71.18 413.91,75.07 416.38,78.22 C418.85,81.36 421.59,84.88 424.61,88.02 C427.62,91.16 430.36,94.62 434.48,97.07 C438.59,99.52 443.52,101.24 449.28,102.72 C455.04,104.2 462.44,105.17 469.02,105.96 C475.6,106.75 482.18,107.07 488.76,107.47 C495.34,107.87 505.21,108.23 508.5,108.38" stroke="#555" stroke-width="0.9" fill="none" stroke-dasharray="2.2,1.4"/>
<path d="M344,98.57 C348.39,97.88 362.64,95.68 370.32,94.43 C378,93.17 384.85,92.48 390.06,91.03 C395.27,89.59 398.28,87.89 401.57,85.76 C404.87,83.62 407.33,80.98 409.8,78.22 C412.27,75.45 414.41,71.43 416.38,69.17 C418.35,66.91 420,65.02 421.64,64.64 C423.29,64.27 424.66,65.15 426.25,66.91 C427.84,68.67 429.27,71.93 431.19,75.2 C433.1,78.47 435.02,82.93 437.76,86.51 C440.51,90.09 443.52,93.99 447.63,96.69 C451.75,99.39 456.68,101.13 462.44,102.72 C468.2,104.32 474.5,105.35 482.18,106.26 C489.86,107.18 504.11,107.9 508.5,108.23" stroke="#444" stroke-width="0.9" fill="none" stroke-dasharray="2.2,1.4"/>
<path d="M344,97.82 C348.94,97.19 364.84,95.31 373.61,94.05 C382.38,92.79 390.61,92.04 396.64,90.28 C402.67,88.52 406.18,86.26 409.8,83.49 C413.42,80.73 415.94,76.21 418.35,73.69 C420.77,71.18 422.52,68.92 424.28,68.41 C426.03,67.91 426.91,68.54 428.88,70.68 C430.86,72.81 433.27,77.46 436.12,81.23 C438.97,85 442.15,90.03 445.99,93.3 C449.83,96.56 453.67,98.83 459.15,100.84 C464.63,102.85 470.66,104.15 478.89,105.36 C487.12,106.57 503.56,107.62 508.5,108.07" stroke="#666" stroke-width="0.9" fill="none" stroke-dasharray="1,1.2"/>
<path d="M344,104.61 C345.15,104.04 348.83,101.97 350.91,101.21 C352.99,100.46 353.32,100.48 356.5,100.08 C359.68,99.68 365.49,99.18 369.99,98.8 C374.49,98.42 379.04,98.32 383.48,97.82 C387.92,97.32 392.86,96.8 396.64,95.78 C400.42,94.77 403.71,93.06 406.18,91.71 C408.65,90.37 409.85,89.97 411.44,87.72 C413.04,85.47 414.24,82.06 415.72,78.22 C417.2,74.37 418.85,67.91 420.33,64.64 C421.81,61.38 423.29,59.3 424.61,58.61 C425.92,57.92 427.02,59.37 428.22,60.5 C429.43,61.63 430.64,63.43 431.84,65.4 C433.05,67.37 434.15,69.44 435.46,72.33 C436.78,75.23 438.42,79.86 439.74,82.74 C441.06,85.62 441.88,87.44 443.36,89.6 C444.84,91.76 446.76,94.04 448.62,95.71 C450.49,97.38 452.08,98.35 454.54,99.63 C457.01,100.91 459.64,102.27 463.43,103.4 C467.21,104.53 472.36,105.69 477.25,106.42 C482.13,107.14 487.5,107.4 492.71,107.77 C497.92,108.15 505.87,108.53 508.5,108.68" stroke="#111" stroke-width="1.3" fill="none"/>
<path d="M343.5,108 C347.5,106 350,103 351.5,98.5 L355.1,89 L357.6,94.4" stroke="#2020d8" stroke-width="2.0" fill="none" stroke-linejoin="miter" stroke-linecap="round"/>
<path d="M377.2,106.5 C370,105.5 366.5,100.5 363.8,93.8 L360.7,87.4 L358.6,92.6" stroke="#e01e30" stroke-width="2.0" fill="none" stroke-linecap="round"/>
<line x1="357.3" y1="63.5" x2="357.3" y2="114.2" stroke="#2aa52a" stroke-width="1.6"/>
<polygon points="354.9,64.4 357.3,58.6 359.7,64.4" fill="#2aa52a"/>
<text x="352.3" y="58.3" font-size="13.5" fill="#2aa52a" text-anchor="start" font-weight="normal" font-style="normal" textLength="9.5" lengthAdjust="spacingAndGlyphs" stroke="#2aa52a" stroke-width="0.22">rt</text>
<text x="345.6" y="122.4" font-size="11" fill="#2a8a2a" textLength="21.5" lengthAdjust="spacingAndGlyphs" stroke="#2a8a2a" stroke-width="0.22">R<tspan fill="#e01e30" stroke="#e01e30" stroke-width="0.22">-O</tspan></text>
<text x="377.6" y="109.9" font-size="10.8" fill="#e01e30" textLength="19.8" lengthAdjust="spacingAndGlyphs" stroke="#e01e30" stroke-width="0.22">O<tspan fill="#333" stroke="#333" stroke-width="0.22">-</tspan><tspan fill="#2020d8" stroke="#2020d8" stroke-width="0.22">T</tspan></text>
<text x="425.2" y="58.2" font-size="11" fill="#2020d8" textLength="19.8" lengthAdjust="spacingAndGlyphs" stroke="#2020d8" stroke-width="0.22">T<tspan fill="#111" stroke="#111" stroke-width="0.22">-C</tspan></text>
<path d="M433.8,60.2 C441.5,61 446,65.5 443.2,69.8 C440,74 428,75.6 402,75.4" stroke="#e01e30" stroke-width="2.1" fill="none"/>
<path d="M405.8,72 L400.2,75.4 L405.8,78.8" stroke="#e01e30" stroke-width="1.9" fill="none" stroke-linejoin="miter"/>
<line x1="457.7" y1="78.8" x2="419" y2="101.8" stroke="#222" stroke-width="0.9"/>
<path d="M421.6,97.8 L418.6,102 L423.8,101.4" stroke="#222" stroke-width="0.9" fill="none"/>
<text transform="translate(458.2,80.2) rotate(-37)" font-size="9.6" fill="#222" stroke="#222" stroke-width="0.22">[Sb<tspan font-size="6" dy="-4">5+</tspan><tspan dy="4">]</tspan></text>
<text x="282.4" y="157.1" font-size="22.4" fill="#111" text-anchor="start" font-weight="normal" font-style="normal" textLength="24.6" lengthAdjust="spacingAndGlyphs" stroke="#111" stroke-width="0.22">(c)</text>
<text x="397.4" y="148.9" font-size="11.5" fill="#4aaa2e" text-anchor="start" font-weight="normal" font-style="normal" textLength="109" lengthAdjust="spacingAndGlyphs" stroke="#4aaa2e" stroke-width="0.22">room temperature (rt)</text>
<line x1="344.8" y1="164.5" x2="344.8" y2="215.5" stroke="#333" stroke-width="0.9"/>
<line x1="509" y1="164.5" x2="509" y2="215.5" stroke="#333" stroke-width="0.9"/>
<line x1="344.8" y1="213.99" x2="346.1" y2="213.99" stroke="#333" stroke-width="0.5"/>
<line x1="509" y1="213.99" x2="507.7" y2="213.99" stroke="#333" stroke-width="0.5"/>
<line x1="344.8" y1="211.09" x2="346.1" y2="211.09" stroke="#333" stroke-width="0.5"/>
<line x1="509" y1="211.09" x2="507.7" y2="211.09" stroke="#333" stroke-width="0.5"/>
<line x1="344.8" y1="208.2" x2="347.1" y2="208.2" stroke="#333" stroke-width="0.5"/>
<line x1="509" y1="208.2" x2="506.7" y2="208.2" stroke="#333" stroke-width="0.5"/>
<line x1="344.8" y1="205.31" x2="346.1" y2="205.31" stroke="#333" stroke-width="0.5"/>
<line x1="509" y1="205.31" x2="507.7" y2="205.31" stroke="#333" stroke-width="0.5"/>
<line x1="344.8" y1="202.41" x2="346.1" y2="202.41" stroke="#333" stroke-width="0.5"/>
<line x1="509" y1="202.41" x2="507.7" y2="202.41" stroke="#333" stroke-width="0.5"/>
<line x1="344.8" y1="199.52" x2="346.1" y2="199.52" stroke="#333" stroke-width="0.5"/>
<line x1="509" y1="199.52" x2="507.7" y2="199.52" stroke="#333" stroke-width="0.5"/>
<line x1="344.8" y1="196.63" x2="346.1" y2="196.63" stroke="#333" stroke-width="0.5"/>
<line x1="509" y1="196.63" x2="507.7" y2="196.63" stroke="#333" stroke-width="0.5"/>
<line x1="344.8" y1="193.73" x2="347.1" y2="193.73" stroke="#333" stroke-width="0.5"/>
<line x1="509" y1="193.73" x2="506.7" y2="193.73" stroke="#333" stroke-width="0.5"/>
<line x1="344.8" y1="190.84" x2="346.1" y2="190.84" stroke="#333" stroke-width="0.5"/>
<line x1="509" y1="190.84" x2="507.7" y2="190.84" stroke="#333" stroke-width="0.5"/>
<line x1="344.8" y1="187.95" x2="346.1" y2="187.95" stroke="#333" stroke-width="0.5"/>
<line x1="509" y1="187.95" x2="507.7" y2="187.95" stroke="#333" stroke-width="0.5"/>
<line x1="344.8" y1="185.05" x2="346.1" y2="185.05" stroke="#333" stroke-width="0.5"/>
<line x1="509" y1="185.05" x2="507.7" y2="185.05" stroke="#333" stroke-width="0.5"/>
<line x1="344.8" y1="182.16" x2="346.1" y2="182.16" stroke="#333" stroke-width="0.5"/>
<line x1="509" y1="182.16" x2="507.7" y2="182.16" stroke="#333" stroke-width="0.5"/>
<line x1="344.8" y1="179.27" x2="347.1" y2="179.27" stroke="#333" stroke-width="0.5"/>
<line x1="509" y1="179.27" x2="506.7" y2="179.27" stroke="#333" stroke-width="0.5"/>
<line x1="344.8" y1="176.37" x2="346.1" y2="176.37" stroke="#333" stroke-width="0.5"/>
<line x1="509" y1="176.37" x2="507.7" y2="176.37" stroke="#333" stroke-width="0.5"/>
<line x1="344.8" y1="173.48" x2="346.1" y2="173.48" stroke="#333" stroke-width="0.5"/>
<line x1="509" y1="173.48" x2="507.7" y2="173.48" stroke="#333" stroke-width="0.5"/>
<line x1="344.8" y1="170.59" x2="346.1" y2="170.59" stroke="#333" stroke-width="0.5"/>
<line x1="509" y1="170.59" x2="507.7" y2="170.59" stroke="#333" stroke-width="0.5"/>
<line x1="344.8" y1="167.69" x2="346.1" y2="167.69" stroke="#333" stroke-width="0.5"/>
<line x1="509" y1="167.69" x2="507.7" y2="167.69" stroke="#333" stroke-width="0.5"/>
<line x1="344.8" y1="164.8" x2="347.1" y2="164.8" stroke="#333" stroke-width="0.5"/>
<line x1="509" y1="164.8" x2="506.7" y2="164.8" stroke="#333" stroke-width="0.5"/>
<line x1="342.6" y1="164.8" x2="344.8" y2="164.8" stroke="#333" stroke-width="0.7"/>
<text x="340.4" y="168.1" font-size="9.4" fill="#111" text-anchor="end" font-weight="normal" font-style="normal" textLength="5.4" lengthAdjust="spacingAndGlyphs" stroke="#111" stroke-width="0.22">4</text>
<line x1="342.6" y1="178.8" x2="344.8" y2="178.8" stroke="#333" stroke-width="0.7"/>
<text x="340.4" y="182.1" font-size="9.4" fill="#111" text-anchor="end" font-weight="normal" font-style="normal" textLength="5.4" lengthAdjust="spacingAndGlyphs" stroke="#111" stroke-width="0.22">3</text>
<line x1="342.6" y1="193.1" x2="344.8" y2="193.1" stroke="#333" stroke-width="0.7"/>
<text x="340.4" y="196.4" font-size="9.4" fill="#111" text-anchor="end" font-weight="normal" font-style="normal" textLength="5.4" lengthAdjust="spacingAndGlyphs" stroke="#111" stroke-width="0.22">2</text>
<line x1="342.6" y1="208.2" x2="344.8" y2="208.2" stroke="#333" stroke-width="0.7"/>
<text x="340.4" y="211.5" font-size="9.4" fill="#111" text-anchor="end" font-weight="normal" font-style="normal" textLength="5.4" lengthAdjust="spacingAndGlyphs" stroke="#111" stroke-width="0.22">1</text>
<line x1="344.8" y1="227.5" x2="344.8" y2="278.5" stroke="#333" stroke-width="0.9"/>
<line x1="509" y1="227.5" x2="509" y2="278.5" stroke="#333" stroke-width="0.9"/>
<line x1="344.8" y1="278.42" x2="346.1" y2="278.42" stroke="#333" stroke-width="0.5"/>
<line x1="509" y1="278.42" x2="507.7" y2="278.42" stroke="#333" stroke-width="0.5"/>
<line x1="344.8" y1="274.48" x2="346.1" y2="274.48" stroke="#333" stroke-width="0.5"/>
<line x1="509" y1="274.48" x2="507.7" y2="274.48" stroke="#333" stroke-width="0.5"/>
<line x1="344.8" y1="270.54" x2="346.1" y2="270.54" stroke="#333" stroke-width="0.5"/>
<line x1="509" y1="270.54" x2="507.7" y2="270.54" stroke="#333" stroke-width="0.5"/>
<line x1="344.8" y1="266.6" x2="347.1" y2="266.6" stroke="#333" stroke-width="0.5"/>
<line x1="509" y1="266.6" x2="506.7" y2="266.6" stroke="#333" stroke-width="0.5"/>
<line x1="344.8" y1="262.66" x2="346.1" y2="262.66" stroke="#333" stroke-width="0.5"/>
<line x1="509" y1="262.66" x2="507.7" y2="262.66" stroke="#333" stroke-width="0.5"/>
<line x1="344.8" y1="258.72" x2="346.1" y2="258.72" stroke="#333" stroke-width="0.5"/>
<line x1="509" y1="258.72" x2="507.7" y2="258.72" stroke="#333" stroke-width="0.5"/>
<line x1="344.8" y1="254.78" x2="346.1" y2="254.78" stroke="#333" stroke-width="0.5"/>
<line x1="509" y1="254.78" x2="507.7" y2="254.78" stroke="#333" stroke-width="0.5"/>
<line x1="344.8" y1="250.84" x2="346.1" y2="250.84" stroke="#333" stroke-width="0.5"/>
<line x1="509" y1="250.84" x2="507.7" y2="250.84" stroke="#333" stroke-width="0.5"/>
<line x1="344.8" y1="246.9" x2="347.1" y2="246.9" stroke="#333" stroke-width="0.5"/>
<line x1="509" y1="246.9" x2="506.7" y2="246.9" stroke="#333" stroke-width="0.5"/>
<line x1="344.8" y1="242.96" x2="346.1" y2="242.96" stroke="#333" stroke-width="0.5"/>
<line x1="509" y1="242.96" x2="507.7" y2="242.96" stroke="#333" stroke-width="0.5"/>
<line x1="344.8" y1="239.02" x2="346.1" y2="239.02" stroke="#333" stroke-width="0.5"/>
<line x1="509" y1="239.02" x2="507.7" y2="239.02" stroke="#333" stroke-width="0.5"/>
<line x1="344.8" y1="235.08" x2="346.1" y2="235.08" stroke="#333" stroke-width="0.5"/>
<line x1="509" y1="235.08" x2="507.7" y2="235.08" stroke="#333" stroke-width="0.5"/>
<line x1="344.8" y1="231.14" x2="346.1" y2="231.14" stroke="#333" stroke-width="0.5"/>
<line x1="509" y1="231.14" x2="507.7" y2="231.14" stroke="#333" stroke-width="0.5"/>
<line x1="342.6" y1="227.2" x2="344.8" y2="227.2" stroke="#333" stroke-width="0.7"/>
<text x="340.4" y="230.5" font-size="9.4" fill="#111" text-anchor="end" font-weight="normal" font-style="normal" textLength="5.4" lengthAdjust="spacingAndGlyphs" stroke="#111" stroke-width="0.22">3</text>
<line x1="342.6" y1="247" x2="344.8" y2="247" stroke="#333" stroke-width="0.7"/>
<text x="340.4" y="250.3" font-size="9.4" fill="#111" text-anchor="end" font-weight="normal" font-style="normal" textLength="5.4" lengthAdjust="spacingAndGlyphs" stroke="#111" stroke-width="0.22">2</text>
<line x1="342.6" y1="266.6" x2="344.8" y2="266.6" stroke="#333" stroke-width="0.7"/>
<text x="340.4" y="269.9" font-size="9.4" fill="#111" text-anchor="end" font-weight="normal" font-style="normal" textLength="5.4" lengthAdjust="spacingAndGlyphs" stroke="#111" stroke-width="0.22">1</text>
<line x1="344.8" y1="284.8" x2="344.8" y2="336.4" stroke="#333" stroke-width="0.9"/>
<line x1="509" y1="284.8" x2="509" y2="336.4" stroke="#333" stroke-width="0.9"/>
<line x1="344.8" y1="332.8" x2="346.1" y2="332.8" stroke="#333" stroke-width="0.5"/>
<line x1="509" y1="332.8" x2="507.7" y2="332.8" stroke="#333" stroke-width="0.5"/>
<line x1="344.8" y1="328.8" x2="346.1" y2="328.8" stroke="#333" stroke-width="0.5"/>
<line x1="509" y1="328.8" x2="507.7" y2="328.8" stroke="#333" stroke-width="0.5"/>
<line x1="344.8" y1="324.8" x2="347.1" y2="324.8" stroke="#333" stroke-width="0.5"/>
<line x1="509" y1="324.8" x2="506.7" y2="324.8" stroke="#333" stroke-width="0.5"/>
<line x1="344.8" y1="320.8" x2="346.1" y2="320.8" stroke="#333" stroke-width="0.5"/>
<line x1="509" y1="320.8" x2="507.7" y2="320.8" stroke="#333" stroke-width="0.5"/>
<line x1="344.8" y1="316.8" x2="346.1" y2="316.8" stroke="#333" stroke-width="0.5"/>
<line x1="509" y1="316.8" x2="507.7" y2="316.8" stroke="#333" stroke-width="0.5"/>
<line x1="344.8" y1="312.8" x2="346.1" y2="312.8" stroke="#333" stroke-width="0.5"/>
<line x1="509" y1="312.8" x2="507.7" y2="312.8" stroke="#333" stroke-width="0.5"/>
<line x1="344.8" y1="308.8" x2="346.1" y2="308.8" stroke="#333" stroke-width="0.5"/>
<line x1="509" y1="308.8" x2="507.7" y2="308.8" stroke="#333" stroke-width="0.5"/>
<line x1="344.8" y1="304.8" x2="347.1" y2="304.8" stroke="#333" stroke-width="0.5"/>
<line x1="509" y1="304.8" x2="506.7" y2="304.8" stroke="#333" stroke-width="0.5"/>
<line x1="344.8" y1="300.8" x2="346.1" y2="300.8" stroke="#333" stroke-width="0.5"/>
<line x1="509" y1="300.8" x2="507.7" y2="300.8" stroke="#333" stroke-width="0.5"/>
<line x1="344.8" y1="296.8" x2="346.1" y2="296.8" stroke="#333" stroke-width="0.5"/>
<line x1="509" y1="296.8" x2="507.7" y2="296.8" stroke="#333" stroke-width="0.5"/>
<line x1="344.8" y1="292.8" x2="346.1" y2="292.8" stroke="#333" stroke-width="0.5"/>
<line x1="509" y1="292.8" x2="507.7" y2="292.8" stroke="#333" stroke-width="0.5"/>
<line x1="344.8" y1="288.8" x2="346.1" y2="288.8" stroke="#333" stroke-width="0.5"/>
<line x1="509" y1="288.8" x2="507.7" y2="288.8" stroke="#333" stroke-width="0.5"/>
<line x1="344.8" y1="284.8" x2="347.1" y2="284.8" stroke="#333" stroke-width="0.5"/>
<line x1="509" y1="284.8" x2="506.7" y2="284.8" stroke="#333" stroke-width="0.5"/>
<line x1="342.6" y1="284.8" x2="344.8" y2="284.8" stroke="#333" stroke-width="0.7"/>
<text x="340.4" y="288.1" font-size="9.4" fill="#111" text-anchor="end" font-weight="normal" font-style="normal" textLength="5.4" lengthAdjust="spacingAndGlyphs" stroke="#111" stroke-width="0.22">3</text>
<line x1="342.6" y1="304.5" x2="344.8" y2="304.5" stroke="#333" stroke-width="0.7"/>
<text x="340.4" y="307.8" font-size="9.4" fill="#111" text-anchor="end" font-weight="normal" font-style="normal" textLength="5.4" lengthAdjust="spacingAndGlyphs" stroke="#111" stroke-width="0.22">2</text>
<line x1="342.6" y1="324.8" x2="344.8" y2="324.8" stroke="#333" stroke-width="0.7"/>
<text x="340.4" y="328.1" font-size="9.4" fill="#111" text-anchor="end" font-weight="normal" font-style="normal" textLength="5.4" lengthAdjust="spacingAndGlyphs" stroke="#111" stroke-width="0.22">1</text>
<line x1="344.8" y1="348.3" x2="344.8" y2="398.8" stroke="#333" stroke-width="0.9"/>
<line x1="509" y1="348.3" x2="509" y2="398.8" stroke="#333" stroke-width="0.9"/>
<line x1="344.8" y1="395.76" x2="346.1" y2="395.76" stroke="#333" stroke-width="0.5"/>
<line x1="509" y1="395.76" x2="507.7" y2="395.76" stroke="#333" stroke-width="0.5"/>
<line x1="344.8" y1="390.58" x2="346.1" y2="390.58" stroke="#333" stroke-width="0.5"/>
<line x1="509" y1="390.58" x2="507.7" y2="390.58" stroke="#333" stroke-width="0.5"/>
<line x1="344.8" y1="385.4" x2="347.1" y2="385.4" stroke="#333" stroke-width="0.5"/>
<line x1="509" y1="385.4" x2="506.7" y2="385.4" stroke="#333" stroke-width="0.5"/>
<line x1="344.8" y1="380.22" x2="346.1" y2="380.22" stroke="#333" stroke-width="0.5"/>
<line x1="509" y1="380.22" x2="507.7" y2="380.22" stroke="#333" stroke-width="0.5"/>
<line x1="344.8" y1="375.04" x2="346.1" y2="375.04" stroke="#333" stroke-width="0.5"/>
<line x1="509" y1="375.04" x2="507.7" y2="375.04" stroke="#333" stroke-width="0.5"/>
<line x1="344.8" y1="369.86" x2="346.1" y2="369.86" stroke="#333" stroke-width="0.5"/>
<line x1="509" y1="369.86" x2="507.7" y2="369.86" stroke="#333" stroke-width="0.5"/>
<line x1="344.8" y1="364.68" x2="346.1" y2="364.68" stroke="#333" stroke-width="0.5"/>
<line x1="509" y1="364.68" x2="507.7" y2="364.68" stroke="#333" stroke-width="0.5"/>
<line x1="344.8" y1="359.5" x2="347.1" y2="359.5" stroke="#333" stroke-width="0.5"/>
<line x1="509" y1="359.5" x2="506.7" y2="359.5" stroke="#333" stroke-width="0.5"/>
<line x1="344.8" y1="354.32" x2="346.1" y2="354.32" stroke="#333" stroke-width="0.5"/>
<line x1="509" y1="354.32" x2="507.7" y2="354.32" stroke="#333" stroke-width="0.5"/>
<line x1="344.8" y1="349.14" x2="346.1" y2="349.14" stroke="#333" stroke-width="0.5"/>
<line x1="509" y1="349.14" x2="507.7" y2="349.14" stroke="#333" stroke-width="0.5"/>
<line x1="342.6" y1="359.5" x2="344.8" y2="359.5" stroke="#333" stroke-width="0.7"/>
<text x="340.4" y="362.8" font-size="9.4" fill="#111" text-anchor="end" font-weight="normal" font-style="normal" textLength="5.4" lengthAdjust="spacingAndGlyphs" stroke="#111" stroke-width="0.22">2</text>
<line x1="342.6" y1="385.4" x2="344.8" y2="385.4" stroke="#333" stroke-width="0.7"/>
<text x="340.4" y="388.7" font-size="9.4" fill="#111" text-anchor="end" font-weight="normal" font-style="normal" textLength="5.4" lengthAdjust="spacingAndGlyphs" stroke="#111" stroke-width="0.22">1</text>
<line x1="344.8" y1="407.7" x2="344.8" y2="457.8" stroke="#333" stroke-width="0.9"/>
<line x1="509" y1="407.7" x2="509" y2="457.8" stroke="#333" stroke-width="0.9"/>
<line x1="344.8" y1="455.2" x2="346.1" y2="455.2" stroke="#333" stroke-width="0.5"/>
<line x1="509" y1="455.2" x2="507.7" y2="455.2" stroke="#333" stroke-width="0.5"/>
<line x1="344.8" y1="450.1" x2="346.1" y2="450.1" stroke="#333" stroke-width="0.5"/>
<line x1="509" y1="450.1" x2="507.7" y2="450.1" stroke="#333" stroke-width="0.5"/>
<line x1="344.8" y1="445" x2="347.1" y2="445" stroke="#333" stroke-width="0.5"/>
<line x1="509" y1="445" x2="506.7" y2="445" stroke="#333" stroke-width="0.5"/>
<line x1="344.8" y1="439.9" x2="346.1" y2="439.9" stroke="#333" stroke-width="0.5"/>
<line x1="509" y1="439.9" x2="507.7" y2="439.9" stroke="#333" stroke-width="0.5"/>
<line x1="344.8" y1="434.8" x2="346.1" y2="434.8" stroke="#333" stroke-width="0.5"/>
<line x1="509" y1="434.8" x2="507.7" y2="434.8" stroke="#333" stroke-width="0.5"/>
<line x1="344.8" y1="429.7" x2="346.1" y2="429.7" stroke="#333" stroke-width="0.5"/>
<line x1="509" y1="429.7" x2="507.7" y2="429.7" stroke="#333" stroke-width="0.5"/>
<line x1="344.8" y1="424.6" x2="346.1" y2="424.6" stroke="#333" stroke-width="0.5"/>
<line x1="509" y1="424.6" x2="507.7" y2="424.6" stroke="#333" stroke-width="0.5"/>
<line x1="344.8" y1="419.5" x2="347.1" y2="419.5" stroke="#333" stroke-width="0.5"/>
<line x1="509" y1="419.5" x2="506.7" y2="419.5" stroke="#333" stroke-width="0.5"/>
<line x1="344.8" y1="414.4" x2="346.1" y2="414.4" stroke="#333" stroke-width="0.5"/>
<line x1="509" y1="414.4" x2="507.7" y2="414.4" stroke="#333" stroke-width="0.5"/>
<line x1="344.8" y1="409.3" x2="346.1" y2="409.3" stroke="#333" stroke-width="0.5"/>
<line x1="509" y1="409.3" x2="507.7" y2="409.3" stroke="#333" stroke-width="0.5"/>
<line x1="342.6" y1="419.5" x2="344.8" y2="419.5" stroke="#333" stroke-width="0.7"/>
<text x="340.4" y="422.8" font-size="9.4" fill="#111" text-anchor="end" font-weight="normal" font-style="normal" textLength="5.4" lengthAdjust="spacingAndGlyphs" stroke="#111" stroke-width="0.22">2</text>
<line x1="342.6" y1="445" x2="344.8" y2="445" stroke="#333" stroke-width="0.7"/>
<text x="340.4" y="448.3" font-size="9.4" fill="#111" text-anchor="end" font-weight="normal" font-style="normal" textLength="5.4" lengthAdjust="spacingAndGlyphs" stroke="#111" stroke-width="0.22">1</text>
<line x1="344.8" y1="458.2" x2="509" y2="458.2" stroke="#333" stroke-width="0.9"/>
<line x1="345" y1="458.2" x2="345" y2="460.8" stroke="#333" stroke-width="0.6"/>
<line x1="353.1" y1="458.2" x2="353.1" y2="459.8" stroke="#333" stroke-width="0.6"/>
<line x1="361.2" y1="458.2" x2="361.2" y2="459.8" stroke="#333" stroke-width="0.6"/>
<line x1="369.3" y1="458.2" x2="369.3" y2="459.8" stroke="#333" stroke-width="0.6"/>
<line x1="377.4" y1="458.2" x2="377.4" y2="459.8" stroke="#333" stroke-width="0.6"/>
<line x1="385.5" y1="458.2" x2="385.5" y2="460.8" stroke="#333" stroke-width="0.6"/>
<line x1="393.6" y1="458.2" x2="393.6" y2="459.8" stroke="#333" stroke-width="0.6"/>
<line x1="401.7" y1="458.2" x2="401.7" y2="459.8" stroke="#333" stroke-width="0.6"/>
<line x1="409.8" y1="458.2" x2="409.8" y2="459.8" stroke="#333" stroke-width="0.6"/>
<line x1="417.9" y1="458.2" x2="417.9" y2="459.8" stroke="#333" stroke-width="0.6"/>
<line x1="426" y1="458.2" x2="426" y2="460.8" stroke="#333" stroke-width="0.6"/>
<line x1="434.1" y1="458.2" x2="434.1" y2="459.8" stroke="#333" stroke-width="0.6"/>
<line x1="442.2" y1="458.2" x2="442.2" y2="459.8" stroke="#333" stroke-width="0.6"/>
<line x1="450.3" y1="458.2" x2="450.3" y2="459.8" stroke="#333" stroke-width="0.6"/>
<line x1="458.4" y1="458.2" x2="458.4" y2="459.8" stroke="#333" stroke-width="0.6"/>
<line x1="466.5" y1="458.2" x2="466.5" y2="460.8" stroke="#333" stroke-width="0.6"/>
<line x1="474.6" y1="458.2" x2="474.6" y2="459.8" stroke="#333" stroke-width="0.6"/>
<line x1="482.7" y1="458.2" x2="482.7" y2="459.8" stroke="#333" stroke-width="0.6"/>
<line x1="490.8" y1="458.2" x2="490.8" y2="459.8" stroke="#333" stroke-width="0.6"/>
<line x1="498.9" y1="458.2" x2="498.9" y2="459.8" stroke="#333" stroke-width="0.6"/>
<line x1="507" y1="458.2" x2="507" y2="460.8" stroke="#333" stroke-width="0.6"/>
<text x="345" y="472.3" font-size="10.8" fill="#111" text-anchor="middle" font-weight="normal" font-style="normal" textLength="21.5" lengthAdjust="spacingAndGlyphs" stroke="#111" stroke-width="0.22">-100</text>
<text x="385.5" y="472.3" font-size="10.8" fill="#111" text-anchor="middle" font-weight="normal" font-style="normal" textLength="15.5" lengthAdjust="spacingAndGlyphs" stroke="#111" stroke-width="0.22">-50</text>
<text x="426" y="472.3" font-size="10.8" fill="#111" text-anchor="middle" font-weight="normal" font-style="normal" textLength="6.2" lengthAdjust="spacingAndGlyphs" stroke="#111" stroke-width="0.22">0</text>
<text x="466.5" y="472.3" font-size="10.8" fill="#111" text-anchor="middle" font-weight="normal" font-style="normal" textLength="12.3" lengthAdjust="spacingAndGlyphs" stroke="#111" stroke-width="0.22">50</text>
<text x="507" y="472.3" font-size="10.8" fill="#111" text-anchor="middle" font-weight="normal" font-style="normal" textLength="18.4" lengthAdjust="spacingAndGlyphs" stroke="#111" stroke-width="0.22">100</text>
<text x="426.5" y="491.2" font-size="11.2" fill="#111" text-anchor="middle" stroke="#111" stroke-width="0.22">Temperature (<tspan font-size="7" dy="-4">o</tspan><tspan dy="4">C)</tspan></text>
<text transform="translate(324.3,298) rotate(-90)" font-size="12.4" fill="#111" text-anchor="middle" stroke="#111" stroke-width="0.22">Real Permittivity (·10<tspan font-size="7.4" dy="-4.8">3</tspan><tspan dy="4.8">)</tspan></text>
<line x1="353.5" y1="206" x2="353.5" y2="457.8" stroke="#9a9a9a" stroke-width="0.9"/>
<path d="M351.6,210.4 L353.5,205.2 L355.4,210.4" stroke="#9a9a9a" stroke-width="0.9" fill="none"/>
<text transform="translate(361.2,202.8) rotate(-90)" font-size="13" fill="#8a8a8a" textLength="36.5" lengthAdjust="spacingAndGlyphs" stroke="#8a8a8a" stroke-width="0.22">[Sb<tspan font-size="6.8" dy="-6">5+</tspan><tspan dy="6">]</tspan></text>
<text transform="translate(360.3,319.4) rotate(-90)" font-size="7.3" fill="#8a8a8a" textLength="60.5" lengthAdjust="spacingAndGlyphs" stroke="#8a8a8a" stroke-width="0.22">Substitution level</text>
<circle cx="361.8" cy="207.9" r="2.6" fill="#6a6a6a" stroke="#2a2a2a" stroke-width="0.6"/>
<circle cx="370.4" cy="206.7" r="2.6" fill="#6a6a6a" stroke="#2a2a2a" stroke-width="0.6"/>
<circle cx="378" cy="205.2" r="2.6" fill="#6a6a6a" stroke="#2a2a2a" stroke-width="0.6"/>
<circle cx="384.8" cy="204.2" r="2.6" fill="#6a6a6a" stroke="#2a2a2a" stroke-width="0.6"/>
<circle cx="391.9" cy="203.3" r="2.6" fill="#6a6a6a" stroke="#2a2a2a" stroke-width="0.6"/>
<circle cx="399.6" cy="201.8" r="2.6" fill="#6a6a6a" stroke="#2a2a2a" stroke-width="0.6"/>
<circle cx="407.3" cy="199.9" r="2.6" fill="#6a6a6a" stroke="#2a2a2a" stroke-width="0.6"/>
<circle cx="414" cy="198" r="2.6" fill="#6a6a6a" stroke="#2a2a2a" stroke-width="0.6"/>
<circle cx="421.2" cy="195.6" r="2.6" fill="#6a6a6a" stroke="#2a2a2a" stroke-width="0.6"/>
<circle cx="427.3" cy="193.5" r="2.6" fill="#6a6a6a" stroke="#2a2a2a" stroke-width="0.6"/>
<circle cx="431" cy="190" r="2.6" fill="#6a6a6a" stroke="#2a2a2a" stroke-width="0.6"/>
<circle cx="434.8" cy="187.43" r="2.6" fill="#6a6a6a" stroke="#2a2a2a" stroke-width="0.6"/>
<circle cx="438.6" cy="185.5" r="2.6" fill="#6a6a6a" stroke="#2a2a2a" stroke-width="0.6"/>
<circle cx="442.4" cy="183.77" r="2.6" fill="#6a6a6a" stroke="#2a2a2a" stroke-width="0.6"/>
<circle cx="446.2" cy="182.4" r="2.6" fill="#6a6a6a" stroke="#2a2a2a" stroke-width="0.6"/>
<circle cx="450" cy="181.22" r="2.6" fill="#6a6a6a" stroke="#2a2a2a" stroke-width="0.6"/>
<circle cx="453.8" cy="180.1" r="2.6" fill="#6a6a6a" stroke="#2a2a2a" stroke-width="0.6"/>
<circle cx="457.6" cy="178.79" r="2.6" fill="#6a6a6a" stroke="#2a2a2a" stroke-width="0.6"/>
<circle cx="461.4" cy="177.8" r="2.6" fill="#6a6a6a" stroke="#2a2a2a" stroke-width="0.6"/>
<circle cx="465.2" cy="177.16" r="2.6" fill="#6a6a6a" stroke="#2a2a2a" stroke-width="0.6"/>
<circle cx="469" cy="176.52" r="2.6" fill="#6a6a6a" stroke="#2a2a2a" stroke-width="0.6"/>
<circle cx="472.8" cy="175.88" r="2.6" fill="#6a6a6a" stroke="#2a2a2a" stroke-width="0.6"/>
<circle cx="476.6" cy="175.24" r="2.6" fill="#6a6a6a" stroke="#2a2a2a" stroke-width="0.6"/>
<circle cx="480.4" cy="174.52" r="2.6" fill="#6a6a6a" stroke="#2a2a2a" stroke-width="0.6"/>
<circle cx="484.2" cy="173.75" r="2.6" fill="#6a6a6a" stroke="#2a2a2a" stroke-width="0.6"/>
<circle cx="488" cy="172.98" r="2.6" fill="#6a6a6a" stroke="#2a2a2a" stroke-width="0.6"/>
<circle cx="491.8" cy="172.02" r="2.6" fill="#6a6a6a" stroke="#2a2a2a" stroke-width="0.6"/>
<circle cx="495.6" cy="170.71" r="2.6" fill="#6a6a6a" stroke="#2a2a2a" stroke-width="0.6"/>
<circle cx="499.4" cy="169.43" r="2.6" fill="#6a6a6a" stroke="#2a2a2a" stroke-width="0.6"/>
<circle cx="503.2" cy="168.17" r="2.6" fill="#6a6a6a" stroke="#2a2a2a" stroke-width="0.6"/>
<circle cx="361.8" cy="258.5" r="2.6" fill="#3a3a3a" stroke="#151515" stroke-width="0.6"/>
<circle cx="371" cy="256.9" r="2.6" fill="#3a3a3a" stroke="#151515" stroke-width="0.6"/>
<circle cx="379" cy="256" r="2.6" fill="#3a3a3a" stroke="#151515" stroke-width="0.6"/>
<circle cx="385.8" cy="254.8" r="2.6" fill="#3a3a3a" stroke="#151515" stroke-width="0.6"/>
<circle cx="393.5" cy="253.8" r="2.6" fill="#3a3a3a" stroke="#151515" stroke-width="0.6"/>
<circle cx="401.2" cy="252.9" r="2.6" fill="#3a3a3a" stroke="#151515" stroke-width="0.6"/>
<circle cx="408.8" cy="251.7" r="2.6" fill="#3a3a3a" stroke="#151515" stroke-width="0.6"/>
<circle cx="418.1" cy="250.8" r="2.6" fill="#3a3a3a" stroke="#151515" stroke-width="0.6"/>
<circle cx="425.8" cy="249.2" r="2.6" fill="#3a3a3a" stroke="#151515" stroke-width="0.6"/>
<circle cx="431.9" cy="247.7" r="2.6" fill="#3a3a3a" stroke="#151515" stroke-width="0.6"/>
<circle cx="438.1" cy="245.2" r="2.6" fill="#3a3a3a" stroke="#151515" stroke-width="0.6"/>
<circle cx="444.2" cy="242.2" r="2.6" fill="#3a3a3a" stroke="#151515" stroke-width="0.6"/>
<circle cx="448.8" cy="240.3" r="2.6" fill="#3a3a3a" stroke="#151515" stroke-width="0.6"/>
<circle cx="452.5" cy="239.44" r="2.6" fill="#3a3a3a" stroke="#151515" stroke-width="0.6"/>
<circle cx="456.2" cy="238.57" r="2.6" fill="#3a3a3a" stroke="#151515" stroke-width="0.6"/>
<circle cx="459.9" cy="237.95" r="2.6" fill="#3a3a3a" stroke="#151515" stroke-width="0.6"/>
<circle cx="463.6" cy="237.35" r="2.6" fill="#3a3a3a" stroke="#151515" stroke-width="0.6"/>
<circle cx="467.3" cy="236.75" r="2.6" fill="#3a3a3a" stroke="#151515" stroke-width="0.6"/>
<circle cx="471" cy="236.15" r="2.6" fill="#3a3a3a" stroke="#151515" stroke-width="0.6"/>
<circle cx="474.7" cy="235.6" r="2.6" fill="#3a3a3a" stroke="#151515" stroke-width="0.6"/>
<circle cx="478.4" cy="235.07" r="2.6" fill="#3a3a3a" stroke="#151515" stroke-width="0.6"/>
<circle cx="482.1" cy="234.54" r="2.6" fill="#3a3a3a" stroke="#151515" stroke-width="0.6"/>
<circle cx="485.8" cy="234.01" r="2.6" fill="#3a3a3a" stroke="#151515" stroke-width="0.6"/>
<circle cx="489.5" cy="233.57" r="2.6" fill="#3a3a3a" stroke="#151515" stroke-width="0.6"/>
<circle cx="493.2" cy="233.18" r="2.6" fill="#3a3a3a" stroke="#151515" stroke-width="0.6"/>
<circle cx="496.9" cy="232.79" r="2.6" fill="#3a3a3a" stroke="#151515" stroke-width="0.6"/>
<circle cx="500.6" cy="232.4" r="2.6" fill="#3a3a3a" stroke="#151515" stroke-width="0.6"/>
<circle cx="504.3" cy="232.02" r="2.6" fill="#3a3a3a" stroke="#151515" stroke-width="0.6"/>
<circle cx="361.2" cy="321.5" r="2.6" fill="#2a2a2a" stroke="#111" stroke-width="0.6"/>
<circle cx="368.8" cy="320.6" r="2.6" fill="#2a2a2a" stroke="#111" stroke-width="0.6"/>
<circle cx="379" cy="319.4" r="2.6" fill="#2a2a2a" stroke="#111" stroke-width="0.6"/>
<circle cx="386.4" cy="318.8" r="2.6" fill="#2a2a2a" stroke="#111" stroke-width="0.6"/>
<circle cx="393.5" cy="317.8" r="2.6" fill="#2a2a2a" stroke="#111" stroke-width="0.6"/>
<circle cx="401.2" cy="316.9" r="2.6" fill="#2a2a2a" stroke="#111" stroke-width="0.6"/>
<circle cx="407.9" cy="316" r="2.6" fill="#2a2a2a" stroke="#111" stroke-width="0.6"/>
<circle cx="415" cy="314.8" r="2.6" fill="#2a2a2a" stroke="#111" stroke-width="0.6"/>
<circle cx="421.2" cy="313.8" r="2.6" fill="#2a2a2a" stroke="#111" stroke-width="0.6"/>
<circle cx="428.2" cy="312.3" r="2.6" fill="#2a2a2a" stroke="#111" stroke-width="0.6"/>
<circle cx="435.6" cy="310.2" r="2.6" fill="#2a2a2a" stroke="#111" stroke-width="0.6"/>
<circle cx="441" cy="309.01" r="2.6" fill="#2a2a2a" stroke="#111" stroke-width="0.6"/>
<circle cx="444.8" cy="308.1" r="2.6" fill="#2a2a2a" stroke="#111" stroke-width="0.6"/>
<circle cx="448.6" cy="306.81" r="2.6" fill="#2a2a2a" stroke="#111" stroke-width="0.6"/>
<circle cx="452.4" cy="305.18" r="2.6" fill="#2a2a2a" stroke="#111" stroke-width="0.6"/>
<circle cx="456.2" cy="303.25" r="2.6" fill="#2a2a2a" stroke="#111" stroke-width="0.6"/>
<circle cx="460" cy="301.86" r="2.6" fill="#2a2a2a" stroke="#111" stroke-width="0.6"/>
<circle cx="463.8" cy="300.56" r="2.6" fill="#2a2a2a" stroke="#111" stroke-width="0.6"/>
<circle cx="467.6" cy="299.37" r="2.6" fill="#2a2a2a" stroke="#111" stroke-width="0.6"/>
<circle cx="471.4" cy="298.29" r="2.6" fill="#2a2a2a" stroke="#111" stroke-width="0.6"/>
<circle cx="475.2" cy="297.5" r="2.6" fill="#2a2a2a" stroke="#111" stroke-width="0.6"/>
<circle cx="479" cy="296.75" r="2.6" fill="#2a2a2a" stroke="#111" stroke-width="0.6"/>
<circle cx="482.8" cy="296.13" r="2.6" fill="#2a2a2a" stroke="#111" stroke-width="0.6"/>
<circle cx="486.6" cy="295.51" r="2.6" fill="#2a2a2a" stroke="#111" stroke-width="0.6"/>
<circle cx="490.4" cy="294.86" r="2.6" fill="#2a2a2a" stroke="#111" stroke-width="0.6"/>
<circle cx="494.2" cy="294.2" r="2.6" fill="#2a2a2a" stroke="#111" stroke-width="0.6"/>
<circle cx="498" cy="293.59" r="2.6" fill="#2a2a2a" stroke="#111" stroke-width="0.6"/>
<circle cx="501.8" cy="293.06" r="2.6" fill="#2a2a2a" stroke="#111" stroke-width="0.6"/>
<circle cx="505.6" cy="292.54" r="2.6" fill="#2a2a2a" stroke="#111" stroke-width="0.6"/>
<circle cx="361.6" cy="387.8" r="2.6" fill="#111"/>
<circle cx="369.7" cy="386.4" r="2.6" fill="#111"/>
<circle cx="380.1" cy="384.8" r="2.6" fill="#111"/>
<circle cx="386.1" cy="383.8" r="2.6" fill="#111"/>
<circle cx="393.1" cy="382.7" r="2.6" fill="#111"/>
<circle cx="399.1" cy="381.5" r="2.6" fill="#111"/>
<circle cx="405.2" cy="380.8" r="2.6" fill="#111"/>
<circle cx="411.2" cy="378.6" r="2.6" fill="#111"/>
<circle cx="414.7" cy="378.3" r="2.6" fill="#111"/>
<circle cx="421.6" cy="377.4" r="2.6" fill="#111"/>
<circle cx="427.7" cy="374.5" r="2.6" fill="#111"/>
<circle cx="432.5" cy="372.9" r="2.6" fill="#111"/>
<circle cx="436.6" cy="372.33" r="2.6" fill="#111"/>
<circle cx="440.7" cy="371.76" r="2.6" fill="#111"/>
<circle cx="444.8" cy="371.15" r="2.6" fill="#111"/>
<circle cx="448.9" cy="369.19" r="2.6" fill="#111"/>
<circle cx="453" cy="367.22" r="2.6" fill="#111"/>
<circle cx="457.1" cy="365.81" r="2.6" fill="#111"/>
<circle cx="461.2" cy="364.72" r="2.6" fill="#111"/>
<circle cx="465.3" cy="363.7" r="2.6" fill="#111"/>
<circle cx="469.4" cy="362.9" r="2.6" fill="#111"/>
<circle cx="473.5" cy="362.24" r="2.6" fill="#111"/>
<circle cx="477.6" cy="362.01" r="2.6" fill="#111"/>
<circle cx="481.7" cy="361.77" r="2.6" fill="#111"/>
<circle cx="485.8" cy="361.54" r="2.6" fill="#111"/>
<circle cx="489.9" cy="361.31" r="2.6" fill="#111"/>
<circle cx="494" cy="361.12" r="2.6" fill="#111"/>
<circle cx="498.1" cy="360.95" r="2.6" fill="#111"/>
<circle cx="502.2" cy="360.77" r="2.6" fill="#111"/>
<circle cx="506.3" cy="360.6" r="2.6" fill="#111"/>
<circle cx="361.8" cy="451.5" r="2.6" fill="#111"/>
<circle cx="368.8" cy="450.6" r="2.6" fill="#111"/>
<circle cx="377.2" cy="450" r="2.6" fill="#111"/>
<circle cx="384.2" cy="449.1" r="2.6" fill="#111"/>
<circle cx="391.3" cy="447.5" r="2.6" fill="#111"/>
<circle cx="398.1" cy="446" r="2.6" fill="#111"/>
<circle cx="404.2" cy="443.8" r="2.6" fill="#111"/>
<circle cx="410.4" cy="442.29" r="2.6" fill="#111"/>
<circle cx="416.5" cy="440.8" r="2.6" fill="#111"/>
<circle cx="424.2" cy="439.5" r="2.6" fill="#111"/>
<circle cx="431.9" cy="438.3" r="2.6" fill="#111"/>
<circle cx="435.9" cy="437.68" r="2.6" fill="#111"/>
<circle cx="439.9" cy="437.05" r="2.6" fill="#111"/>
<circle cx="443.9" cy="436.37" r="2.6" fill="#111"/>
<circle cx="447.9" cy="435.61" r="2.6" fill="#111"/>
<circle cx="451.9" cy="434.37" r="2.6" fill="#111"/>
<circle cx="455.9" cy="433.12" r="2.6" fill="#111"/>
<circle cx="459.9" cy="431.9" r="2.6" fill="#111"/>
<circle cx="463.9" cy="430.65" r="2.6" fill="#111"/>
<circle cx="467.9" cy="429.38" r="2.6" fill="#111"/>
<circle cx="471.9" cy="428.37" r="2.6" fill="#111"/>
<circle cx="475.9" cy="427.42" r="2.6" fill="#111"/>
<circle cx="479.9" cy="426.29" r="2.6" fill="#111"/>
<circle cx="483.9" cy="424.95" r="2.6" fill="#111"/>
<circle cx="487.9" cy="423.64" r="2.6" fill="#111"/>
<circle cx="491.9" cy="422.55" r="2.6" fill="#111"/>
<circle cx="495.9" cy="421.54" r="2.6" fill="#111"/>
<circle cx="499.9" cy="420.84" r="2.6" fill="#111"/>
<circle cx="503.9" cy="420.13" r="2.6" fill="#111"/>
<rect x="444.8" y="172" width="4.1" height="286.2" fill="#26a414"/>
<polygon points="441,176.5 446.85,155.8 452.7,176.5 446.85,171" fill="#2aaa18"/>
<line x1="455.4" y1="162.3" x2="455.4" y2="199.2" stroke="#2828d8" stroke-width="1.1"/>
<line x1="446.85" y1="217" x2="446.85" y2="256" stroke="#1a3a70" stroke-width="2.2"/>
<line x1="446.85" y1="217" x2="452.23" y2="205.32" stroke="#2424d8" stroke-width="2.3"/>
<polygon points="454.4,200.6 454.57,208.6 452.31,205.14 448.21,205.68" fill="#2424d8"/>
<line x1="435.6" y1="286.1" x2="443.82" y2="260.35" stroke="#2424d8" stroke-width="2.3"/>
<polygon points="445.4,255.4 446.54,263.32 443.88,260.16 439.88,261.19" fill="#2424d8"/>
<line x1="435.6" y1="286.1" x2="435.6" y2="322.2" stroke="#6a86ea" stroke-width="0.8"/>
<line x1="426.6" y1="341.5" x2="433.26" y2="328.25" stroke="#2424d8" stroke-width="2.3"/>
<polygon points="435.6,323.6 435.49,331.6 433.35,328.07 429.24,328.46" fill="#2424d8"/>
<line x1="457.2" y1="286.1" x2="449.83" y2="260.4" stroke="#e01a24" stroke-width="2.3"/>
<polygon points="448.4,255.4 453.75,261.36 449.78,260.21 447.02,263.29" fill="#e01a24"/>
<line x1="457.2" y1="286.1" x2="457.2" y2="322.2" stroke="#f29098" stroke-width="0.8"/>
<line x1="464.5" y1="340.5" x2="459.56" y2="330.83" stroke="#e01a24" stroke-width="2.3"/>
<polygon points="457.2,326.2 463.59,331.02 459.47,330.65 457.36,334.2" fill="#e01a24"/>
<line x1="421.7" y1="350.6" x2="432.98" y2="329.2" stroke="#2424d8" stroke-width="2.3"/>
<polygon points="435.4,324.6 435.14,332.6 433.07,329.02 428.95,329.34" fill="#2424d8"/>
<line x1="421.7" y1="350.6" x2="421.7" y2="390.8" stroke="#6a86ea" stroke-width="0.8"/>
<line x1="410.6" y1="415.8" x2="419.52" y2="399.37" stroke="#2424d8" stroke-width="2.3"/>
<polygon points="422,394.8 421.64,402.8 419.61,399.19 415.49,399.46" fill="#2424d8"/>
<line x1="410.6" y1="415.8" x2="410.6" y2="454.7" stroke="#6a86ea" stroke-width="0.8"/>
<line x1="470.8" y1="350" x2="459.8" y2="329.96" stroke="#e01a24" stroke-width="2.3"/>
<polygon points="457.3,325.4 463.83,330.03 459.71,329.78 457.7,333.4" fill="#e01a24"/>
<line x1="470.8" y1="350" x2="470.8" y2="388" stroke="#f29098" stroke-width="0.8"/>
<line x1="490.3" y1="404.7" x2="476.15" y2="392.58" stroke="#e01a24" stroke-width="2.3"/>
<polygon points="472.2,389.2 479.95,391.22 476,392.45 475.39,396.54" fill="#e01a24"/>
<line x1="491.7" y1="404.7" x2="491.7" y2="442.2" stroke="#f29098" stroke-width="0.8"/>
<text x="425" y="228" font-size="13" fill="#2a8a2a" text-anchor="start" font-weight="bold" font-style="normal" textLength="9.6" lengthAdjust="spacingAndGlyphs" stroke="#2a8a2a" stroke-width="0.22">R</text>
<text x="464.6" y="228" font-size="13" fill="#2424d8" text-anchor="start" font-weight="bold" font-style="normal" textLength="8.8" lengthAdjust="spacingAndGlyphs" stroke="#2424d8" stroke-width="0.22">T</text>
<text x="375" y="440.4" font-size="13" fill="#2a8a2a" text-anchor="start" font-weight="bold" font-style="normal" textLength="9.8" lengthAdjust="spacingAndGlyphs" stroke="#2a8a2a" stroke-width="0.22">R</text>
<text x="461.7" y="420" font-size="13" fill="#e01a24" text-anchor="start" font-weight="bold" font-style="normal" textLength="10" lengthAdjust="spacingAndGlyphs" stroke="#e01a24" stroke-width="0.22">O</text>
<text x="493.9" y="407.5" font-size="13" fill="#2424d8" text-anchor="start" font-weight="bold" font-style="normal" textLength="7.5" lengthAdjust="spacingAndGlyphs" stroke="#2424d8" stroke-width="0.22">T</text>
<text x="1.5" y="338.3" font-size="22.4" fill="#111" text-anchor="start" font-weight="normal" font-style="normal" textLength="25.4" lengthAdjust="spacingAndGlyphs" stroke="#111" stroke-width="0.22">(d)</text>
<defs><linearGradient id="gd" x1="0" x2="1" y1="0" y2="0"><stop offset="0" stop-color="#ff1424"/><stop offset="0.22" stop-color="#f24670"/><stop offset="0.5" stop-color="#ca7ac0"/><stop offset="0.72" stop-color="#a898e6"/><stop offset="1" stop-color="#70a0ff"/></linearGradient></defs>
<rect x="64" y="350.2" width="164.6" height="108.4" fill="url(#gd)"/>
<rect x="64" y="350.2" width="164.6" height="108.4" fill="none" stroke="#222" stroke-width="0.9"/>
<line x1="64" y1="452.2" x2="62.6" y2="452.2" stroke="#222" stroke-width="0.6"/>
<line x1="228.6" y1="452.2" x2="230" y2="452.2" stroke="#222" stroke-width="0.6"/>
<line x1="64" y1="445.4" x2="62.6" y2="445.4" stroke="#222" stroke-width="0.6"/>
<line x1="228.6" y1="445.4" x2="230" y2="445.4" stroke="#222" stroke-width="0.6"/>
<line x1="64" y1="438.6" x2="62.6" y2="438.6" stroke="#222" stroke-width="0.6"/>
<line x1="228.6" y1="438.6" x2="230" y2="438.6" stroke="#222" stroke-width="0.6"/>
<line x1="64" y1="431.8" x2="62.6" y2="431.8" stroke="#222" stroke-width="0.6"/>
<line x1="228.6" y1="431.8" x2="230" y2="431.8" stroke="#222" stroke-width="0.6"/>
<line x1="64" y1="425" x2="61.7" y2="425" stroke="#222" stroke-width="0.6"/>
<line x1="228.6" y1="425" x2="230.9" y2="425" stroke="#222" stroke-width="0.6"/>
<line x1="64" y1="418.2" x2="62.6" y2="418.2" stroke="#222" stroke-width="0.6"/>
<line x1="228.6" y1="418.2" x2="230" y2="418.2" stroke="#222" stroke-width="0.6"/>
<line x1="64" y1="411.4" x2="62.6" y2="411.4" stroke="#222" stroke-width="0.6"/>
<line x1="228.6" y1="411.4" x2="230" y2="411.4" stroke="#222" stroke-width="0.6"/>
<line x1="64" y1="404.6" x2="62.6" y2="404.6" stroke="#222" stroke-width="0.6"/>
<line x1="228.6" y1="404.6" x2="230" y2="404.6" stroke="#222" stroke-width="0.6"/>
<line x1="64" y1="397.8" x2="62.6" y2="397.8" stroke="#222" stroke-width="0.6"/>
<line x1="228.6" y1="397.8" x2="230" y2="397.8" stroke="#222" stroke-width="0.6"/>
<line x1="64" y1="391" x2="61.7" y2="391" stroke="#222" stroke-width="0.6"/>
<line x1="228.6" y1="391" x2="230.9" y2="391" stroke="#222" stroke-width="0.6"/>
<line x1="64" y1="384.2" x2="62.6" y2="384.2" stroke="#222" stroke-width="0.6"/>
<line x1="228.6" y1="384.2" x2="230" y2="384.2" stroke="#222" stroke-width="0.6"/>
<line x1="64" y1="377.4" x2="62.6" y2="377.4" stroke="#222" stroke-width="0.6"/>
<line x1="228.6" y1="377.4" x2="230" y2="377.4" stroke="#222" stroke-width="0.6"/>
<line x1="64" y1="370.6" x2="62.6" y2="370.6" stroke="#222" stroke-width="0.6"/>
<line x1="228.6" y1="370.6" x2="230" y2="370.6" stroke="#222" stroke-width="0.6"/>
<line x1="64" y1="363.8" x2="62.6" y2="363.8" stroke="#222" stroke-width="0.6"/>
<line x1="228.6" y1="363.8" x2="230" y2="363.8" stroke="#222" stroke-width="0.6"/>
<line x1="64" y1="357" x2="61.7" y2="357" stroke="#222" stroke-width="0.6"/>
<line x1="228.6" y1="357" x2="230.9" y2="357" stroke="#222" stroke-width="0.6"/>
<line x1="61.5" y1="458.6" x2="64" y2="458.6" stroke="#222" stroke-width="0.7"/>
<text x="59.6" y="462.5" font-size="9.8" fill="#111" text-anchor="end" font-weight="normal" font-style="normal" textLength="18.2" lengthAdjust="spacingAndGlyphs" stroke="#111" stroke-width="0.22">100</text>
<line x1="61.5" y1="425" x2="64" y2="425" stroke="#222" stroke-width="0.7"/>
<text x="59.6" y="428.5" font-size="9.8" fill="#111" text-anchor="end" font-weight="normal" font-style="normal" textLength="18.2" lengthAdjust="spacingAndGlyphs" stroke="#111" stroke-width="0.22">200</text>
<line x1="61.5" y1="391" x2="64" y2="391" stroke="#222" stroke-width="0.7"/>
<text x="59.6" y="394.5" font-size="9.8" fill="#111" text-anchor="end" font-weight="normal" font-style="normal" textLength="18.2" lengthAdjust="spacingAndGlyphs" stroke="#111" stroke-width="0.22">300</text>
<line x1="61.5" y1="357" x2="64" y2="357" stroke="#222" stroke-width="0.7"/>
<text x="59.6" y="360.5" font-size="9.8" fill="#111" text-anchor="end" font-weight="normal" font-style="normal" textLength="18.2" lengthAdjust="spacingAndGlyphs" stroke="#111" stroke-width="0.22">400</text>
<text x="80.8" y="471.6" font-size="10" fill="#111" text-anchor="middle" font-weight="normal" font-style="normal" textLength="19.5" lengthAdjust="spacingAndGlyphs" stroke="#111" stroke-width="0.22">0.00</text>
<line x1="80.8" y1="458.6" x2="80.8" y2="461" stroke="#222" stroke-width="0.7"/>
<line x1="80.8" y1="350.2" x2="80.8" y2="347.8" stroke="#222" stroke-width="0.7"/>
<text x="106.9" y="471.6" font-size="10" fill="#111" text-anchor="middle" font-weight="normal" font-style="normal" textLength="19.5" lengthAdjust="spacingAndGlyphs" stroke="#111" stroke-width="0.22">0.05</text>
<line x1="106.9" y1="458.6" x2="106.9" y2="461" stroke="#222" stroke-width="0.7"/>
<line x1="106.9" y1="350.2" x2="106.9" y2="347.8" stroke="#222" stroke-width="0.7"/>
<text x="144.8" y="471.6" font-size="10" fill="#111" text-anchor="middle" font-weight="normal" font-style="normal" textLength="19.5" lengthAdjust="spacingAndGlyphs" stroke="#111" stroke-width="0.22">0.06</text>
<line x1="144.8" y1="458.6" x2="144.8" y2="461" stroke="#222" stroke-width="0.7"/>
<line x1="144.8" y1="350.2" x2="144.8" y2="347.8" stroke="#222" stroke-width="0.7"/>
<text x="181.8" y="471.6" font-size="10" fill="#111" text-anchor="middle" font-weight="normal" font-style="normal" textLength="19.5" lengthAdjust="spacingAndGlyphs" stroke="#111" stroke-width="0.22">0.07</text>
<line x1="181.8" y1="458.6" x2="181.8" y2="461" stroke="#222" stroke-width="0.7"/>
<line x1="181.8" y1="350.2" x2="181.8" y2="347.8" stroke="#222" stroke-width="0.7"/>
<text x="218.5" y="471.6" font-size="10" fill="#111" text-anchor="middle" font-weight="normal" font-style="normal" textLength="19.5" lengthAdjust="spacingAndGlyphs" stroke="#111" stroke-width="0.22">0.08</text>
<line x1="218.5" y1="458.6" x2="218.5" y2="461" stroke="#222" stroke-width="0.7"/>
<line x1="218.5" y1="350.2" x2="218.5" y2="347.8" stroke="#222" stroke-width="0.7"/>
<rect x="96.6" y="349.1" width="2.4" height="2.2" fill="white"/>
<line x1="95.6" y1="352.2" x2="97.8" y2="346.4" stroke="#333" stroke-width="0.9"/>
<line x1="98.4" y1="352.2" x2="100.6" y2="346.4" stroke="#333" stroke-width="0.9"/>
<rect x="96.6" y="457.5" width="2.4" height="2.2" fill="white"/>
<line x1="95.6" y1="460.6" x2="97.8" y2="454.8" stroke="#333" stroke-width="0.9"/>
<line x1="98.4" y1="460.6" x2="100.6" y2="454.8" stroke="#333" stroke-width="0.9"/>
<line x1="169.3" y1="350.9" x2="169.3" y2="458" stroke="#ffffff" stroke-width="1.9" stroke-dasharray="1.9,8.0"/>
<line x1="80.1" y1="412.7" x2="107.8" y2="395.4" stroke="#111" stroke-width="0.9" stroke-dasharray="2.6,1.6"/>
<line x1="107.8" y1="395.4" x2="144.8" y2="387.4" stroke="#111" stroke-width="0.9"/>
<line x1="144.8" y1="387.4" x2="181.8" y2="359" stroke="#111" stroke-width="0.9"/>
<line x1="181.8" y1="359" x2="218.5" y2="377.4" stroke="#111" stroke-width="0.9"/>
<line x1="80.1" y1="407.2" x2="80.1" y2="418.2" stroke="#222" stroke-width="0.6"/>
<line x1="78.9" y1="407.2" x2="81.3" y2="407.2" stroke="#222" stroke-width="0.6"/>
<line x1="78.9" y1="418.2" x2="81.3" y2="418.2" stroke="#222" stroke-width="0.6"/>
<circle cx="80.1" cy="412.7" r="3.6" fill="#111"/>
<line x1="107.8" y1="389.9" x2="107.8" y2="400.9" stroke="#222" stroke-width="0.6"/>
<line x1="106.6" y1="389.9" x2="109" y2="389.9" stroke="#222" stroke-width="0.6"/>
<line x1="106.6" y1="400.9" x2="109" y2="400.9" stroke="#222" stroke-width="0.6"/>
<circle cx="107.8" cy="395.4" r="3.6" fill="#111"/>
<line x1="144.8" y1="381.9" x2="144.8" y2="392.9" stroke="#222" stroke-width="0.6"/>
<line x1="143.6" y1="381.9" x2="146" y2="381.9" stroke="#222" stroke-width="0.6"/>
<line x1="143.6" y1="392.9" x2="146" y2="392.9" stroke="#222" stroke-width="0.6"/>
<circle cx="144.8" cy="387.4" r="3.6" fill="#111"/>
<line x1="181.8" y1="353.5" x2="181.8" y2="364.5" stroke="#222" stroke-width="0.6"/>
<line x1="180.6" y1="353.5" x2="183" y2="353.5" stroke="#222" stroke-width="0.6"/>
<line x1="180.6" y1="364.5" x2="183" y2="364.5" stroke="#222" stroke-width="0.6"/>
<circle cx="181.8" cy="359" r="3.6" fill="#111"/>
<line x1="218.5" y1="371.9" x2="218.5" y2="382.9" stroke="#222" stroke-width="0.6"/>
<line x1="217.3" y1="371.9" x2="219.7" y2="371.9" stroke="#222" stroke-width="0.6"/>
<line x1="217.3" y1="382.9" x2="219.7" y2="382.9" stroke="#222" stroke-width="0.6"/>
<circle cx="218.5" cy="377.4" r="3.6" fill="#111"/>
<text x="107.6" y="443.8" font-size="20" font-weight="bold" fill="#f01050" textLength="33.8" lengthAdjust="spacingAndGlyphs" stroke="#f01050" stroke-width="0.22">O<tspan fill="#333" stroke="#333" stroke-width="0.22">-</tspan><tspan fill="#1818d0" stroke="#1818d0" stroke-width="0.22">T</tspan></text>
<text transform="translate(200.4,422) rotate(-90)" font-size="20" font-weight="bold" fill="#1818d0" stroke="#1818d0" stroke-width="0.22">T</text>
<line x1="195.3" y1="405.2" x2="195.3" y2="410" stroke="#111" stroke-width="2.6"/>
<text transform="translate(200.9,403.6) rotate(-90)" font-size="20" font-weight="bold" fill="#1a7a2a" stroke="#1a7a2a" stroke-width="0.22">R</text>
<text transform="translate(25.6,408.2) rotate(-90)" font-size="12.5" fill="#111" text-anchor="middle" stroke="#111" stroke-width="0.22"><tspan font-style="italic">d</tspan><tspan font-size="8" dy="2.6">33</tspan><tspan dy="-2.6"> (pC/N)</tspan></text>
<text x="152.6" y="496.7" font-size="13" fill="#111" text-anchor="middle" stroke="#111" stroke-width="0.22"><tspan font-style="italic">x</tspan> in (KNLN<tspan font-size="7.5" dy="4">1-<tspan font-style="italic">x</tspan></tspan><tspan dy="-4">S</tspan><tspan font-size="7.5" dy="4" font-style="italic">x</tspan><tspan dy="-4">)-(BZ)</tspan></text>
</svg>
</body></html>
